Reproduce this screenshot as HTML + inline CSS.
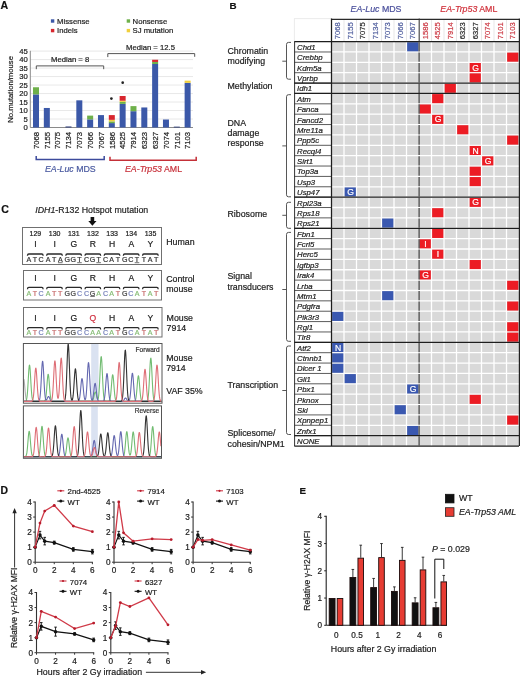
<!DOCTYPE html>
<html><head><meta charset="utf-8"><title>Figure</title>
<style>
html,body{margin:0;padding:0;background:#fff;}
body{width:520px;height:677px;overflow:hidden;}
svg{display:block;font-family:"Liberation Sans",Arial,sans-serif;}
text{stroke-width:0.2px;stroke-linejoin:round;}
</style></head>
<body>
<svg width="520" height="677" viewBox="0 0 520 677">
<rect width="520" height="677" fill="#fff"/>
<text x="0.6" y="9.4" font-size="10.6" font-weight="bold" fill="#111" stroke="#111">A</text>
<rect x="50.9" y="19.3" width="3.4" height="3.4" fill="#3b58a8"/>
<text x="57.1" y="23.6" font-size="7.7" fill="#1c1c1c" stroke="#1c1c1c">Missense</text>
<rect x="50.9" y="28.9" width="3.4" height="3.4" fill="#d8262e"/>
<text x="57.1" y="33.2" font-size="7.7" fill="#1c1c1c" stroke="#1c1c1c">Indels</text>
<rect x="126.7" y="19.3" width="3.4" height="3.4" fill="#6eb04a"/>
<text x="132.6" y="23.6" font-size="7.7" fill="#1c1c1c" stroke="#1c1c1c">Nonsense</text>
<rect x="126.7" y="28.9" width="3.4" height="3.4" fill="#f0cf3c"/>
<text x="132.6" y="33.2" font-size="7.7" fill="#1c1c1c" stroke="#1c1c1c">SJ mutation</text>
<line x1="30.3" y1="119.01" x2="193" y2="119.01" stroke="#e2e2e2" stroke-width="0.8"/>
<line x1="30.3" y1="110.52" x2="193" y2="110.52" stroke="#e2e2e2" stroke-width="0.8"/>
<line x1="30.3" y1="102.03" x2="193" y2="102.03" stroke="#e2e2e2" stroke-width="0.8"/>
<line x1="30.3" y1="93.54" x2="193" y2="93.54" stroke="#e2e2e2" stroke-width="0.8"/>
<line x1="30.3" y1="85.05" x2="193" y2="85.05" stroke="#e2e2e2" stroke-width="0.8"/>
<line x1="30.3" y1="76.56" x2="193" y2="76.56" stroke="#e2e2e2" stroke-width="0.8"/>
<line x1="30.3" y1="68.07" x2="193" y2="68.07" stroke="#e2e2e2" stroke-width="0.8"/>
<line x1="30.3" y1="59.58" x2="193" y2="59.58" stroke="#e2e2e2" stroke-width="0.8"/>
<line x1="30.3" y1="51.09" x2="193" y2="51.09" stroke="#e2e2e2" stroke-width="0.8"/>
<text x="27.8" y="130.25" font-size="7.7" text-anchor="end" fill="#1c1c1c" stroke="#1c1c1c">0</text>
<text x="27.8" y="121.76" font-size="7.7" text-anchor="end" fill="#1c1c1c" stroke="#1c1c1c">5</text>
<text x="27.8" y="113.27" font-size="7.7" text-anchor="end" fill="#1c1c1c" stroke="#1c1c1c">10</text>
<text x="27.8" y="104.78" font-size="7.7" text-anchor="end" fill="#1c1c1c" stroke="#1c1c1c">15</text>
<text x="27.8" y="96.29" font-size="7.7" text-anchor="end" fill="#1c1c1c" stroke="#1c1c1c">20</text>
<text x="27.8" y="87.8" font-size="7.7" text-anchor="end" fill="#1c1c1c" stroke="#1c1c1c">25</text>
<text x="27.8" y="79.31" font-size="7.7" text-anchor="end" fill="#1c1c1c" stroke="#1c1c1c">30</text>
<text x="27.8" y="70.82" font-size="7.7" text-anchor="end" fill="#1c1c1c" stroke="#1c1c1c">35</text>
<text x="27.8" y="62.33" font-size="7.7" text-anchor="end" fill="#1c1c1c" stroke="#1c1c1c">40</text>
<text x="27.8" y="53.84" font-size="7.7" text-anchor="end" fill="#1c1c1c" stroke="#1c1c1c">45</text>
<line x1="30.3" y1="50.79" x2="30.3" y2="127.5" stroke="#8a8a8a" stroke-width="1"/>
<line x1="30.3" y1="127.5" x2="193" y2="127.5" stroke="#8a8a8a" stroke-width="1"/>
<text x="13.3" y="89.4" font-size="7.7" text-anchor="middle" fill="#1c1c1c" stroke="#1c1c1c" transform="rotate(-90 13.3 89.4)">No.mutation/mouse</text>
<rect x="33" y="94.39" width="6" height="33.11" fill="#3b58a8"/>
<rect x="33" y="87.26" width="6" height="7.13" fill="#6eb04a"/>
<text x="38.75" y="132" font-size="7.7" text-anchor="end" fill="#1c1c1c" stroke="#1c1c1c" transform="rotate(-90 38.75 132)">7068</text>
<rect x="43.83" y="107.97" width="6" height="19.53" fill="#3b58a8"/>
<text x="49.58" y="132" font-size="7.7" text-anchor="end" fill="#1c1c1c" stroke="#1c1c1c" transform="rotate(-90 49.58 132)">7155</text>
<text x="60.41" y="132" font-size="7.7" text-anchor="end" fill="#1c1c1c" stroke="#1c1c1c" transform="rotate(-90 60.41 132)">7075</text>
<rect x="65.49" y="126.48" width="6" height="1.02" fill="#2a3a7a"/>
<text x="71.24" y="132" font-size="7.7" text-anchor="end" fill="#1c1c1c" stroke="#1c1c1c" transform="rotate(-90 71.24 132)">7134</text>
<rect x="76.32" y="100.33" width="6" height="27.17" fill="#3b58a8"/>
<text x="82.07" y="132" font-size="7.7" text-anchor="end" fill="#1c1c1c" stroke="#1c1c1c" transform="rotate(-90 82.07 132)">7073</text>
<rect x="87.15" y="119.35" width="6" height="8.15" fill="#3b58a8"/>
<rect x="87.15" y="115.61" width="6" height="3.74" fill="#6eb04a"/>
<text x="92.9" y="132" font-size="7.7" text-anchor="end" fill="#1c1c1c" stroke="#1c1c1c" transform="rotate(-90 92.9 132)">7066</text>
<rect x="97.98" y="115.1" width="6" height="12.4" fill="#3b58a8"/>
<text x="103.73" y="132" font-size="7.7" text-anchor="end" fill="#1c1c1c" stroke="#1c1c1c" transform="rotate(-90 103.73 132)">7067</text>
<rect x="108.81" y="123.09" width="6" height="4.41" fill="#3b58a8"/>
<rect x="108.81" y="121.39" width="6" height="1.7" fill="#6eb04a"/>
<rect x="108.81" y="119.86" width="6" height="1.53" fill="#f0cf3c"/>
<rect x="108.81" y="115.1" width="6" height="4.75" fill="#d8262e"/>
<text x="114.56" y="132" font-size="7.7" text-anchor="end" fill="#1c1c1c" stroke="#1c1c1c" transform="rotate(-90 114.56 132)">1586</text>
<rect x="119.64" y="103.9" width="6" height="23.6" fill="#3b58a8"/>
<rect x="119.64" y="101.86" width="6" height="2.04" fill="#6eb04a"/>
<rect x="119.64" y="100.76" width="6" height="1.1" fill="#f0cf3c"/>
<rect x="119.64" y="96" width="6" height="4.75" fill="#d8262e"/>
<text x="125.39" y="132" font-size="7.7" text-anchor="end" fill="#1c1c1c" stroke="#1c1c1c" transform="rotate(-90 125.39 132)">4525</text>
<rect x="130.47" y="111.2" width="6" height="16.3" fill="#3b58a8"/>
<rect x="130.47" y="106.11" width="6" height="5.09" fill="#6eb04a"/>
<text x="136.22" y="132" font-size="7.7" text-anchor="end" fill="#1c1c1c" stroke="#1c1c1c" transform="rotate(-90 136.22 132)">7914</text>
<rect x="141.3" y="107.46" width="6" height="20.04" fill="#3b58a8"/>
<text x="147.05" y="132" font-size="7.7" text-anchor="end" fill="#1c1c1c" stroke="#1c1c1c" transform="rotate(-90 147.05 132)">6323</text>
<rect x="152.13" y="63.99" width="6" height="63.51" fill="#3b58a8"/>
<rect x="152.13" y="61.96" width="6" height="2.04" fill="#6eb04a"/>
<rect x="152.13" y="59.75" width="6" height="2.21" fill="#d8262e"/>
<text x="157.88" y="132" font-size="7.7" text-anchor="end" fill="#1c1c1c" stroke="#1c1c1c" transform="rotate(-90 157.88 132)">6327</text>
<rect x="162.96" y="119.52" width="6" height="7.98" fill="#3b58a8"/>
<text x="168.71" y="132" font-size="7.7" text-anchor="end" fill="#1c1c1c" stroke="#1c1c1c" transform="rotate(-90 168.71 132)">7074</text>
<rect x="173.79" y="126.65" width="6" height="0.85" fill="#2a3a7a"/>
<text x="179.54" y="132" font-size="7.7" text-anchor="end" fill="#1c1c1c" stroke="#1c1c1c" transform="rotate(-90 179.54 132)">7101</text>
<rect x="184.62" y="82.84" width="6" height="44.66" fill="#3b58a8"/>
<rect x="184.62" y="80.64" width="6" height="2.21" fill="#f0cf3c"/>
<text x="190.37" y="132" font-size="7.7" text-anchor="end" fill="#1c1c1c" stroke="#1c1c1c" transform="rotate(-90 190.37 132)">7103</text>
<circle cx="111.4" cy="98.6" r="1.35" fill="#222"/>
<circle cx="122.7" cy="82.7" r="1.35" fill="#222"/>
<path d="M36.3,69.2V65.9H103.7V69.2" stroke="#555" stroke-width="1" fill="none"/>
<text x="51" y="62.3" font-size="7.7" fill="#1c1c1c" stroke="#1c1c1c">Median = 8</text>
<path d="M107.8,57.1V53.6H194.7V56.8" stroke="#555" stroke-width="1" fill="none"/>
<text x="126" y="50.4" font-size="7.7" fill="#1c1c1c" stroke="#1c1c1c">Median = 12.5</text>
<path d="M36.2,156.1V159.6H104.2V156.1" stroke="#3c4a9c" stroke-width="1.5" fill="none"/>
<text x="44.9" y="172.3" font-size="8.8" fill="#4a5aa0" stroke="#4a5aa0"><tspan font-style="italic">EA-Luc</tspan> MDS</text>
<path d="M110,156.7V160.2H196.2V156.7" stroke="#c43038" stroke-width="1.5" fill="none"/>
<text x="125" y="172.0" font-size="8.8" fill="#c8323c" stroke="#c8323c"><tspan font-style="italic">EA-Trp53</tspan> AML</text>
<text x="229.6" y="9.3" font-size="9.8" font-weight="bold" fill="#111" stroke="#111">B</text>
<text x="350.6" y="12.1" font-size="8.8" fill="#4b509c" stroke="#4b509c"><tspan font-style="italic">EA-Luc</tspan> MDS</text>
<text x="440.3" y="12.1" font-size="8.8" fill="#d0303a" stroke="#d0303a"><tspan font-style="italic">EA-Trp53</tspan> AML</text>
<rect x="294.3" y="18.7" width="37.2" height="22.9" fill="#fff" stroke="#e6e6e6" stroke-width="0.8"/>
<line x1="344" y1="19" x2="344" y2="41.6" stroke="#dcdcdc" stroke-width="0.7"/>
<line x1="356.5" y1="19" x2="356.5" y2="41.6" stroke="#dcdcdc" stroke-width="0.7"/>
<line x1="369" y1="19" x2="369" y2="41.6" stroke="#dcdcdc" stroke-width="0.7"/>
<line x1="381.5" y1="19" x2="381.5" y2="41.6" stroke="#dcdcdc" stroke-width="0.7"/>
<line x1="394" y1="19" x2="394" y2="41.6" stroke="#dcdcdc" stroke-width="0.7"/>
<line x1="406.5" y1="19" x2="406.5" y2="41.6" stroke="#dcdcdc" stroke-width="0.7"/>
<line x1="419" y1="19" x2="419" y2="41.6" stroke="#dcdcdc" stroke-width="0.7"/>
<line x1="431.5" y1="19" x2="431.5" y2="41.6" stroke="#dcdcdc" stroke-width="0.7"/>
<line x1="444" y1="19" x2="444" y2="41.6" stroke="#dcdcdc" stroke-width="0.7"/>
<line x1="456.5" y1="19" x2="456.5" y2="41.6" stroke="#dcdcdc" stroke-width="0.7"/>
<line x1="469" y1="19" x2="469" y2="41.6" stroke="#dcdcdc" stroke-width="0.7"/>
<line x1="481.5" y1="19" x2="481.5" y2="41.6" stroke="#dcdcdc" stroke-width="0.7"/>
<line x1="494" y1="19" x2="494" y2="41.6" stroke="#dcdcdc" stroke-width="0.7"/>
<line x1="506.5" y1="19" x2="506.5" y2="41.6" stroke="#dcdcdc" stroke-width="0.7"/>
<text x="340.5" y="39.2" font-size="7.6" fill="#52609f" stroke="#52609f" transform="rotate(-90 340.5 39.2)">7068</text>
<text x="353" y="39.2" font-size="7.6" fill="#52609f" stroke="#52609f" transform="rotate(-90 353 39.2)">7155</text>
<text x="365.5" y="39.2" font-size="7.6" fill="#2a2a2a" stroke="#2a2a2a" transform="rotate(-90 365.5 39.2)">7075</text>
<text x="378" y="39.2" font-size="7.6" fill="#52609f" stroke="#52609f" transform="rotate(-90 378 39.2)">7134</text>
<text x="390.5" y="39.2" font-size="7.6" fill="#52609f" stroke="#52609f" transform="rotate(-90 390.5 39.2)">7073</text>
<text x="403" y="39.2" font-size="7.6" fill="#52609f" stroke="#52609f" transform="rotate(-90 403 39.2)">7066</text>
<text x="415.5" y="39.2" font-size="7.6" fill="#52609f" stroke="#52609f" transform="rotate(-90 415.5 39.2)">7067</text>
<text x="428" y="39.2" font-size="7.6" fill="#cc3a44" stroke="#cc3a44" transform="rotate(-90 428 39.2)">1586</text>
<text x="440.5" y="39.2" font-size="7.6" fill="#cc3a44" stroke="#cc3a44" transform="rotate(-90 440.5 39.2)">4525</text>
<text x="453" y="39.2" font-size="7.6" fill="#cc3a44" stroke="#cc3a44" transform="rotate(-90 453 39.2)">7914</text>
<text x="465.5" y="39.2" font-size="7.6" fill="#2a2a2a" stroke="#2a2a2a" transform="rotate(-90 465.5 39.2)">6323</text>
<text x="478" y="39.2" font-size="7.6" fill="#2a2a2a" stroke="#2a2a2a" transform="rotate(-90 478 39.2)">6327</text>
<text x="490.5" y="39.2" font-size="7.6" fill="#cc3a44" stroke="#cc3a44" transform="rotate(-90 490.5 39.2)">7074</text>
<text x="503" y="39.2" font-size="7.6" fill="#cc3a44" stroke="#cc3a44" transform="rotate(-90 503 39.2)">7101</text>
<text x="515.5" y="39.2" font-size="7.6" fill="#cc3a44" stroke="#cc3a44" transform="rotate(-90 515.5 39.2)">7103</text>
<line x1="331.5" y1="19.3" x2="519" y2="19.3" stroke="#2a2a2a" stroke-width="1.2"/>
<rect x="331.5" y="41.6" width="187.5" height="404.43" fill="#d9d9d9"/>
<line x1="344" y1="41.6" x2="344" y2="446.03" stroke="#ffffff" stroke-width="1.3"/>
<line x1="356.5" y1="41.6" x2="356.5" y2="446.03" stroke="#ffffff" stroke-width="1.3"/>
<line x1="369" y1="41.6" x2="369" y2="446.03" stroke="#ffffff" stroke-width="1.3"/>
<line x1="381.5" y1="41.6" x2="381.5" y2="446.03" stroke="#ffffff" stroke-width="1.3"/>
<line x1="394" y1="41.6" x2="394" y2="446.03" stroke="#ffffff" stroke-width="1.3"/>
<line x1="406.5" y1="41.6" x2="406.5" y2="446.03" stroke="#ffffff" stroke-width="1.3"/>
<line x1="431.5" y1="41.6" x2="431.5" y2="446.03" stroke="#ffffff" stroke-width="1.3"/>
<line x1="444" y1="41.6" x2="444" y2="446.03" stroke="#ffffff" stroke-width="1.3"/>
<line x1="456.5" y1="41.6" x2="456.5" y2="446.03" stroke="#ffffff" stroke-width="1.3"/>
<line x1="469" y1="41.6" x2="469" y2="446.03" stroke="#ffffff" stroke-width="1.3"/>
<line x1="481.5" y1="41.6" x2="481.5" y2="446.03" stroke="#ffffff" stroke-width="1.3"/>
<line x1="494" y1="41.6" x2="494" y2="446.03" stroke="#ffffff" stroke-width="1.3"/>
<line x1="506.5" y1="41.6" x2="506.5" y2="446.03" stroke="#ffffff" stroke-width="1.3"/>
<line x1="331.5" y1="51.97" x2="519" y2="51.97" stroke="#ffffff" stroke-width="1.3"/>
<line x1="331.5" y1="62.34" x2="519" y2="62.34" stroke="#ffffff" stroke-width="1.3"/>
<line x1="331.5" y1="72.71" x2="519" y2="72.71" stroke="#ffffff" stroke-width="1.3"/>
<line x1="331.5" y1="83.08" x2="519" y2="83.08" stroke="#ffffff" stroke-width="1.3"/>
<line x1="331.5" y1="93.45" x2="519" y2="93.45" stroke="#ffffff" stroke-width="1.3"/>
<line x1="331.5" y1="103.82" x2="519" y2="103.82" stroke="#ffffff" stroke-width="1.3"/>
<line x1="331.5" y1="114.19" x2="519" y2="114.19" stroke="#ffffff" stroke-width="1.3"/>
<line x1="331.5" y1="124.56" x2="519" y2="124.56" stroke="#ffffff" stroke-width="1.3"/>
<line x1="331.5" y1="134.93" x2="519" y2="134.93" stroke="#ffffff" stroke-width="1.3"/>
<line x1="331.5" y1="145.3" x2="519" y2="145.3" stroke="#ffffff" stroke-width="1.3"/>
<line x1="331.5" y1="155.67" x2="519" y2="155.67" stroke="#ffffff" stroke-width="1.3"/>
<line x1="331.5" y1="166.04" x2="519" y2="166.04" stroke="#ffffff" stroke-width="1.3"/>
<line x1="331.5" y1="176.41" x2="519" y2="176.41" stroke="#ffffff" stroke-width="1.3"/>
<line x1="331.5" y1="186.78" x2="519" y2="186.78" stroke="#ffffff" stroke-width="1.3"/>
<line x1="331.5" y1="197.15" x2="519" y2="197.15" stroke="#ffffff" stroke-width="1.3"/>
<line x1="331.5" y1="207.52" x2="519" y2="207.52" stroke="#ffffff" stroke-width="1.3"/>
<line x1="331.5" y1="217.89" x2="519" y2="217.89" stroke="#ffffff" stroke-width="1.3"/>
<line x1="331.5" y1="228.26" x2="519" y2="228.26" stroke="#ffffff" stroke-width="1.3"/>
<line x1="331.5" y1="238.63" x2="519" y2="238.63" stroke="#ffffff" stroke-width="1.3"/>
<line x1="331.5" y1="249" x2="519" y2="249" stroke="#ffffff" stroke-width="1.3"/>
<line x1="331.5" y1="259.37" x2="519" y2="259.37" stroke="#ffffff" stroke-width="1.3"/>
<line x1="331.5" y1="269.74" x2="519" y2="269.74" stroke="#ffffff" stroke-width="1.3"/>
<line x1="331.5" y1="280.11" x2="519" y2="280.11" stroke="#ffffff" stroke-width="1.3"/>
<line x1="331.5" y1="290.48" x2="519" y2="290.48" stroke="#ffffff" stroke-width="1.3"/>
<line x1="331.5" y1="300.85" x2="519" y2="300.85" stroke="#ffffff" stroke-width="1.3"/>
<line x1="331.5" y1="311.22" x2="519" y2="311.22" stroke="#ffffff" stroke-width="1.3"/>
<line x1="331.5" y1="321.59" x2="519" y2="321.59" stroke="#ffffff" stroke-width="1.3"/>
<line x1="331.5" y1="331.96" x2="519" y2="331.96" stroke="#ffffff" stroke-width="1.3"/>
<line x1="331.5" y1="342.33" x2="519" y2="342.33" stroke="#ffffff" stroke-width="1.3"/>
<line x1="331.5" y1="352.7" x2="519" y2="352.7" stroke="#ffffff" stroke-width="1.3"/>
<line x1="331.5" y1="363.07" x2="519" y2="363.07" stroke="#ffffff" stroke-width="1.3"/>
<line x1="331.5" y1="373.44" x2="519" y2="373.44" stroke="#ffffff" stroke-width="1.3"/>
<line x1="331.5" y1="383.81" x2="519" y2="383.81" stroke="#ffffff" stroke-width="1.3"/>
<line x1="331.5" y1="394.18" x2="519" y2="394.18" stroke="#ffffff" stroke-width="1.3"/>
<line x1="331.5" y1="404.55" x2="519" y2="404.55" stroke="#ffffff" stroke-width="1.3"/>
<line x1="331.5" y1="414.92" x2="519" y2="414.92" stroke="#ffffff" stroke-width="1.3"/>
<line x1="331.5" y1="425.29" x2="519" y2="425.29" stroke="#ffffff" stroke-width="1.3"/>
<line x1="331.5" y1="435.66" x2="519" y2="435.66" stroke="#ffffff" stroke-width="1.3"/>
<rect x="407.15" y="42.25" width="11.2" height="9.07" fill="#3a58b0"/>
<rect x="507.15" y="52.62" width="11.2" height="9.07" fill="#ec1c24"/>
<rect x="469.65" y="62.99" width="11.2" height="9.07" fill="#ec1c24"/>
<text x="475.55" y="70.62" font-size="8.6" text-anchor="middle" fill="#fff" stroke="#fff">G</text>
<rect x="469.65" y="73.36" width="11.2" height="9.07" fill="#ec1c24"/>
<rect x="444.65" y="83.73" width="11.2" height="9.07" fill="#ec1c24"/>
<rect x="432.15" y="94.1" width="11.2" height="9.07" fill="#ec1c24"/>
<rect x="419.65" y="104.47" width="11.2" height="9.07" fill="#ec1c24"/>
<rect x="432.15" y="114.84" width="11.2" height="9.07" fill="#ec1c24"/>
<text x="438.05" y="122.47" font-size="8.6" text-anchor="middle" fill="#fff" stroke="#fff">G</text>
<rect x="457.15" y="125.21" width="11.2" height="9.07" fill="#ec1c24"/>
<rect x="507.15" y="135.58" width="11.2" height="9.07" fill="#ec1c24"/>
<rect x="469.65" y="145.95" width="11.2" height="9.07" fill="#ec1c24"/>
<text x="475.55" y="153.58" font-size="8.6" text-anchor="middle" fill="#fff" stroke="#fff">N</text>
<rect x="482.15" y="156.32" width="11.2" height="9.07" fill="#ec1c24"/>
<text x="488.05" y="163.95" font-size="8.6" text-anchor="middle" fill="#fff" stroke="#fff">G</text>
<rect x="469.65" y="166.69" width="11.2" height="9.07" fill="#ec1c24"/>
<rect x="469.65" y="177.06" width="11.2" height="9.07" fill="#ec1c24"/>
<rect x="344.65" y="187.43" width="11.2" height="9.07" fill="#3a58b0"/>
<text x="350.55" y="195.06" font-size="8.6" text-anchor="middle" fill="#fff" stroke="#fff">G</text>
<rect x="469.65" y="197.8" width="11.2" height="9.07" fill="#ec1c24"/>
<text x="475.55" y="205.43" font-size="8.6" text-anchor="middle" fill="#fff" stroke="#fff">G</text>
<rect x="432.15" y="208.17" width="11.2" height="9.07" fill="#ec1c24"/>
<rect x="382.15" y="218.54" width="11.2" height="9.07" fill="#3a58b0"/>
<rect x="432.15" y="228.91" width="11.2" height="9.07" fill="#ec1c24"/>
<rect x="419.65" y="239.28" width="11.2" height="9.07" fill="#ec1c24"/>
<text x="425.55" y="246.91" font-size="8.6" text-anchor="middle" fill="#fff" stroke="#fff">I</text>
<rect x="432.15" y="249.65" width="11.2" height="9.07" fill="#ec1c24"/>
<text x="438.05" y="257.28" font-size="8.6" text-anchor="middle" fill="#fff" stroke="#fff">I</text>
<rect x="469.65" y="260.02" width="11.2" height="9.07" fill="#ec1c24"/>
<rect x="419.65" y="270.39" width="11.2" height="9.07" fill="#ec1c24"/>
<text x="425.55" y="278.03" font-size="8.6" text-anchor="middle" fill="#fff" stroke="#fff">G</text>
<rect x="507.15" y="280.76" width="11.2" height="9.07" fill="#ec1c24"/>
<rect x="382.15" y="291.13" width="11.2" height="9.07" fill="#3a58b0"/>
<rect x="507.15" y="301.5" width="11.2" height="9.07" fill="#ec1c24"/>
<rect x="332.15" y="311.87" width="11.2" height="9.07" fill="#3a58b0"/>
<rect x="507.15" y="322.24" width="11.2" height="9.07" fill="#ec1c24"/>
<rect x="507.15" y="332.61" width="11.2" height="9.07" fill="#ec1c24"/>
<rect x="332.15" y="342.98" width="11.2" height="9.07" fill="#3a58b0"/>
<text x="338.05" y="350.62" font-size="8.6" text-anchor="middle" fill="#fff" stroke="#fff">N</text>
<rect x="332.15" y="353.35" width="11.2" height="9.07" fill="#3a58b0"/>
<rect x="332.15" y="363.72" width="11.2" height="9.07" fill="#3a58b0"/>
<rect x="344.65" y="374.09" width="11.2" height="9.07" fill="#3a58b0"/>
<rect x="407.15" y="384.46" width="11.2" height="9.07" fill="#3a58b0"/>
<text x="413.05" y="392.1" font-size="8.6" text-anchor="middle" fill="#fff" stroke="#fff">G</text>
<rect x="469.65" y="394.83" width="11.2" height="9.07" fill="#ec1c24"/>
<rect x="394.65" y="405.2" width="11.2" height="9.07" fill="#3a58b0"/>
<rect x="507.15" y="415.57" width="11.2" height="9.07" fill="#ec1c24"/>
<rect x="407.15" y="425.94" width="11.2" height="9.07" fill="#3a58b0"/>
<line x1="419.1" y1="42.15" x2="419.1" y2="51.42" stroke="#333" stroke-width="1.1"/>
<line x1="419.1" y1="52.52" x2="419.1" y2="61.79" stroke="#333" stroke-width="1.1"/>
<line x1="419.1" y1="62.89" x2="419.1" y2="72.16" stroke="#333" stroke-width="1.1"/>
<line x1="419.1" y1="73.26" x2="419.1" y2="82.53" stroke="#333" stroke-width="1.1"/>
<line x1="419.1" y1="83.63" x2="419.1" y2="92.9" stroke="#333" stroke-width="1.1"/>
<line x1="419.1" y1="94" x2="419.1" y2="103.27" stroke="#333" stroke-width="1.1"/>
<line x1="419.1" y1="104.37" x2="419.1" y2="113.64" stroke="#333" stroke-width="1.1"/>
<line x1="419.1" y1="114.74" x2="419.1" y2="124.01" stroke="#333" stroke-width="1.1"/>
<line x1="419.1" y1="125.11" x2="419.1" y2="134.38" stroke="#333" stroke-width="1.1"/>
<line x1="419.1" y1="135.48" x2="419.1" y2="144.75" stroke="#333" stroke-width="1.1"/>
<line x1="419.1" y1="145.85" x2="419.1" y2="155.12" stroke="#333" stroke-width="1.1"/>
<line x1="419.1" y1="156.22" x2="419.1" y2="165.49" stroke="#333" stroke-width="1.1"/>
<line x1="419.1" y1="166.59" x2="419.1" y2="175.86" stroke="#333" stroke-width="1.1"/>
<line x1="419.1" y1="176.96" x2="419.1" y2="186.23" stroke="#333" stroke-width="1.1"/>
<line x1="419.1" y1="187.33" x2="419.1" y2="196.6" stroke="#333" stroke-width="1.1"/>
<line x1="419.1" y1="197.7" x2="419.1" y2="206.97" stroke="#333" stroke-width="1.1"/>
<line x1="419.1" y1="208.07" x2="419.1" y2="217.34" stroke="#333" stroke-width="1.1"/>
<line x1="419.1" y1="218.44" x2="419.1" y2="227.71" stroke="#333" stroke-width="1.1"/>
<line x1="419.1" y1="228.81" x2="419.1" y2="238.08" stroke="#333" stroke-width="1.1"/>
<line x1="419.1" y1="239.18" x2="419.1" y2="248.45" stroke="#333" stroke-width="1.1"/>
<line x1="419.1" y1="249.55" x2="419.1" y2="258.82" stroke="#333" stroke-width="1.1"/>
<line x1="419.1" y1="259.92" x2="419.1" y2="269.19" stroke="#333" stroke-width="1.1"/>
<line x1="419.1" y1="270.29" x2="419.1" y2="279.56" stroke="#333" stroke-width="1.1"/>
<line x1="419.1" y1="280.66" x2="419.1" y2="289.93" stroke="#333" stroke-width="1.1"/>
<line x1="419.1" y1="291.03" x2="419.1" y2="300.3" stroke="#333" stroke-width="1.1"/>
<line x1="419.1" y1="301.4" x2="419.1" y2="310.67" stroke="#333" stroke-width="1.1"/>
<line x1="419.1" y1="311.77" x2="419.1" y2="321.04" stroke="#333" stroke-width="1.1"/>
<line x1="419.1" y1="322.14" x2="419.1" y2="331.41" stroke="#333" stroke-width="1.1"/>
<line x1="419.1" y1="332.51" x2="419.1" y2="341.78" stroke="#333" stroke-width="1.1"/>
<line x1="419.1" y1="342.88" x2="419.1" y2="352.15" stroke="#333" stroke-width="1.1"/>
<line x1="419.1" y1="353.25" x2="419.1" y2="362.52" stroke="#333" stroke-width="1.1"/>
<line x1="419.1" y1="363.62" x2="419.1" y2="372.89" stroke="#333" stroke-width="1.1"/>
<line x1="419.1" y1="373.99" x2="419.1" y2="383.26" stroke="#333" stroke-width="1.1"/>
<line x1="419.1" y1="384.36" x2="419.1" y2="393.63" stroke="#333" stroke-width="1.1"/>
<line x1="419.1" y1="394.73" x2="419.1" y2="404" stroke="#333" stroke-width="1.1"/>
<line x1="419.1" y1="405.1" x2="419.1" y2="414.37" stroke="#333" stroke-width="1.1"/>
<line x1="419.1" y1="415.47" x2="419.1" y2="424.74" stroke="#333" stroke-width="1.1"/>
<line x1="419.1" y1="425.84" x2="419.1" y2="435.11" stroke="#333" stroke-width="1.1"/>
<line x1="419.1" y1="436.21" x2="419.1" y2="445.48" stroke="#333" stroke-width="1.1"/>
<rect x="294.3" y="41.6" width="37.2" height="404.43" fill="#fff"/>
<line x1="294.3" y1="51.97" x2="331.5" y2="51.97" stroke="#4a4a4a" stroke-width="0.9"/>
<line x1="294.3" y1="62.34" x2="331.5" y2="62.34" stroke="#4a4a4a" stroke-width="0.9"/>
<line x1="294.3" y1="72.71" x2="331.5" y2="72.71" stroke="#4a4a4a" stroke-width="0.9"/>
<line x1="294.3" y1="83.08" x2="331.5" y2="83.08" stroke="#4a4a4a" stroke-width="0.9"/>
<line x1="294.3" y1="93.45" x2="331.5" y2="93.45" stroke="#4a4a4a" stroke-width="0.9"/>
<line x1="294.3" y1="103.82" x2="331.5" y2="103.82" stroke="#4a4a4a" stroke-width="0.9"/>
<line x1="294.3" y1="114.19" x2="331.5" y2="114.19" stroke="#4a4a4a" stroke-width="0.9"/>
<line x1="294.3" y1="124.56" x2="331.5" y2="124.56" stroke="#4a4a4a" stroke-width="0.9"/>
<line x1="294.3" y1="134.93" x2="331.5" y2="134.93" stroke="#4a4a4a" stroke-width="0.9"/>
<line x1="294.3" y1="145.3" x2="331.5" y2="145.3" stroke="#4a4a4a" stroke-width="0.9"/>
<line x1="294.3" y1="155.67" x2="331.5" y2="155.67" stroke="#4a4a4a" stroke-width="0.9"/>
<line x1="294.3" y1="166.04" x2="331.5" y2="166.04" stroke="#4a4a4a" stroke-width="0.9"/>
<line x1="294.3" y1="176.41" x2="331.5" y2="176.41" stroke="#4a4a4a" stroke-width="0.9"/>
<line x1="294.3" y1="186.78" x2="331.5" y2="186.78" stroke="#4a4a4a" stroke-width="0.9"/>
<line x1="294.3" y1="197.15" x2="331.5" y2="197.15" stroke="#4a4a4a" stroke-width="0.9"/>
<line x1="294.3" y1="207.52" x2="331.5" y2="207.52" stroke="#4a4a4a" stroke-width="0.9"/>
<line x1="294.3" y1="217.89" x2="331.5" y2="217.89" stroke="#4a4a4a" stroke-width="0.9"/>
<line x1="294.3" y1="228.26" x2="331.5" y2="228.26" stroke="#4a4a4a" stroke-width="0.9"/>
<line x1="294.3" y1="238.63" x2="331.5" y2="238.63" stroke="#4a4a4a" stroke-width="0.9"/>
<line x1="294.3" y1="249" x2="331.5" y2="249" stroke="#4a4a4a" stroke-width="0.9"/>
<line x1="294.3" y1="259.37" x2="331.5" y2="259.37" stroke="#4a4a4a" stroke-width="0.9"/>
<line x1="294.3" y1="269.74" x2="331.5" y2="269.74" stroke="#4a4a4a" stroke-width="0.9"/>
<line x1="294.3" y1="280.11" x2="331.5" y2="280.11" stroke="#4a4a4a" stroke-width="0.9"/>
<line x1="294.3" y1="290.48" x2="331.5" y2="290.48" stroke="#4a4a4a" stroke-width="0.9"/>
<line x1="294.3" y1="300.85" x2="331.5" y2="300.85" stroke="#4a4a4a" stroke-width="0.9"/>
<line x1="294.3" y1="311.22" x2="331.5" y2="311.22" stroke="#4a4a4a" stroke-width="0.9"/>
<line x1="294.3" y1="321.59" x2="331.5" y2="321.59" stroke="#4a4a4a" stroke-width="0.9"/>
<line x1="294.3" y1="331.96" x2="331.5" y2="331.96" stroke="#4a4a4a" stroke-width="0.9"/>
<line x1="294.3" y1="342.33" x2="331.5" y2="342.33" stroke="#4a4a4a" stroke-width="0.9"/>
<line x1="294.3" y1="352.7" x2="331.5" y2="352.7" stroke="#4a4a4a" stroke-width="0.9"/>
<line x1="294.3" y1="363.07" x2="331.5" y2="363.07" stroke="#4a4a4a" stroke-width="0.9"/>
<line x1="294.3" y1="373.44" x2="331.5" y2="373.44" stroke="#4a4a4a" stroke-width="0.9"/>
<line x1="294.3" y1="383.81" x2="331.5" y2="383.81" stroke="#4a4a4a" stroke-width="0.9"/>
<line x1="294.3" y1="394.18" x2="331.5" y2="394.18" stroke="#4a4a4a" stroke-width="0.9"/>
<line x1="294.3" y1="404.55" x2="331.5" y2="404.55" stroke="#4a4a4a" stroke-width="0.9"/>
<line x1="294.3" y1="414.92" x2="331.5" y2="414.92" stroke="#4a4a4a" stroke-width="0.9"/>
<line x1="294.3" y1="425.29" x2="331.5" y2="425.29" stroke="#4a4a4a" stroke-width="0.9"/>
<line x1="294.3" y1="435.66" x2="331.5" y2="435.66" stroke="#4a4a4a" stroke-width="0.9"/>
<text x="297" y="49.99" font-size="7.8" font-style="italic" fill="#1c1c1c" stroke="#1c1c1c">Chd1</text>
<text x="297" y="60.36" font-size="7.8" font-style="italic" fill="#1c1c1c" stroke="#1c1c1c">Crebbp</text>
<text x="297" y="70.73" font-size="7.8" font-style="italic" fill="#1c1c1c" stroke="#1c1c1c">Kdm5a</text>
<text x="297" y="81.1" font-size="7.8" font-style="italic" fill="#1c1c1c" stroke="#1c1c1c">Vprbp</text>
<text x="297" y="91.47" font-size="7.8" font-style="italic" fill="#1c1c1c" stroke="#1c1c1c">Idh1</text>
<text x="297" y="101.83" font-size="7.8" font-style="italic" fill="#1c1c1c" stroke="#1c1c1c">Atm</text>
<text x="297" y="112.2" font-size="7.8" font-style="italic" fill="#1c1c1c" stroke="#1c1c1c">Fanca</text>
<text x="297" y="122.58" font-size="7.8" font-style="italic" fill="#1c1c1c" stroke="#1c1c1c">Fancd2</text>
<text x="297" y="132.94" font-size="7.8" font-style="italic" fill="#1c1c1c" stroke="#1c1c1c">Mre11a</text>
<text x="297" y="143.31" font-size="7.8" font-style="italic" fill="#1c1c1c" stroke="#1c1c1c">Ppp5c</text>
<text x="297" y="153.68" font-size="7.8" font-style="italic" fill="#1c1c1c" stroke="#1c1c1c">Recql4</text>
<text x="297" y="164.05" font-size="7.8" font-style="italic" fill="#1c1c1c" stroke="#1c1c1c">Sirt1</text>
<text x="297" y="174.42" font-size="7.8" font-style="italic" fill="#1c1c1c" stroke="#1c1c1c">Top3a</text>
<text x="297" y="184.79" font-size="7.8" font-style="italic" fill="#1c1c1c" stroke="#1c1c1c">Usp3</text>
<text x="297" y="195.16" font-size="7.8" font-style="italic" fill="#1c1c1c" stroke="#1c1c1c">Usp47</text>
<text x="297" y="205.53" font-size="7.8" font-style="italic" fill="#1c1c1c" stroke="#1c1c1c">Rpl23a</text>
<text x="297" y="215.9" font-size="7.8" font-style="italic" fill="#1c1c1c" stroke="#1c1c1c">Rps18</text>
<text x="297" y="226.27" font-size="7.8" font-style="italic" fill="#1c1c1c" stroke="#1c1c1c">Rps21</text>
<text x="297" y="236.64" font-size="7.8" font-style="italic" fill="#1c1c1c" stroke="#1c1c1c">Fbn1</text>
<text x="297" y="247.01" font-size="7.8" font-style="italic" fill="#1c1c1c" stroke="#1c1c1c">Fcrl5</text>
<text x="297" y="257.38" font-size="7.8" font-style="italic" fill="#1c1c1c" stroke="#1c1c1c">Herc5</text>
<text x="297" y="267.75" font-size="7.8" font-style="italic" fill="#1c1c1c" stroke="#1c1c1c">Igfbp3</text>
<text x="297" y="278.12" font-size="7.8" font-style="italic" fill="#1c1c1c" stroke="#1c1c1c">Irak4</text>
<text x="297" y="288.5" font-size="7.8" font-style="italic" fill="#1c1c1c" stroke="#1c1c1c">Lrba</text>
<text x="297" y="298.87" font-size="7.8" font-style="italic" fill="#1c1c1c" stroke="#1c1c1c">Mtm1</text>
<text x="297" y="309.24" font-size="7.8" font-style="italic" fill="#1c1c1c" stroke="#1c1c1c">Pdgfra</text>
<text x="297" y="319.61" font-size="7.8" font-style="italic" fill="#1c1c1c" stroke="#1c1c1c">Pik3r3</text>
<text x="297" y="329.97" font-size="7.8" font-style="italic" fill="#1c1c1c" stroke="#1c1c1c">Rgl1</text>
<text x="297" y="340.34" font-size="7.8" font-style="italic" fill="#1c1c1c" stroke="#1c1c1c">Tlr8</text>
<text x="297" y="350.71" font-size="7.8" font-style="italic" fill="#1c1c1c" stroke="#1c1c1c">Atf2</text>
<text x="297" y="361.08" font-size="7.8" font-style="italic" fill="#1c1c1c" stroke="#1c1c1c">Ctnnb1</text>
<text x="297" y="371.45" font-size="7.8" font-style="italic" fill="#1c1c1c" stroke="#1c1c1c">Dicer 1</text>
<text x="297" y="381.82" font-size="7.8" font-style="italic" fill="#1c1c1c" stroke="#1c1c1c">Gli1</text>
<text x="297" y="392.19" font-size="7.8" font-style="italic" fill="#1c1c1c" stroke="#1c1c1c">Pbx1</text>
<text x="297" y="402.56" font-size="7.8" font-style="italic" fill="#1c1c1c" stroke="#1c1c1c">Pknox</text>
<text x="297" y="412.94" font-size="7.8" font-style="italic" fill="#1c1c1c" stroke="#1c1c1c">Ski</text>
<text x="297" y="423.31" font-size="7.8" font-style="italic" fill="#1c1c1c" stroke="#1c1c1c">Xpnpep1</text>
<text x="297" y="433.68" font-size="7.8" font-style="italic" fill="#1c1c1c" stroke="#1c1c1c">Znfx1</text>
<text x="297" y="444.04" font-size="7.8" font-style="italic" fill="#1c1c1c" stroke="#1c1c1c">NONE</text>
<line x1="294.6" y1="41.6" x2="294.6" y2="446.03" stroke="#333" stroke-width="1"/>
<line x1="294.3" y1="41.6" x2="519" y2="41.6" stroke="#1e1e1e" stroke-width="1.25"/>
<line x1="294.3" y1="83.08" x2="519" y2="83.08" stroke="#1e1e1e" stroke-width="1.25"/>
<line x1="294.3" y1="93.45" x2="519" y2="93.45" stroke="#1e1e1e" stroke-width="1.25"/>
<line x1="294.3" y1="197.15" x2="519" y2="197.15" stroke="#1e1e1e" stroke-width="1.25"/>
<line x1="294.3" y1="228.26" x2="519" y2="228.26" stroke="#1e1e1e" stroke-width="1.25"/>
<line x1="294.3" y1="342.33" x2="519" y2="342.33" stroke="#1e1e1e" stroke-width="1.25"/>
<line x1="294.3" y1="435.66" x2="519" y2="435.66" stroke="#1e1e1e" stroke-width="1.25"/>
<line x1="294.3" y1="446.03" x2="519" y2="446.03" stroke="#1e1e1e" stroke-width="1.25"/>
<line x1="331.5" y1="18.5" x2="331.5" y2="446.03" stroke="#1e1e1e" stroke-width="1.25"/>
<line x1="419.2" y1="18.5" x2="419.2" y2="41.6" stroke="#333" stroke-width="1"/>
<line x1="519.4" y1="18.5" x2="519.4" y2="446.03" stroke="#222" stroke-width="1.2"/>
<text x="227.5" y="53.7" font-size="8.8" fill="#1c1c1c" stroke="#1c1c1c">Chromatin</text>
<text x="227.5" y="64.2" font-size="8.8" fill="#1c1c1c" stroke="#1c1c1c">modifying</text>
<text x="227.5" y="88.7" font-size="8.8" fill="#1c1c1c" stroke="#1c1c1c">Methylation</text>
<text x="227.5" y="126.2" font-size="8.8" fill="#1c1c1c" stroke="#1c1c1c">DNA</text>
<text x="227.5" y="136.3" font-size="8.8" fill="#1c1c1c" stroke="#1c1c1c">damage</text>
<text x="227.5" y="146.3" font-size="8.8" fill="#1c1c1c" stroke="#1c1c1c">response</text>
<text x="227.5" y="217" font-size="8.8" fill="#1c1c1c" stroke="#1c1c1c">Ribosome</text>
<text x="227.5" y="279.3" font-size="8.8" fill="#1c1c1c" stroke="#1c1c1c">Signal</text>
<text x="227.5" y="289.5" font-size="8.8" fill="#1c1c1c" stroke="#1c1c1c">transducers</text>
<text x="227.5" y="388" font-size="8.8" fill="#1c1c1c" stroke="#1c1c1c">Transcription</text>
<text x="227.5" y="436.3" font-size="8.8" fill="#1c1c1c" stroke="#1c1c1c">Splicesome/</text>
<text x="227.5" y="447" font-size="8.8" fill="#1c1c1c" stroke="#1c1c1c">cohesin/NPM1</text>
<path d="M291,42.4H288.5Q286.5,42.4 286.5,44.4V77.2Q286.5,79.2 288.5,79.2H291M286.5,61.2H282.3" stroke="#444" stroke-width="0.9" fill="none"/>
<path d="M291,94.7H288.5Q286.5,94.7 286.5,96.7V194.8Q286.5,196.8 288.5,196.8H291M286.5,145.9H282.3" stroke="#444" stroke-width="0.9" fill="none"/>
<path d="M291,202.3H288.5Q286.5,202.3 286.5,204.3V226.3Q286.5,228.3 288.5,228.3H291M286.5,215.3H282.3" stroke="#444" stroke-width="0.9" fill="none"/>
<path d="M291,232.4H288.5Q286.5,232.4 286.5,234.4V339.3Q286.5,341.3 288.5,341.3H291M286.5,289.5H282.3" stroke="#444" stroke-width="0.9" fill="none"/>
<path d="M291,346H288.5Q286.5,346 286.5,348V432.5Q286.5,434.5 288.5,434.5H291M286.5,390.5H282.3" stroke="#444" stroke-width="0.9" fill="none"/>
<text x="1.2" y="213" font-size="10.6" font-weight="bold" fill="#111" stroke="#111">C</text>
<text x="35.3" y="212.6" font-size="8.8" fill="#262626" stroke="#262626"><tspan font-style="italic">IDH1</tspan>-R132 Hotspot mutation</text>
<path d="M90.6,216.9H94.2V221H96.5L92.4,225.7L88.3,221H90.6Z" stroke="none" stroke-width="0" fill="#111"/>
<rect x="22.5" y="227.5" width="139" height="37" fill="#fff" stroke="#707070" stroke-width="1"/>
<rect x="23.5" y="270.5" width="138" height="29.5" fill="#fff" stroke="#707070" stroke-width="1"/>
<rect x="23.5" y="307.5" width="138.5" height="29.5" fill="#fff" stroke="#707070" stroke-width="1"/>
<text x="35.4" y="236" font-size="7" text-anchor="middle" fill="#1c1c1c" stroke="#1c1c1c">129</text>
<text x="54.58" y="236" font-size="7" text-anchor="middle" fill="#1c1c1c" stroke="#1c1c1c">130</text>
<text x="73.76" y="236" font-size="7" text-anchor="middle" fill="#1c1c1c" stroke="#1c1c1c">131</text>
<text x="92.94" y="236" font-size="7" text-anchor="middle" fill="#1c1c1c" stroke="#1c1c1c">132</text>
<text x="112.12" y="236" font-size="7" text-anchor="middle" fill="#1c1c1c" stroke="#1c1c1c">133</text>
<text x="131.3" y="236" font-size="7" text-anchor="middle" fill="#1c1c1c" stroke="#1c1c1c">134</text>
<text x="150.48" y="236" font-size="7" text-anchor="middle" fill="#1c1c1c" stroke="#1c1c1c">135</text>
<text x="35.4" y="246.6" font-size="8.6" text-anchor="middle" fill="#1c1c1c" stroke="#1c1c1c">I</text>
<path d="M27.5,255.8Q27.5,254 28.8,254H41.8Q43.1,254 43.1,255.8" stroke="#2a2a2a" stroke-width="1.3" fill="none"/>
<text x="28.9" y="261.8" font-size="7.1" text-anchor="middle" fill="#333" stroke="#333">A</text>
<text x="35" y="261.8" font-size="7.1" text-anchor="middle" fill="#333" stroke="#333">T</text>
<text x="41.1" y="261.8" font-size="7.1" text-anchor="middle" fill="#333" stroke="#333">C</text>
<text x="54.58" y="246.6" font-size="8.6" text-anchor="middle" fill="#1c1c1c" stroke="#1c1c1c">I</text>
<path d="M46.68,255.8Q46.68,254 47.98,254H60.98Q62.28,254 62.28,255.8" stroke="#2a2a2a" stroke-width="1.3" fill="none"/>
<text x="48.08" y="261.8" font-size="7.1" text-anchor="middle" fill="#333" stroke="#333">A</text>
<text x="54.18" y="261.8" font-size="7.1" text-anchor="middle" fill="#333" stroke="#333">T</text>
<text x="60.28" y="261.8" font-size="7.1" text-anchor="middle" fill="#333" stroke="#333">A</text>
<line x1="57.98" y1="262.7" x2="62.58" y2="262.7" stroke="#333" stroke-width="0.7"/>
<text x="73.76" y="246.6" font-size="8.6" text-anchor="middle" fill="#1c1c1c" stroke="#1c1c1c">G</text>
<path d="M65.86,255.8Q65.86,254 67.16,254H80.16Q81.46,254 81.46,255.8" stroke="#2a2a2a" stroke-width="1.3" fill="none"/>
<text x="67.26" y="261.8" font-size="7.1" text-anchor="middle" fill="#333" stroke="#333">G</text>
<text x="73.36" y="261.8" font-size="7.1" text-anchor="middle" fill="#333" stroke="#333">G</text>
<text x="79.46" y="261.8" font-size="7.1" text-anchor="middle" fill="#333" stroke="#333">T</text>
<line x1="77.16" y1="262.7" x2="81.76" y2="262.7" stroke="#333" stroke-width="0.7"/>
<text x="92.94" y="246.6" font-size="8.6" text-anchor="middle" fill="#1c1c1c" stroke="#1c1c1c">R</text>
<path d="M85.04,255.8Q85.04,254 86.34,254H99.34Q100.64,254 100.64,255.8" stroke="#2a2a2a" stroke-width="1.3" fill="none"/>
<text x="86.44" y="261.8" font-size="7.1" text-anchor="middle" fill="#333" stroke="#333">C</text>
<text x="92.54" y="261.8" font-size="7.1" text-anchor="middle" fill="#333" stroke="#333">G</text>
<text x="98.64" y="261.8" font-size="7.1" text-anchor="middle" fill="#333" stroke="#333">T</text>
<line x1="96.34" y1="262.7" x2="100.94" y2="262.7" stroke="#333" stroke-width="0.7"/>
<text x="112.12" y="246.6" font-size="8.6" text-anchor="middle" fill="#1c1c1c" stroke="#1c1c1c">H</text>
<path d="M104.22,255.8Q104.22,254 105.52,254H118.52Q119.82,254 119.82,255.8" stroke="#2a2a2a" stroke-width="1.3" fill="none"/>
<text x="105.62" y="261.8" font-size="7.1" text-anchor="middle" fill="#333" stroke="#333">C</text>
<text x="111.72" y="261.8" font-size="7.1" text-anchor="middle" fill="#333" stroke="#333">A</text>
<text x="117.82" y="261.8" font-size="7.1" text-anchor="middle" fill="#333" stroke="#333">T</text>
<text x="131.3" y="246.6" font-size="8.6" text-anchor="middle" fill="#1c1c1c" stroke="#1c1c1c">A</text>
<path d="M123.4,255.8Q123.4,254 124.7,254H137.7Q139,254 139,255.8" stroke="#2a2a2a" stroke-width="1.3" fill="none"/>
<text x="124.8" y="261.8" font-size="7.1" text-anchor="middle" fill="#333" stroke="#333">G</text>
<text x="130.9" y="261.8" font-size="7.1" text-anchor="middle" fill="#333" stroke="#333">C</text>
<text x="137" y="261.8" font-size="7.1" text-anchor="middle" fill="#333" stroke="#333">T</text>
<line x1="134.7" y1="262.7" x2="139.3" y2="262.7" stroke="#333" stroke-width="0.7"/>
<text x="150.48" y="246.6" font-size="8.6" text-anchor="middle" fill="#1c1c1c" stroke="#1c1c1c">Y</text>
<path d="M142.58,255.8Q142.58,254 143.88,254H156.88Q158.18,254 158.18,255.8" stroke="#2a2a2a" stroke-width="1.3" fill="none"/>
<text x="143.98" y="261.8" font-size="7.1" text-anchor="middle" fill="#333" stroke="#333">T</text>
<text x="150.08" y="261.8" font-size="7.1" text-anchor="middle" fill="#333" stroke="#333">A</text>
<text x="156.18" y="261.8" font-size="7.1" text-anchor="middle" fill="#333" stroke="#333">T</text>
<text x="35.4" y="280.7" font-size="8.6" text-anchor="middle" fill="#1c1c1c" stroke="#1c1c1c">I</text>
<path d="M27.5,289.2Q27.5,287.4 28.8,287.4H41.8Q43.1,287.4 43.1,289.2" stroke="#2a2a2a" stroke-width="1.3" fill="none"/>
<text x="28.9" y="295.6" font-size="7.1" text-anchor="middle" fill="#86bc74" stroke="#86bc74">A</text>
<text x="35" y="295.6" font-size="7.1" text-anchor="middle" fill="#c86c6c" stroke="#c86c6c">T</text>
<text x="41.1" y="295.6" font-size="7.1" text-anchor="middle" fill="#7884bc" stroke="#7884bc">C</text>
<text x="54.58" y="280.7" font-size="8.6" text-anchor="middle" fill="#1c1c1c" stroke="#1c1c1c">I</text>
<path d="M46.68,289.2Q46.68,287.4 47.98,287.4H60.98Q62.28,287.4 62.28,289.2" stroke="#2a2a2a" stroke-width="1.3" fill="none"/>
<text x="48.08" y="295.6" font-size="7.1" text-anchor="middle" fill="#86bc74" stroke="#86bc74">A</text>
<text x="54.18" y="295.6" font-size="7.1" text-anchor="middle" fill="#c86c6c" stroke="#c86c6c">T</text>
<text x="60.28" y="295.6" font-size="7.1" text-anchor="middle" fill="#c86c6c" stroke="#c86c6c">T</text>
<text x="73.76" y="280.7" font-size="8.6" text-anchor="middle" fill="#1c1c1c" stroke="#1c1c1c">G</text>
<path d="M65.86,289.2Q65.86,287.4 67.16,287.4H80.16Q81.46,287.4 81.46,289.2" stroke="#2a2a2a" stroke-width="1.3" fill="none"/>
<text x="67.26" y="295.6" font-size="7.1" text-anchor="middle" fill="#404040" stroke="#404040">G</text>
<text x="73.36" y="295.6" font-size="7.1" text-anchor="middle" fill="#404040" stroke="#404040">G</text>
<text x="79.46" y="295.6" font-size="7.1" text-anchor="middle" fill="#7884bc" stroke="#7884bc">C</text>
<text x="92.94" y="280.7" font-size="8.6" text-anchor="middle" fill="#1c1c1c" stroke="#1c1c1c">R</text>
<path d="M85.04,289.2Q85.04,287.4 86.34,287.4H99.34Q100.64,287.4 100.64,289.2" stroke="#2a2a2a" stroke-width="1.3" fill="none"/>
<text x="86.44" y="295.6" font-size="7.1" text-anchor="middle" fill="#7884bc" stroke="#7884bc">C</text>
<text x="92.54" y="295.6" font-size="7.1" text-anchor="middle" fill="#404040" stroke="#404040">G</text>
<line x1="90.24" y1="296.5" x2="94.84" y2="296.5" stroke="#404040" stroke-width="0.7"/>
<text x="98.64" y="295.6" font-size="7.1" text-anchor="middle" fill="#86bc74" stroke="#86bc74">A</text>
<text x="112.12" y="280.7" font-size="8.6" text-anchor="middle" fill="#1c1c1c" stroke="#1c1c1c">H</text>
<path d="M104.22,289.2Q104.22,287.4 105.52,287.4H118.52Q119.82,287.4 119.82,289.2" stroke="#2a2a2a" stroke-width="1.3" fill="none"/>
<text x="105.62" y="295.6" font-size="7.1" text-anchor="middle" fill="#7884bc" stroke="#7884bc">C</text>
<text x="111.72" y="295.6" font-size="7.1" text-anchor="middle" fill="#86bc74" stroke="#86bc74">A</text>
<text x="117.82" y="295.6" font-size="7.1" text-anchor="middle" fill="#c86c6c" stroke="#c86c6c">T</text>
<text x="131.3" y="280.7" font-size="8.6" text-anchor="middle" fill="#1c1c1c" stroke="#1c1c1c">A</text>
<path d="M123.4,289.2Q123.4,287.4 124.7,287.4H137.7Q139,287.4 139,289.2" stroke="#2a2a2a" stroke-width="1.3" fill="none"/>
<text x="124.8" y="295.6" font-size="7.1" text-anchor="middle" fill="#404040" stroke="#404040">G</text>
<text x="130.9" y="295.6" font-size="7.1" text-anchor="middle" fill="#7884bc" stroke="#7884bc">C</text>
<text x="137" y="295.6" font-size="7.1" text-anchor="middle" fill="#86bc74" stroke="#86bc74">A</text>
<text x="150.48" y="280.7" font-size="8.6" text-anchor="middle" fill="#1c1c1c" stroke="#1c1c1c">Y</text>
<path d="M142.58,289.2Q142.58,287.4 143.88,287.4H156.88Q158.18,287.4 158.18,289.2" stroke="#2a2a2a" stroke-width="1.3" fill="none"/>
<text x="143.98" y="295.6" font-size="7.1" text-anchor="middle" fill="#c86c6c" stroke="#c86c6c">T</text>
<text x="150.08" y="295.6" font-size="7.1" text-anchor="middle" fill="#86bc74" stroke="#86bc74">A</text>
<text x="156.18" y="295.6" font-size="7.1" text-anchor="middle" fill="#c86c6c" stroke="#c86c6c">T</text>
<text x="35.4" y="320.5" font-size="8.6" text-anchor="middle" fill="#1c1c1c" stroke="#1c1c1c">I</text>
<path d="M27.5,329.5Q27.5,327.7 28.8,327.7H41.8Q43.1,327.7 43.1,329.5" stroke="#2a2a2a" stroke-width="1.3" fill="none"/>
<text x="28.9" y="334.7" font-size="7.1" text-anchor="middle" fill="#86bc74" stroke="#86bc74">A</text>
<text x="35" y="334.7" font-size="7.1" text-anchor="middle" fill="#c86c6c" stroke="#c86c6c">T</text>
<text x="41.1" y="334.7" font-size="7.1" text-anchor="middle" fill="#7884bc" stroke="#7884bc">C</text>
<text x="54.58" y="320.5" font-size="8.6" text-anchor="middle" fill="#1c1c1c" stroke="#1c1c1c">I</text>
<path d="M46.68,329.5Q46.68,327.7 47.98,327.7H60.98Q62.28,327.7 62.28,329.5" stroke="#2a2a2a" stroke-width="1.3" fill="none"/>
<text x="48.08" y="334.7" font-size="7.1" text-anchor="middle" fill="#86bc74" stroke="#86bc74">A</text>
<text x="54.18" y="334.7" font-size="7.1" text-anchor="middle" fill="#c86c6c" stroke="#c86c6c">T</text>
<text x="60.28" y="334.7" font-size="7.1" text-anchor="middle" fill="#c86c6c" stroke="#c86c6c">T</text>
<text x="73.76" y="320.5" font-size="8.6" text-anchor="middle" fill="#1c1c1c" stroke="#1c1c1c">G</text>
<path d="M65.86,329.5Q65.86,327.7 67.16,327.7H80.16Q81.46,327.7 81.46,329.5" stroke="#2a2a2a" stroke-width="1.3" fill="none"/>
<text x="67.26" y="334.7" font-size="7.1" text-anchor="middle" fill="#404040" stroke="#404040">G</text>
<text x="73.36" y="334.7" font-size="7.1" text-anchor="middle" fill="#404040" stroke="#404040">G</text>
<text x="79.46" y="334.7" font-size="7.1" text-anchor="middle" fill="#7884bc" stroke="#7884bc">C</text>
<text x="92.94" y="320.5" font-size="8.6" text-anchor="middle" fill="#d03040" stroke="#d03040">Q</text>
<path d="M85.04,329.5Q85.04,327.7 86.34,327.7H99.34Q100.64,327.7 100.64,329.5" stroke="#2a2a2a" stroke-width="1.3" fill="none"/>
<text x="86.44" y="334.7" font-size="7.1" text-anchor="middle" fill="#7884bc" stroke="#7884bc">C</text>
<text x="92.54" y="334.7" font-size="7.1" text-anchor="middle" fill="#86bc74" stroke="#86bc74">A</text>
<text x="98.64" y="334.7" font-size="7.1" text-anchor="middle" fill="#86bc74" stroke="#86bc74">A</text>
<text x="112.12" y="320.5" font-size="8.6" text-anchor="middle" fill="#1c1c1c" stroke="#1c1c1c">H</text>
<path d="M104.22,329.5Q104.22,327.7 105.52,327.7H118.52Q119.82,327.7 119.82,329.5" stroke="#2a2a2a" stroke-width="1.3" fill="none"/>
<text x="105.62" y="334.7" font-size="7.1" text-anchor="middle" fill="#7884bc" stroke="#7884bc">C</text>
<text x="111.72" y="334.7" font-size="7.1" text-anchor="middle" fill="#86bc74" stroke="#86bc74">A</text>
<text x="117.82" y="334.7" font-size="7.1" text-anchor="middle" fill="#c86c6c" stroke="#c86c6c">T</text>
<text x="131.3" y="320.5" font-size="8.6" text-anchor="middle" fill="#1c1c1c" stroke="#1c1c1c">A</text>
<path d="M123.4,329.5Q123.4,327.7 124.7,327.7H137.7Q139,327.7 139,329.5" stroke="#2a2a2a" stroke-width="1.3" fill="none"/>
<text x="124.8" y="334.7" font-size="7.1" text-anchor="middle" fill="#404040" stroke="#404040">G</text>
<text x="130.9" y="334.7" font-size="7.1" text-anchor="middle" fill="#7884bc" stroke="#7884bc">C</text>
<text x="137" y="334.7" font-size="7.1" text-anchor="middle" fill="#86bc74" stroke="#86bc74">A</text>
<text x="150.48" y="320.5" font-size="8.6" text-anchor="middle" fill="#1c1c1c" stroke="#1c1c1c">Y</text>
<path d="M142.58,329.5Q142.58,327.7 143.88,327.7H156.88Q158.18,327.7 158.18,329.5" stroke="#2a2a2a" stroke-width="1.3" fill="none"/>
<text x="143.98" y="334.7" font-size="7.1" text-anchor="middle" fill="#c86c6c" stroke="#c86c6c">T</text>
<text x="150.08" y="334.7" font-size="7.1" text-anchor="middle" fill="#86bc74" stroke="#86bc74">A</text>
<text x="156.18" y="334.7" font-size="7.1" text-anchor="middle" fill="#c86c6c" stroke="#c86c6c">T</text>
<text x="166.2" y="244.8" font-size="8.8" fill="#1c1c1c" stroke="#1c1c1c">Human</text>
<text x="166.2" y="282.3" font-size="8.8" fill="#1c1c1c" stroke="#1c1c1c">Control</text>
<text x="166.2" y="292.3" font-size="8.8" fill="#1c1c1c" stroke="#1c1c1c">mouse</text>
<text x="166.6" y="321" font-size="8.8" fill="#1c1c1c" stroke="#1c1c1c">Mouse</text>
<text x="166.6" y="331.2" font-size="8.8" fill="#1c1c1c" stroke="#1c1c1c">7914</text>
<text x="166.2" y="360.7" font-size="8.8" fill="#1c1c1c" stroke="#1c1c1c">Mouse</text>
<text x="166.2" y="370.9" font-size="8.8" fill="#1c1c1c" stroke="#1c1c1c">7914</text>
<text x="166.2" y="394.4" font-size="8.8" fill="#1c1c1c" stroke="#1c1c1c">VAF 35%</text>
<rect x="23.4" y="343.5" width="138.6" height="59.7" fill="#fff"/>
<rect x="91.2" y="344" width="7.3" height="58.7" fill="#dae2f1"/>
<path d="M23.9,379.18 L24.15,380.71 L24.4,382.93 L24.65,385.59 L24.9,388.42 L25.15,391.18 L25.4,393.69 L25.65,395.82 L25.9,397.53 L26.15,398.82 L26.4,399.76 L26.65,400.39 L26.9,400.81 L27.15,401.07 L27.4,401.22 L27.65,401.31 L27.9,401.35 L28.15,401.38 L28.4,401.39 L28.65,401.4 L28.9,401.4 L29.15,401.4 L29.4,401.4 L29.65,401.4 L29.9,401.4 L30.15,401.4 L30.4,401.4 L30.65,401.4 L30.9,401.4 L31.15,401.4 L31.4,401.4 L31.65,401.4 L31.9,401.4 L32.15,401.4 L32.4,401.4 L32.65,401.4 L32.9,401.4 L33.15,401.4 L33.4,401.4 L33.65,401.4 L33.9,401.4 L34.15,401.4 L34.4,401.4 L34.65,401.4 L34.9,401.4 L35.15,401.4 L35.4,401.4 L35.65,401.4 L35.9,401.4 L36.15,401.4 L36.4,401.4 L36.65,401.4 L36.9,401.4 L37.15,401.4 L37.4,401.4 L37.65,401.4 L37.9,401.4 L38.15,401.4 L38.4,401.4 L38.65,401.4 L38.9,401.4 L39.15,401.4 L39.4,401.4 L39.65,401.4 L39.9,401.4 L40.15,401.4 L40.4,401.4 L40.65,401.4 L40.9,401.4 L41.15,401.4 L41.4,401.4 L41.65,401.4 L41.9,401.4 L42.15,401.4 L42.4,401.4 L42.65,401.4 L42.9,401.4 L43.15,401.4 L43.4,401.4 L43.65,401.4 L43.9,401.4 L44.15,401.4 L44.4,401.4 L44.65,401.4 L44.9,401.4 L45.15,401.4 L45.4,401.4 L45.65,401.4 L45.9,401.4 L46.15,401.4 L46.4,401.4 L46.65,401.4 L46.9,401.4 L47.15,401.4 L47.4,401.4 L47.65,401.4 L47.9,401.4 L48.15,401.4 L48.4,401.4 L48.65,401.4 L48.9,401.4 L49.15,401.4 L49.4,401.4 L49.65,401.4 L49.9,401.4 L50.15,401.4 L50.4,401.4 L50.65,401.4 L50.9,401.4 L51.15,401.4 L51.4,401.4 L51.65,401.4 L51.9,401.4 L52.15,401.4 L52.4,401.4 L52.65,401.4 L52.9,401.4 L53.15,401.4 L53.4,401.4 L53.65,401.4 L53.9,401.4 L54.15,401.4 L54.4,401.4 L54.65,401.4 L54.9,401.4 L55.15,401.4 L55.4,401.4 L55.65,401.4 L55.9,401.4 L56.15,401.4 L56.4,401.4 L56.65,401.4 L56.9,401.4 L57.15,401.4 L57.4,401.4 L57.65,401.4 L57.9,401.4 L58.15,401.4 L58.4,401.4 L58.65,401.4 L58.9,401.4 L59.15,401.4 L59.4,401.4 L59.65,401.4 L59.9,401.4 L60.15,401.4 L60.4,401.4 L60.65,401.4 L60.9,401.4 L61.15,401.4 L61.4,401.4 L61.65,401.4 L61.9,401.4 L62.15,401.4 L62.4,401.4 L62.65,401.4 L62.9,401.4 L63.15,401.4 L63.4,401.4 L63.65,401.4 L63.9,401.4 L64.15,401.4 L64.4,401.4 L64.65,401.4 L64.9,401.4 L65.15,401.4 L65.4,401.4 L65.65,401.4 L65.9,401.4 L66.15,401.4 L66.4,401.4 L66.65,401.4 L66.9,401.4 L67.15,401.4 L67.4,401.4 L67.65,401.4 L67.9,401.4 L68.15,401.4 L68.4,401.4 L68.65,401.4 L68.9,401.4 L69.15,401.4 L69.4,401.4 L69.65,401.4 L69.9,401.4 L70.15,401.4 L70.4,401.4 L70.65,401.4 L70.9,401.4 L71.15,401.4 L71.4,401.4 L71.65,401.4 L71.9,401.4 L72.15,401.4 L72.4,401.4 L72.65,401.4 L72.9,401.4 L73.15,401.4 L73.4,401.4 L73.65,401.4 L73.9,401.4 L74.15,401.4 L74.4,401.4 L74.65,401.4 L74.9,401.4 L75.15,401.4 L75.4,401.4 L75.65,401.4 L75.9,401.4 L76.15,401.4 L76.4,401.4 L76.65,401.4 L76.9,401.4 L77.15,401.4 L77.4,401.4 L77.65,401.4 L77.9,401.4 L78.15,401.4 L78.4,401.4 L78.65,401.4 L78.9,401.4 L79.15,401.4 L79.4,401.4 L79.65,401.4 L79.9,401.4 L80.15,401.4 L80.4,401.4 L80.65,401.4 L80.9,401.4 L81.15,401.4 L81.4,401.4 L81.65,401.4 L81.9,401.4 L82.15,401.4 L82.4,401.4 L82.65,401.4 L82.9,401.4 L83.15,401.4 L83.4,401.4 L83.65,401.4 L83.9,401.4 L84.15,401.4 L84.4,401.4 L84.65,401.4 L84.9,401.4 L85.15,401.4 L85.4,401.4 L85.65,401.4 L85.9,401.4 L86.15,401.4 L86.4,401.4 L86.65,401.4 L86.9,401.4 L87.15,401.4 L87.4,401.4 L87.65,401.4 L87.9,401.4 L88.15,401.4 L88.4,401.4 L88.65,401.4 L88.9,401.4 L89.15,401.4 L89.4,401.4 L89.65,401.4 L89.9,401.4 L90.15,401.4 L90.4,401.4 L90.65,401.4 L90.9,401.4 L91.15,401.4 L91.4,401.4 L91.65,401.4 L91.9,401.4 L92.15,401.4 L92.4,401.4 L92.65,401.4 L92.9,401.4 L93.15,401.4 L93.4,401.4 L93.65,401.4 L93.9,401.4 L94.15,401.4 L94.4,401.4 L94.65,401.4 L94.9,401.4 L95.15,401.4 L95.4,401.4 L95.65,401.4 L95.9,401.4 L96.15,401.4 L96.4,401.4 L96.65,401.4 L96.9,401.4 L97.15,401.4 L97.4,401.4 L97.65,401.4 L97.9,401.4 L98.15,401.4 L98.4,401.4 L98.65,401.4 L98.9,401.4 L99.15,401.4 L99.4,401.4 L99.65,401.4 L99.9,401.4 L100.15,401.4 L100.4,401.4 L100.65,401.4 L100.9,401.4 L101.15,401.4 L101.4,401.4 L101.65,401.4 L101.9,401.4 L102.15,401.4 L102.4,401.4 L102.65,401.4 L102.9,401.4 L103.15,401.4 L103.4,401.4 L103.65,401.4 L103.9,401.4 L104.15,401.4 L104.4,401.4 L104.65,401.4 L104.9,401.4 L105.15,401.4 L105.4,401.4 L105.65,401.4 L105.9,401.4 L106.15,401.4 L106.4,401.4 L106.65,401.4 L106.9,401.4 L107.15,401.4 L107.4,401.4 L107.65,401.4 L107.9,401.4 L108.15,401.4 L108.4,401.4 L108.65,401.4 L108.9,401.4 L109.15,401.4 L109.4,401.4 L109.65,401.4 L109.9,401.4 L110.15,401.4 L110.4,401.4 L110.65,401.4 L110.9,401.4 L111.15,401.4 L111.4,401.4 L111.65,401.4 L111.9,401.4 L112.15,401.4 L112.4,401.4 L112.65,401.4 L112.9,401.4 L113.15,401.4 L113.4,401.4 L113.65,401.4 L113.9,401.4 L114.15,401.4 L114.4,401.4 L114.65,401.4 L114.9,401.4 L115.15,401.4 L115.4,401.4 L115.65,401.4 L115.9,401.4 L116.15,401.4 L116.4,401.4 L116.65,401.4 L116.9,401.4 L117.15,401.4 L117.4,401.4 L117.65,401.4 L117.9,401.4 L118.15,401.4 L118.4,401.4 L118.65,401.4 L118.9,401.4 L119.15,401.4 L119.4,401.4 L119.65,401.4 L119.9,401.4 L120.15,401.4 L120.4,401.4 L120.65,401.4 L120.9,401.4 L121.15,401.4 L121.4,401.4 L121.65,401.4 L121.9,401.4 L122.15,401.4 L122.4,401.4 L122.65,401.4 L122.9,401.4 L123.15,401.4 L123.4,401.4 L123.65,401.4 L123.9,401.4 L124.15,401.4 L124.4,401.4 L124.65,401.4 L124.9,401.4 L125.15,401.4 L125.4,401.4 L125.65,401.4 L125.9,401.4 L126.15,401.4 L126.4,401.4 L126.65,401.4 L126.9,401.4 L127.15,401.4 L127.4,401.4 L127.65,401.4 L127.9,401.4 L128.15,401.4 L128.4,401.4 L128.65,401.4 L128.9,401.4 L129.15,401.4 L129.4,401.4 L129.65,401.4 L129.9,401.4 L130.15,401.4 L130.4,401.4 L130.65,401.4 L130.9,401.4 L131.15,401.4 L131.4,401.4 L131.65,401.4 L131.9,401.4 L132.15,401.4 L132.4,401.4 L132.65,401.4 L132.9,401.4 L133.15,401.4 L133.4,401.4 L133.65,401.4 L133.9,401.4 L134.15,401.4 L134.4,401.4 L134.65,401.4 L134.9,401.4 L135.15,401.4 L135.4,401.4 L135.65,401.4 L135.9,401.4 L136.15,401.4 L136.4,401.4 L136.65,401.4 L136.9,401.4 L137.15,401.4 L137.4,401.4 L137.65,401.4 L137.9,401.4 L138.15,401.4 L138.4,401.4 L138.65,401.4 L138.9,401.4 L139.15,401.4 L139.4,401.4 L139.65,401.4 L139.9,401.4 L140.15,401.4 L140.4,401.4 L140.65,401.4 L140.9,401.4 L141.15,401.4 L141.4,401.4 L141.65,401.4 L141.9,401.4 L142.15,401.4 L142.4,401.4 L142.65,401.4 L142.9,401.4 L143.15,401.4 L143.4,401.4 L143.65,401.4 L143.9,401.4 L144.15,401.4 L144.4,401.4 L144.65,401.4 L144.9,401.4 L145.15,401.4 L145.4,401.4 L145.65,401.4 L145.9,401.4 L146.15,401.4 L146.4,401.4 L146.65,401.4 L146.9,401.4 L147.15,401.4 L147.4,401.4 L147.65,401.4 L147.9,401.4 L148.15,401.4 L148.4,401.4 L148.65,401.4 L148.9,401.4 L149.15,401.4 L149.4,401.4 L149.65,401.4 L149.9,401.4 L150.15,401.4 L150.4,401.4 L150.65,401.4 L150.9,401.4 L151.15,401.4 L151.4,401.4 L151.65,401.4 L151.9,401.4 L152.15,401.4 L152.4,401.4 L152.65,401.4 L152.9,401.4 L153.15,401.4 L153.4,401.4 L153.65,401.4 L153.9,401.4 L154.15,401.4 L154.4,401.4 L154.65,401.4 L154.9,401.4 L155.15,401.4 L155.4,401.4 L155.65,401.4 L155.9,401.4 L156.15,401.4 L156.4,401.4 L156.65,401.4 L156.9,401.4 L157.15,401.4 L157.4,401.4 L157.65,401.4 L157.9,401.4 L158.15,401.4 L158.4,401.4 L158.65,401.4 L158.9,401.4 L159.15,401.4 L159.4,401.4 L159.65,401.4 L159.9,401.4 L160.15,401.4 L160.4,401.4 L160.65,401.4 L160.9,401.4 L161.15,401.4 L161.4,401.4" stroke="#b0b0b0" stroke-width="1.1" fill="none" stroke-linejoin="round"/>
<path d="M23.9,401.4 L24.15,401.4 L24.4,401.39 L24.65,401.39 L24.9,401.37 L25.15,401.34 L25.4,401.27 L25.65,401.15 L25.9,400.93 L26.15,400.56 L26.4,399.96 L26.65,399.02 L26.9,397.64 L27.15,395.71 L27.4,393.13 L27.65,389.87 L27.9,386 L28.15,381.67 L28.4,377.16 L28.65,372.84 L28.9,369.15 L29.15,366.47 L29.4,365.12 L29.65,365.27 L29.9,366.9 L30.15,369.82 L30.4,373.67 L30.65,378.06 L30.9,382.56 L31.15,386.81 L31.4,390.58 L31.65,393.7 L31.9,396.14 L32.15,397.96 L32.4,399.24 L32.65,400.1 L32.9,400.65 L33.15,400.99 L33.4,401.18 L33.65,401.29 L33.9,401.35 L34.15,401.37 L34.4,401.39 L34.65,401.4 L34.9,401.4 L35.15,401.4 L35.4,401.4 L35.65,401.4 L35.9,401.4 L36.15,401.4 L36.4,401.4 L36.65,401.4 L36.9,401.4 L37.15,401.4 L37.4,401.4 L37.65,401.4 L37.9,401.4 L38.15,401.4 L38.4,401.4 L38.65,401.4 L38.9,401.4 L39.15,401.4 L39.4,401.4 L39.65,401.4 L39.9,401.4 L40.15,401.4 L40.4,401.4 L40.65,401.4 L40.9,401.4 L41.15,401.4 L41.4,401.4 L41.65,401.4 L41.9,401.4 L42.15,401.4 L42.4,401.4 L42.65,401.4 L42.9,401.4 L43.15,401.39 L43.4,401.39 L43.65,401.37 L43.9,401.35 L44.15,401.29 L44.4,401.19 L44.65,401.01 L44.9,400.7 L45.15,400.2 L45.4,399.45 L45.65,398.34 L45.9,396.8 L46.15,394.77 L46.4,392.24 L46.65,389.26 L46.9,385.98 L47.15,382.62 L47.4,379.46 L47.65,376.83 L47.9,375.01 L48.15,374.22 L48.4,374.56 L48.65,375.99 L48.9,378.33 L49.15,381.31 L49.4,384.63 L49.65,387.98 L49.9,391.1 L50.15,393.82 L50.4,396.05 L50.65,397.78 L50.9,399.05 L51.15,399.94 L51.4,400.53 L51.65,400.9 L51.9,401.13 L52.15,401.26 L52.4,401.33 L52.65,401.36 L52.9,401.38 L53.15,401.39 L53.4,401.4 L53.65,401.4 L53.9,401.4 L54.15,401.4 L54.4,401.4 L54.65,401.4 L54.9,401.4 L55.15,401.4 L55.4,401.4 L55.65,401.4 L55.9,401.4 L56.15,401.4 L56.4,401.4 L56.65,401.4 L56.9,401.4 L57.15,401.4 L57.4,401.4 L57.65,401.4 L57.9,401.4 L58.15,401.4 L58.4,401.4 L58.65,401.4 L58.9,401.4 L59.15,401.4 L59.4,401.4 L59.65,401.4 L59.9,401.4 L60.15,401.4 L60.4,401.4 L60.65,401.4 L60.9,401.4 L61.15,401.4 L61.4,401.4 L61.65,401.4 L61.9,401.4 L62.15,401.4 L62.4,401.4 L62.65,401.4 L62.9,401.4 L63.15,401.4 L63.4,401.4 L63.65,401.4 L63.9,401.4 L64.15,401.4 L64.4,401.4 L64.65,401.4 L64.9,401.4 L65.15,401.4 L65.4,401.4 L65.65,401.4 L65.9,401.4 L66.15,401.4 L66.4,401.4 L66.65,401.4 L66.9,401.4 L67.15,401.4 L67.4,401.4 L67.65,401.4 L67.9,401.4 L68.15,401.4 L68.4,401.4 L68.65,401.4 L68.9,401.4 L69.15,401.4 L69.4,401.4 L69.65,401.4 L69.9,401.4 L70.15,401.4 L70.4,401.4 L70.65,401.4 L70.9,401.4 L71.15,401.4 L71.4,401.4 L71.65,401.4 L71.9,401.4 L72.15,401.4 L72.4,401.4 L72.65,401.4 L72.9,401.4 L73.15,401.4 L73.4,401.4 L73.65,401.4 L73.9,401.4 L74.15,401.4 L74.4,401.4 L74.65,401.4 L74.9,401.4 L75.15,401.4 L75.4,401.4 L75.65,401.4 L75.9,401.4 L76.15,401.4 L76.4,401.4 L76.65,401.4 L76.9,401.4 L77.15,401.4 L77.4,401.4 L77.65,401.4 L77.9,401.4 L78.15,401.4 L78.4,401.4 L78.65,401.4 L78.9,401.4 L79.15,401.4 L79.4,401.4 L79.65,401.4 L79.9,401.4 L80.15,401.4 L80.4,401.4 L80.65,401.4 L80.9,401.4 L81.15,401.4 L81.4,401.4 L81.65,401.4 L81.9,401.4 L82.15,401.4 L82.4,401.4 L82.65,401.4 L82.9,401.4 L83.15,401.4 L83.4,401.4 L83.65,401.4 L83.9,401.4 L84.15,401.4 L84.4,401.4 L84.65,401.4 L84.9,401.4 L85.15,401.4 L85.4,401.4 L85.65,401.4 L85.9,401.4 L86.15,401.4 L86.4,401.4 L86.65,401.4 L86.9,401.4 L87.15,401.4 L87.4,401.4 L87.65,401.4 L87.9,401.4 L88.15,401.4 L88.4,401.4 L88.65,401.4 L88.9,401.4 L89.15,401.4 L89.4,401.4 L89.65,401.4 L89.9,401.4 L90.15,401.4 L90.4,401.4 L90.65,401.39 L90.9,401.39 L91.15,401.37 L91.4,401.34 L91.65,401.29 L91.9,401.21 L92.15,401.06 L92.4,400.84 L92.65,400.51 L92.9,400.04 L93.15,399.41 L93.4,398.6 L93.65,397.63 L93.9,396.53 L94.15,395.37 L94.4,394.24 L94.65,393.24 L94.9,392.49 L95.15,392.07 L95.4,392.03 L95.65,392.38 L95.9,393.07 L96.15,394.02 L96.4,395.12 L96.65,396.26 L96.9,397.33 L97.15,398.24 L97.4,398.91 L97.65,399.28 L97.9,399.27 L98.15,398.81 L98.4,397.8 L98.65,396.13 L98.9,393.69 L99.15,390.39 L99.4,386.25 L99.65,381.35 L99.9,375.94 L100.15,370.39 L100.4,365.18 L100.65,360.84 L100.9,357.84 L101.15,356.54 L101.4,357.1 L101.65,359.45 L101.9,363.31 L102.15,368.24 L102.4,373.72 L102.65,379.24 L102.9,384.39 L103.15,388.88 L103.4,392.57 L103.65,395.42 L103.9,397.52 L104.15,398.99 L104.4,399.96 L104.65,400.58 L104.9,400.95 L105.15,401.16 L105.4,401.28 L105.65,401.34 L105.9,401.37 L106.15,401.39 L106.4,401.39 L106.65,401.4 L106.9,401.4 L107.15,401.4 L107.4,401.4 L107.65,401.39 L107.9,401.39 L108.15,401.37 L108.4,401.35 L108.65,401.29 L108.9,401.19 L109.15,401.01 L109.4,400.71 L109.65,400.23 L109.9,399.48 L110.15,398.4 L110.4,396.88 L110.65,394.89 L110.9,392.41 L111.15,389.49 L111.4,386.27 L111.65,382.96 L111.9,379.87 L112.15,377.28 L112.4,375.5 L112.65,374.72 L112.9,375.06 L113.15,376.46 L113.4,378.75 L113.65,381.68 L113.9,384.94 L114.15,388.22 L114.4,391.29 L114.65,393.96 L114.9,396.15 L115.15,397.85 L115.4,399.09 L115.65,399.96 L115.9,400.54 L116.15,400.91 L116.4,401.13 L116.65,401.26 L116.9,401.33 L117.15,401.37 L117.4,401.38 L117.65,401.39 L117.9,401.4 L118.15,401.4 L118.4,401.4 L118.65,401.4 L118.9,401.4 L119.15,401.4 L119.4,401.4 L119.65,401.4 L119.9,401.4 L120.15,401.4 L120.4,401.4 L120.65,401.4 L120.9,401.4 L121.15,401.4 L121.4,401.4 L121.65,401.4 L121.9,401.4 L122.15,401.4 L122.4,401.4 L122.65,401.4 L122.9,401.4 L123.15,401.4 L123.4,401.4 L123.65,401.4 L123.9,401.4 L124.15,401.4 L124.4,401.4 L124.65,401.4 L124.9,401.4 L125.15,401.4 L125.4,401.4 L125.65,401.4 L125.9,401.4 L126.15,401.4 L126.4,401.4 L126.65,401.4 L126.9,401.4 L127.15,401.4 L127.4,401.4 L127.65,401.4 L127.9,401.4 L128.15,401.4 L128.4,401.4 L128.65,401.4 L128.9,401.4 L129.15,401.4 L129.4,401.4 L129.65,401.4 L129.9,401.4 L130.15,401.4 L130.4,401.4 L130.65,401.4 L130.9,401.4 L131.15,401.4 L131.4,401.4 L131.65,401.4 L131.9,401.4 L132.15,401.4 L132.4,401.4 L132.65,401.4 L132.9,401.4 L133.15,401.4 L133.4,401.39 L133.65,401.39 L133.9,401.37 L134.15,401.34 L134.4,401.28 L134.65,401.17 L134.9,400.98 L135.15,400.66 L135.4,400.15 L135.65,399.38 L135.9,398.26 L136.15,396.73 L136.4,394.72 L136.65,392.25 L136.9,389.38 L137.15,386.25 L137.4,383.1 L137.65,380.21 L137.9,377.86 L138.15,376.33 L138.4,375.8 L138.65,376.33 L138.9,377.86 L139.15,380.21 L139.4,383.1 L139.65,386.25 L139.9,389.38 L140.15,392.25 L140.4,394.72 L140.65,396.73 L140.9,398.26 L141.15,399.38 L141.4,400.15 L141.65,400.66 L141.9,400.98 L142.15,401.17 L142.4,401.28 L142.65,401.34 L142.9,401.37 L143.15,401.39 L143.4,401.39 L143.65,401.4 L143.9,401.4 L144.15,401.4 L144.4,401.4 L144.65,401.4 L144.9,401.4 L145.15,401.4 L145.4,401.4 L145.65,401.39 L145.9,401.39 L146.15,401.37 L146.4,401.33 L146.65,401.27 L146.9,401.14 L147.15,400.91 L147.4,400.51 L147.65,399.85 L147.9,398.83 L148.15,397.3 L148.4,395.13 L148.65,392.21 L148.9,388.49 L149.15,384.01 L149.4,378.93 L149.65,373.57 L149.9,368.34 L150.15,363.74 L150.4,360.27 L150.65,358.33 L150.9,358.15 L151.15,359.75 L151.4,362.94 L151.65,367.35 L151.9,372.5 L152.15,377.87 L152.4,383.03 L152.65,387.65 L152.9,391.53 L153.15,394.61 L153.4,396.92 L153.65,398.57 L153.9,399.68 L154.15,400.4 L154.4,400.84 L154.65,401.1 L154.9,401.25 L155.15,401.32 L155.4,401.36 L155.65,401.38 L155.9,401.39 L156.15,401.4 L156.4,401.4 L156.65,401.4 L156.9,401.4 L157.15,401.4 L157.4,401.4 L157.65,401.4 L157.9,401.4 L158.15,401.4 L158.4,401.4 L158.65,401.4 L158.9,401.4 L159.15,401.4 L159.4,401.4 L159.65,401.4 L159.9,401.4 L160.15,401.4 L160.4,401.4 L160.65,401.4 L160.9,401.4 L161.15,401.4 L161.4,401.4" stroke="#72bc72" stroke-width="1.1" fill="none" stroke-linejoin="round"/>
<path d="M23.9,401.4 L24.15,401.4 L24.4,401.4 L24.65,401.4 L24.9,401.4 L25.15,401.4 L25.4,401.4 L25.65,401.4 L25.9,401.4 L26.15,401.4 L26.4,401.4 L26.65,401.4 L26.9,401.4 L27.15,401.4 L27.4,401.4 L27.65,401.4 L27.9,401.4 L28.15,401.4 L28.4,401.4 L28.65,401.4 L28.9,401.4 L29.15,401.4 L29.4,401.4 L29.65,401.4 L29.9,401.4 L30.15,401.4 L30.4,401.4 L30.65,401.4 L30.9,401.4 L31.15,401.4 L31.4,401.4 L31.65,401.4 L31.9,401.4 L32.15,401.4 L32.4,401.4 L32.65,401.4 L32.9,401.4 L33.15,401.4 L33.4,401.4 L33.65,401.4 L33.9,401.4 L34.15,401.4 L34.4,401.4 L34.65,401.4 L34.9,401.4 L35.15,401.4 L35.4,401.4 L35.65,401.4 L35.9,401.4 L36.15,401.4 L36.4,401.4 L36.65,401.4 L36.9,401.4 L37.15,401.4 L37.4,401.4 L37.65,401.39 L37.9,401.38 L38.15,401.35 L38.4,401.29 L38.65,401.19 L38.9,401 L39.15,400.66 L39.4,400.11 L39.65,399.24 L39.9,397.93 L40.15,396.05 L40.4,393.49 L40.65,390.19 L40.9,386.17 L41.15,381.56 L41.4,376.62 L41.65,371.71 L41.9,367.3 L42.15,363.84 L42.4,361.74 L42.65,361.23 L42.9,362.4 L43.15,365.08 L43.4,368.98 L43.65,373.64 L43.9,378.61 L44.15,383.46 L44.4,387.85 L44.65,391.57 L44.9,394.54 L45.15,396.76 L45.4,398.32 L45.65,399.31 L45.9,399.86 L46.15,400.05 L46.4,399.97 L46.65,399.69 L46.9,399.25 L47.15,398.71 L47.4,398.12 L47.65,397.55 L47.9,397.05 L48.15,396.7 L48.4,396.52 L48.65,396.54 L48.9,396.76 L49.15,397.15 L49.4,397.67 L49.65,398.26 L49.9,398.86 L50.15,399.44 L50.4,399.94 L50.65,400.36 L50.9,400.69 L51.15,400.94 L51.4,401.11 L51.65,401.23 L51.9,401.3 L52.15,401.34 L52.4,401.37 L52.65,401.38 L52.9,401.39 L53.15,401.4 L53.4,401.4 L53.65,401.4 L53.9,401.4 L54.15,401.4 L54.4,401.4 L54.65,401.4 L54.9,401.4 L55.15,401.4 L55.4,401.4 L55.65,401.4 L55.9,401.4 L56.15,401.4 L56.4,401.4 L56.65,401.4 L56.9,401.4 L57.15,401.4 L57.4,401.4 L57.65,401.4 L57.9,401.4 L58.15,401.4 L58.4,401.4 L58.65,401.4 L58.9,401.4 L59.15,401.4 L59.4,401.4 L59.65,401.4 L59.9,401.4 L60.15,401.4 L60.4,401.4 L60.65,401.4 L60.9,401.4 L61.15,401.4 L61.4,401.4 L61.65,401.4 L61.9,401.4 L62.15,401.4 L62.4,401.4 L62.65,401.4 L62.9,401.4 L63.15,401.4 L63.4,401.4 L63.65,401.4 L63.9,401.4 L64.15,401.4 L64.4,401.4 L64.65,401.4 L64.9,401.4 L65.15,401.4 L65.4,401.4 L65.65,401.4 L65.9,401.4 L66.15,401.4 L66.4,401.4 L66.65,401.4 L66.9,401.4 L67.15,401.4 L67.4,401.4 L67.65,401.4 L67.9,401.4 L68.15,401.4 L68.4,401.4 L68.65,401.4 L68.9,401.4 L69.15,401.4 L69.4,401.4 L69.65,401.4 L69.9,401.4 L70.15,401.4 L70.4,401.4 L70.65,401.4 L70.9,401.4 L71.15,401.4 L71.4,401.4 L71.65,401.4 L71.9,401.4 L72.15,401.4 L72.4,401.4 L72.65,401.4 L72.9,401.4 L73.15,401.4 L73.4,401.4 L73.65,401.4 L73.9,401.4 L74.15,401.4 L74.4,401.4 L74.65,401.4 L74.9,401.4 L75.15,401.4 L75.4,401.4 L75.65,401.4 L75.9,401.4 L76.15,401.4 L76.4,401.4 L76.65,401.4 L76.9,401.4 L77.15,401.39 L77.4,401.38 L77.65,401.36 L77.9,401.32 L78.15,401.24 L78.4,401.11 L78.65,400.87 L78.9,400.49 L79.15,399.9 L79.4,399.04 L79.65,397.82 L79.9,396.19 L80.15,394.15 L80.4,391.71 L80.65,388.99 L80.9,386.15 L81.15,383.43 L81.4,381.11 L81.65,379.42 L81.9,378.58 L82.15,378.67 L82.4,379.7 L82.65,381.53 L82.9,383.95 L83.15,386.71 L83.4,389.54 L83.65,392.21 L83.9,394.56 L84.15,396.49 L84.4,397.96 L84.65,398.97 L84.9,399.54 L85.15,399.69 L85.4,399.39 L85.65,398.6 L85.9,397.25 L86.15,395.24 L86.4,392.52 L86.65,389.06 L86.9,384.93 L87.15,380.31 L87.4,375.49 L87.65,370.88 L87.9,366.93 L88.15,364.07 L88.4,362.63 L88.65,362.79 L88.9,364.54 L89.15,367.65 L89.4,371.77 L89.65,376.45 L89.9,381.26 L90.15,385.81 L90.4,389.82 L90.65,393.14 L90.9,395.73 L91.15,397.63 L91.4,398.91 L91.65,399.68 L91.9,400.02 L92.15,399.98 L92.4,399.6 L92.65,398.87 L92.9,397.78 L93.15,396.33 L93.4,394.53 L93.65,392.46 L93.9,390.24 L94.15,388.03 L94.4,386.05 L94.65,384.49 L94.9,383.54 L95.15,383.32 L95.4,383.84 L95.65,385.05 L95.9,386.8 L96.15,388.9 L96.4,391.14 L96.65,393.32 L96.9,395.3 L97.15,396.99 L97.4,398.34 L97.65,399.36 L97.9,400.1 L98.15,400.6 L98.4,400.93 L98.65,401.14 L98.9,401.26 L99.15,401.33 L99.4,401.36 L99.65,401.38 L99.9,401.39 L100.15,401.4 L100.4,401.4 L100.65,401.4 L100.9,401.4 L101.15,401.4 L101.4,401.4 L101.65,401.4 L101.9,401.4 L102.15,401.39 L102.4,401.38 L102.65,401.35 L102.9,401.3 L103.15,401.21 L103.4,401.04 L103.65,400.76 L103.9,400.29 L104.15,399.58 L104.4,398.52 L104.65,397.04 L104.9,395.06 L105.15,392.56 L105.4,389.59 L105.65,386.27 L105.9,382.82 L106.15,379.51 L106.4,376.68 L106.65,374.62 L106.9,373.59 L107.15,373.71 L107.4,374.96 L107.65,377.19 L107.9,380.15 L108.15,383.51 L108.4,386.96 L108.65,390.22 L108.9,393.1 L109.15,395.5 L109.4,397.37 L109.65,398.76 L109.9,399.75 L110.15,400.4 L110.4,400.83 L110.65,401.08 L110.9,401.23 L111.15,401.31 L111.4,401.36 L111.65,401.38 L111.9,401.39 L112.15,401.4 L112.4,401.4 L112.65,401.4 L112.9,401.4 L113.15,401.4 L113.4,401.4 L113.65,401.4 L113.9,401.4 L114.15,401.4 L114.4,401.4 L114.65,401.4 L114.9,401.4 L115.15,401.4 L115.4,401.4 L115.65,401.4 L115.9,401.4 L116.15,401.4 L116.4,401.4 L116.65,401.4 L116.9,401.4 L117.15,401.4 L117.4,401.4 L117.65,401.4 L117.9,401.4 L118.15,401.4 L118.4,401.4 L118.65,401.4 L118.9,401.4 L119.15,401.4 L119.4,401.4 L119.65,401.4 L119.9,401.4 L120.15,401.4 L120.4,401.4 L120.65,401.4 L120.9,401.4 L121.15,401.39 L121.4,401.39 L121.65,401.38 L121.9,401.36 L122.15,401.32 L122.4,401.27 L122.65,401.18 L122.9,401.05 L123.15,400.87 L123.4,400.63 L123.65,400.32 L123.9,399.96 L124.15,399.56 L124.4,399.14 L124.65,398.73 L124.9,398.39 L125.15,398.14 L125.4,398.01 L125.65,398.03 L125.9,398.18 L126.15,398.45 L126.4,398.81 L126.65,399.22 L126.9,399.64 L127.15,400.03 L127.4,400.38 L127.65,400.67 L127.9,400.88 L128.15,401.01 L128.4,401.07 L128.65,401.03 L128.9,400.87 L129.15,400.55 L129.4,400.01 L129.65,399.17 L129.9,397.94 L130.15,396.25 L130.4,394.04 L130.65,391.32 L130.9,388.16 L131.15,384.72 L131.4,381.25 L131.65,378.06 L131.9,375.47 L132.15,373.79 L132.4,373.2 L132.65,373.79 L132.9,375.47 L133.15,378.06 L133.4,381.25 L133.65,384.72 L133.9,388.16 L134.15,391.32 L134.4,394.04 L134.65,396.25 L134.9,397.95 L135.15,399.18 L135.4,400.03 L135.65,400.59 L135.9,400.94 L136.15,401.15 L136.4,401.27 L136.65,401.33 L136.9,401.37 L137.15,401.39 L137.4,401.39 L137.65,401.4 L137.9,401.4 L138.15,401.4 L138.4,401.4 L138.65,401.4 L138.9,401.4 L139.15,401.4 L139.4,401.4 L139.65,401.4 L139.9,401.4 L140.15,401.4 L140.4,401.4 L140.65,401.4 L140.9,401.4 L141.15,401.4 L141.4,401.4 L141.65,401.4 L141.9,401.4 L142.15,401.4 L142.4,401.4 L142.65,401.4 L142.9,401.4 L143.15,401.4 L143.4,401.4 L143.65,401.4 L143.9,401.4 L144.15,401.4 L144.4,401.4 L144.65,401.4 L144.9,401.4 L145.15,401.4 L145.4,401.4 L145.65,401.4 L145.9,401.4 L146.15,401.4 L146.4,401.4 L146.65,401.4 L146.9,401.4 L147.15,401.4 L147.4,401.4 L147.65,401.4 L147.9,401.4 L148.15,401.4 L148.4,401.4 L148.65,401.4 L148.9,401.4 L149.15,401.4 L149.4,401.4 L149.65,401.4 L149.9,401.4 L150.15,401.4 L150.4,401.4 L150.65,401.4 L150.9,401.4 L151.15,401.4 L151.4,401.4 L151.65,401.4 L151.9,401.4 L152.15,401.4 L152.4,401.4 L152.65,401.4 L152.9,401.4 L153.15,401.4 L153.4,401.4 L153.65,401.4 L153.9,401.4 L154.15,401.4 L154.4,401.4 L154.65,401.4 L154.9,401.4 L155.15,401.4 L155.4,401.4 L155.65,401.4 L155.9,401.4 L156.15,401.4 L156.4,401.4 L156.65,401.4 L156.9,401.4 L157.15,401.4 L157.4,401.4 L157.65,401.4 L157.9,401.4 L158.15,401.4 L158.4,401.4 L158.65,401.4 L158.9,401.4 L159.15,401.4 L159.4,401.4 L159.65,401.4 L159.9,401.4 L160.15,401.4 L160.4,401.4 L160.65,401.4 L160.9,401.4 L161.15,401.4 L161.4,401.4" stroke="#6468b0" stroke-width="1.1" fill="none" stroke-linejoin="round"/>
<path d="M23.9,401.4 L24.15,401.4 L24.4,401.4 L24.65,401.4 L24.9,401.4 L25.15,401.4 L25.4,401.4 L25.65,401.4 L25.9,401.4 L26.15,401.4 L26.4,401.4 L26.65,401.4 L26.9,401.4 L27.15,401.4 L27.4,401.4 L27.65,401.4 L27.9,401.4 L28.15,401.4 L28.4,401.4 L28.65,401.4 L28.9,401.4 L29.15,401.4 L29.4,401.4 L29.65,401.4 L29.9,401.4 L30.15,401.4 L30.4,401.4 L30.65,401.4 L30.9,401.4 L31.15,401.4 L31.4,401.4 L31.65,401.4 L31.9,401.4 L32.15,401.4 L32.4,401.4 L32.65,401.4 L32.9,401.4 L33.15,401.4 L33.4,401.4 L33.65,401.4 L33.9,401.4 L34.15,401.4 L34.4,401.4 L34.65,401.4 L34.9,401.4 L35.15,401.4 L35.4,401.4 L35.65,401.4 L35.9,401.4 L36.15,401.4 L36.4,401.4 L36.65,401.4 L36.9,401.4 L37.15,401.4 L37.4,401.4 L37.65,401.4 L37.9,401.4 L38.15,401.4 L38.4,401.4 L38.65,401.4 L38.9,401.4 L39.15,401.4 L39.4,401.4 L39.65,401.4 L39.9,401.4 L40.15,401.4 L40.4,401.4 L40.65,401.4 L40.9,401.4 L41.15,401.4 L41.4,401.4 L41.65,401.4 L41.9,401.4 L42.15,401.4 L42.4,401.4 L42.65,401.4 L42.9,401.4 L43.15,401.4 L43.4,401.4 L43.65,401.4 L43.9,401.4 L44.15,401.4 L44.4,401.4 L44.65,401.4 L44.9,401.4 L45.15,401.4 L45.4,401.4 L45.65,401.4 L45.9,401.4 L46.15,401.4 L46.4,401.4 L46.65,401.4 L46.9,401.4 L47.15,401.4 L47.4,401.4 L47.65,401.4 L47.9,401.4 L48.15,401.4 L48.4,401.4 L48.65,401.4 L48.9,401.4 L49.15,401.4 L49.4,401.4 L49.65,401.4 L49.9,401.4 L50.15,401.4 L50.4,401.4 L50.65,401.4 L50.9,401.4 L51.15,401.4 L51.4,401.4 L51.65,401.4 L51.9,401.4 L52.15,401.4 L52.4,401.4 L52.65,401.4 L52.9,401.4 L53.15,401.4 L53.4,401.4 L53.65,401.4 L53.9,401.4 L54.15,401.4 L54.4,401.4 L54.65,401.4 L54.9,401.4 L55.15,401.4 L55.4,401.4 L55.65,401.4 L55.9,401.4 L56.15,401.4 L56.4,401.4 L56.65,401.4 L56.9,401.4 L57.15,401.4 L57.4,401.4 L57.65,401.4 L57.9,401.4 L58.15,401.4 L58.4,401.4 L58.65,401.4 L58.9,401.4 L59.15,401.4 L59.4,401.4 L59.65,401.4 L59.9,401.4 L60.15,401.4 L60.4,401.4 L60.65,401.4 L60.9,401.4 L61.15,401.4 L61.4,401.4 L61.65,401.4 L61.9,401.4 L62.15,401.4 L62.4,401.4 L62.65,401.4 L62.9,401.4 L63.15,401.39 L63.4,401.37 L63.65,401.35 L63.9,401.28 L64.15,401.17 L64.4,400.95 L64.65,400.57 L64.9,399.92 L65.15,398.87 L65.4,397.27 L65.65,394.93 L65.9,391.67 L66.15,387.39 L66.4,382.04 L66.65,375.75 L66.9,368.81 L67.15,361.7 L67.4,355.02 L67.65,349.46 L67.9,345.61 L68.15,343.95 L68.4,344.67 L68.65,347.68 L68.9,352.63 L69.15,358.94 L69.4,365.95 L69.65,373.03 L69.9,379.62 L70.15,385.37 L70.4,390.08 L70.65,393.73 L70.9,396.4 L71.15,398.23 L71.4,399.41 L71.65,400.06 L71.9,400.29 L72.15,400.16 L72.4,399.66 L72.65,398.76 L72.9,397.37 L73.15,395.43 L73.4,392.89 L73.65,389.74 L73.9,386.09 L74.15,382.11 L74.4,378.1 L74.65,374.41 L74.9,371.43 L75.15,369.48 L75.4,368.8 L75.65,369.48 L75.9,371.43 L76.15,374.41 L76.4,378.1 L76.65,382.11 L76.9,386.09 L77.15,389.75 L77.4,392.9 L77.65,395.45 L77.9,397.41 L78.15,398.83 L78.4,399.81 L78.65,400.46 L78.9,400.87 L79.15,401.11 L79.4,401.25 L79.65,401.32 L79.9,401.36 L80.15,401.38 L80.4,401.39 L80.65,401.4 L80.9,401.4 L81.15,401.4 L81.4,401.4 L81.65,401.4 L81.9,401.4 L82.15,401.4 L82.4,401.4 L82.65,401.4 L82.9,401.4 L83.15,401.4 L83.4,401.4 L83.65,401.4 L83.9,401.4 L84.15,401.4 L84.4,401.4 L84.65,401.4 L84.9,401.4 L85.15,401.4 L85.4,401.4 L85.65,401.4 L85.9,401.4 L86.15,401.4 L86.4,401.4 L86.65,401.4 L86.9,401.4 L87.15,401.4 L87.4,401.4 L87.65,401.4 L87.9,401.4 L88.15,401.4 L88.4,401.4 L88.65,401.4 L88.9,401.4 L89.15,401.4 L89.4,401.4 L89.65,401.4 L89.9,401.4 L90.15,401.4 L90.4,401.4 L90.65,401.4 L90.9,401.4 L91.15,401.4 L91.4,401.4 L91.65,401.4 L91.9,401.4 L92.15,401.4 L92.4,401.4 L92.65,401.4 L92.9,401.4 L93.15,401.4 L93.4,401.4 L93.65,401.4 L93.9,401.4 L94.15,401.4 L94.4,401.4 L94.65,401.4 L94.9,401.4 L95.15,401.4 L95.4,401.4 L95.65,401.4 L95.9,401.4 L96.15,401.4 L96.4,401.4 L96.65,401.4 L96.9,401.4 L97.15,401.4 L97.4,401.4 L97.65,401.4 L97.9,401.4 L98.15,401.4 L98.4,401.4 L98.65,401.4 L98.9,401.4 L99.15,401.4 L99.4,401.4 L99.65,401.4 L99.9,401.4 L100.15,401.4 L100.4,401.4 L100.65,401.4 L100.9,401.4 L101.15,401.4 L101.4,401.4 L101.65,401.4 L101.9,401.4 L102.15,401.4 L102.4,401.4 L102.65,401.4 L102.9,401.4 L103.15,401.4 L103.4,401.4 L103.65,401.4 L103.9,401.4 L104.15,401.4 L104.4,401.4 L104.65,401.4 L104.9,401.4 L105.15,401.4 L105.4,401.4 L105.65,401.4 L105.9,401.4 L106.15,401.4 L106.4,401.4 L106.65,401.4 L106.9,401.4 L107.15,401.4 L107.4,401.4 L107.65,401.4 L107.9,401.4 L108.15,401.4 L108.4,401.4 L108.65,401.4 L108.9,401.4 L109.15,401.4 L109.4,401.4 L109.65,401.4 L109.9,401.4 L110.15,401.4 L110.4,401.4 L110.65,401.4 L110.9,401.4 L111.15,401.4 L111.4,401.4 L111.65,401.4 L111.9,401.4 L112.15,401.4 L112.4,401.4 L112.65,401.4 L112.9,401.4 L113.15,401.4 L113.4,401.4 L113.65,401.4 L113.9,401.4 L114.15,401.4 L114.4,401.4 L114.65,401.4 L114.9,401.4 L115.15,401.4 L115.4,401.4 L115.65,401.4 L115.9,401.4 L116.15,401.4 L116.4,401.4 L116.65,401.4 L116.9,401.4 L117.15,401.4 L117.4,401.4 L117.65,401.4 L117.9,401.4 L118.15,401.4 L118.4,401.4 L118.65,401.4 L118.9,401.4 L119.15,401.4 L119.4,401.4 L119.65,401.4 L119.9,401.4 L120.15,401.39 L120.4,401.38 L120.65,401.36 L120.9,401.32 L121.15,401.24 L121.4,401.09 L121.65,400.81 L121.9,400.34 L122.15,399.57 L122.4,398.35 L122.65,396.54 L122.9,393.98 L123.15,390.52 L123.4,386.11 L123.65,380.8 L123.9,374.79 L124.15,368.44 L124.4,362.24 L124.65,356.8 L124.9,352.69 L125.15,350.39 L125.4,350.17 L125.65,352.07 L125.9,355.85 L126.15,361.08 L126.4,367.17 L126.65,373.53 L126.9,379.65 L127.15,385.12 L127.4,389.72 L127.65,393.36 L127.9,396.09 L128.15,398.04 L128.4,399.36 L128.65,400.22 L128.9,400.74 L129.15,401.05 L129.4,401.22 L129.65,401.31 L129.9,401.36 L130.15,401.38 L130.4,401.39 L130.65,401.4 L130.9,401.4 L131.15,401.4 L131.4,401.4 L131.65,401.4 L131.9,401.4 L132.15,401.4 L132.4,401.4 L132.65,401.4 L132.9,401.4 L133.15,401.4 L133.4,401.4 L133.65,401.4 L133.9,401.4 L134.15,401.4 L134.4,401.4 L134.65,401.4 L134.9,401.4 L135.15,401.4 L135.4,401.4 L135.65,401.4 L135.9,401.4 L136.15,401.4 L136.4,401.4 L136.65,401.4 L136.9,401.4 L137.15,401.4 L137.4,401.4 L137.65,401.4 L137.9,401.4 L138.15,401.4 L138.4,401.4 L138.65,401.4 L138.9,401.4 L139.15,401.4 L139.4,401.4 L139.65,401.4 L139.9,401.4 L140.15,401.4 L140.4,401.4 L140.65,401.4 L140.9,401.4 L141.15,401.4 L141.4,401.4 L141.65,401.4 L141.9,401.4 L142.15,401.4 L142.4,401.4 L142.65,401.4 L142.9,401.4 L143.15,401.4 L143.4,401.4 L143.65,401.4 L143.9,401.4 L144.15,401.4 L144.4,401.4 L144.65,401.4 L144.9,401.4 L145.15,401.4 L145.4,401.4 L145.65,401.4 L145.9,401.4 L146.15,401.4 L146.4,401.4 L146.65,401.4 L146.9,401.4 L147.15,401.4 L147.4,401.4 L147.65,401.4 L147.9,401.4 L148.15,401.4 L148.4,401.4 L148.65,401.4 L148.9,401.4 L149.15,401.4 L149.4,401.4 L149.65,401.4 L149.9,401.4 L150.15,401.4 L150.4,401.4 L150.65,401.4 L150.9,401.4 L151.15,401.4 L151.4,401.4 L151.65,401.4 L151.9,401.4 L152.15,401.4 L152.4,401.4 L152.65,401.4 L152.9,401.4 L153.15,401.4 L153.4,401.4 L153.65,401.4 L153.9,401.4 L154.15,401.4 L154.4,401.4 L154.65,401.4 L154.9,401.4 L155.15,401.4 L155.4,401.4 L155.65,401.4 L155.9,401.4 L156.15,401.4 L156.4,401.4 L156.65,401.4 L156.9,401.4 L157.15,401.4 L157.4,401.4 L157.65,401.4 L157.9,401.4 L158.15,401.4 L158.4,401.4 L158.65,401.4 L158.9,401.4 L159.15,401.4 L159.4,401.4 L159.65,401.4 L159.9,401.4 L160.15,401.4 L160.4,401.4 L160.65,401.4 L160.9,401.4 L161.15,401.4 L161.4,401.4" stroke="#333333" stroke-width="1.1" fill="none" stroke-linejoin="round"/>
<path d="M23.9,401.4 L24.15,401.4 L24.4,401.4 L24.65,401.4 L24.9,401.4 L25.15,401.4 L25.4,401.4 L25.65,401.4 L25.9,401.4 L26.15,401.4 L26.4,401.4 L26.65,401.4 L26.9,401.4 L27.15,401.4 L27.4,401.4 L27.65,401.4 L27.9,401.4 L28.15,401.4 L28.4,401.4 L28.65,401.4 L28.9,401.4 L29.15,401.4 L29.4,401.4 L29.65,401.4 L29.9,401.4 L30.15,401.4 L30.4,401.4 L30.65,401.4 L30.9,401.39 L31.15,401.38 L31.4,401.35 L31.65,401.3 L31.9,401.2 L32.15,401.02 L32.4,400.71 L32.65,400.21 L32.9,399.42 L33.15,398.24 L33.4,396.58 L33.65,394.33 L33.9,391.47 L34.15,388.02 L34.4,384.11 L34.65,379.98 L34.9,375.96 L35.15,372.42 L35.4,369.75 L35.65,368.25 L35.9,368.11 L36.15,369.35 L36.4,371.8 L36.65,375.2 L36.9,379.16 L37.15,383.29 L37.4,387.27 L37.65,390.82 L37.9,393.81 L38.15,396.18 L38.4,397.95 L38.65,399.22 L38.9,400.08 L39.15,400.63 L39.4,400.97 L39.65,401.17 L39.9,401.28 L40.15,401.34 L40.4,401.37 L40.65,401.39 L40.9,401.39 L41.15,401.4 L41.4,401.4 L41.65,401.4 L41.9,401.4 L42.15,401.4 L42.4,401.4 L42.65,401.4 L42.9,401.4 L43.15,401.4 L43.4,401.4 L43.65,401.4 L43.9,401.4 L44.15,401.4 L44.4,401.4 L44.65,401.4 L44.9,401.4 L45.15,401.4 L45.4,401.4 L45.65,401.4 L45.9,401.4 L46.15,401.4 L46.4,401.4 L46.65,401.4 L46.9,401.4 L47.15,401.4 L47.4,401.4 L47.65,401.4 L47.9,401.4 L48.15,401.4 L48.4,401.4 L48.65,401.4 L48.9,401.4 L49.15,401.4 L49.4,401.4 L49.65,401.4 L49.9,401.39 L50.15,401.38 L50.4,401.35 L50.65,401.31 L50.9,401.21 L51.15,401.04 L51.4,400.74 L51.65,400.23 L51.9,399.43 L52.15,398.2 L52.4,396.43 L52.65,393.99 L52.9,390.81 L53.15,386.89 L53.4,382.33 L53.65,377.38 L53.9,372.38 L54.15,367.79 L54.4,364.07 L54.65,361.64 L54.9,360.8 L55.15,361.64 L55.4,364.07 L55.65,367.79 L55.9,372.38 L56.15,377.37 L56.4,382.31 L56.65,386.85 L56.9,390.72 L57.15,393.81 L57.4,396.09 L57.65,397.57 L57.9,398.31 L58.15,398.32 L58.4,397.62 L58.65,396.16 L58.9,393.87 L59.15,390.73 L59.4,386.74 L59.65,382.02 L59.9,376.79 L60.15,371.43 L60.4,366.39 L60.65,362.19 L60.9,359.29 L61.15,358.04 L61.4,358.58 L61.65,360.85 L61.9,364.59 L62.15,369.35 L62.4,374.65 L62.65,379.98 L62.9,384.96 L63.15,389.3 L63.4,392.86 L63.65,395.62 L63.9,397.65 L64.15,399.07 L64.4,400.01 L64.65,400.6 L64.9,400.96 L65.15,401.17 L65.4,401.28 L65.65,401.34 L65.9,401.37 L66.15,401.39 L66.4,401.4 L66.65,401.4 L66.9,401.4 L67.15,401.4 L67.4,401.4 L67.65,401.4 L67.9,401.4 L68.15,401.4 L68.4,401.4 L68.65,401.4 L68.9,401.4 L69.15,401.4 L69.4,401.4 L69.65,401.4 L69.9,401.4 L70.15,401.4 L70.4,401.4 L70.65,401.4 L70.9,401.4 L71.15,401.4 L71.4,401.4 L71.65,401.4 L71.9,401.4 L72.15,401.4 L72.4,401.4 L72.65,401.4 L72.9,401.4 L73.15,401.4 L73.4,401.4 L73.65,401.4 L73.9,401.4 L74.15,401.4 L74.4,401.4 L74.65,401.4 L74.9,401.4 L75.15,401.4 L75.4,401.4 L75.65,401.4 L75.9,401.4 L76.15,401.4 L76.4,401.4 L76.65,401.4 L76.9,401.4 L77.15,401.4 L77.4,401.4 L77.65,401.4 L77.9,401.4 L78.15,401.4 L78.4,401.4 L78.65,401.4 L78.9,401.4 L79.15,401.4 L79.4,401.4 L79.65,401.4 L79.9,401.4 L80.15,401.4 L80.4,401.4 L80.65,401.4 L80.9,401.4 L81.15,401.4 L81.4,401.4 L81.65,401.4 L81.9,401.4 L82.15,401.4 L82.4,401.4 L82.65,401.4 L82.9,401.4 L83.15,401.4 L83.4,401.4 L83.65,401.4 L83.9,401.4 L84.15,401.4 L84.4,401.4 L84.65,401.4 L84.9,401.4 L85.15,401.4 L85.4,401.4 L85.65,401.4 L85.9,401.4 L86.15,401.4 L86.4,401.4 L86.65,401.4 L86.9,401.4 L87.15,401.4 L87.4,401.4 L87.65,401.4 L87.9,401.4 L88.15,401.4 L88.4,401.4 L88.65,401.4 L88.9,401.4 L89.15,401.4 L89.4,401.4 L89.65,401.4 L89.9,401.4 L90.15,401.4 L90.4,401.4 L90.65,401.4 L90.9,401.4 L91.15,401.4 L91.4,401.4 L91.65,401.4 L91.9,401.4 L92.15,401.4 L92.4,401.4 L92.65,401.4 L92.9,401.4 L93.15,401.4 L93.4,401.4 L93.65,401.4 L93.9,401.4 L94.15,401.4 L94.4,401.4 L94.65,401.4 L94.9,401.4 L95.15,401.4 L95.4,401.4 L95.65,401.4 L95.9,401.4 L96.15,401.4 L96.4,401.4 L96.65,401.4 L96.9,401.4 L97.15,401.4 L97.4,401.4 L97.65,401.4 L97.9,401.4 L98.15,401.4 L98.4,401.4 L98.65,401.4 L98.9,401.4 L99.15,401.4 L99.4,401.4 L99.65,401.4 L99.9,401.4 L100.15,401.4 L100.4,401.4 L100.65,401.4 L100.9,401.4 L101.15,401.4 L101.4,401.4 L101.65,401.4 L101.9,401.4 L102.15,401.4 L102.4,401.4 L102.65,401.4 L102.9,401.4 L103.15,401.4 L103.4,401.4 L103.65,401.4 L103.9,401.4 L104.15,401.4 L104.4,401.4 L104.65,401.4 L104.9,401.4 L105.15,401.4 L105.4,401.4 L105.65,401.4 L105.9,401.4 L106.15,401.4 L106.4,401.4 L106.65,401.4 L106.9,401.4 L107.15,401.4 L107.4,401.4 L107.65,401.4 L107.9,401.4 L108.15,401.4 L108.4,401.4 L108.65,401.4 L108.9,401.4 L109.15,401.4 L109.4,401.4 L109.65,401.4 L109.9,401.4 L110.15,401.4 L110.4,401.4 L110.65,401.4 L110.9,401.4 L111.15,401.4 L111.4,401.4 L111.65,401.4 L111.9,401.4 L112.15,401.4 L112.4,401.4 L112.65,401.4 L112.9,401.4 L113.15,401.4 L113.4,401.4 L113.65,401.4 L113.9,401.4 L114.15,401.39 L114.4,401.38 L114.65,401.36 L114.9,401.32 L115.15,401.24 L115.4,401.09 L115.65,400.83 L115.9,400.39 L116.15,399.69 L116.4,398.6 L116.65,397.01 L116.9,394.8 L117.15,391.9 L117.4,388.27 L117.65,384 L117.9,379.29 L118.15,374.47 L118.4,369.94 L118.65,366.17 L118.9,363.56 L119.15,362.43 L119.4,362.92 L119.65,364.96 L119.9,368.32 L120.15,372.6 L120.4,377.36 L120.65,382.15 L120.9,386.63 L121.15,390.53 L121.4,393.73 L121.65,396.21 L121.9,398.03 L122.15,399.3 L122.4,400.15 L122.65,400.68 L122.9,401.01 L123.15,401.19 L123.4,401.3 L123.65,401.35 L123.9,401.38 L124.15,401.39 L124.4,401.4 L124.65,401.4 L124.9,401.4 L125.15,401.4 L125.4,401.4 L125.65,401.4 L125.9,401.4 L126.15,401.4 L126.4,401.4 L126.65,401.4 L126.9,401.4 L127.15,401.4 L127.4,401.4 L127.65,401.4 L127.9,401.4 L128.15,401.4 L128.4,401.4 L128.65,401.4 L128.9,401.4 L129.15,401.4 L129.4,401.4 L129.65,401.4 L129.9,401.4 L130.15,401.4 L130.4,401.4 L130.65,401.4 L130.9,401.4 L131.15,401.4 L131.4,401.4 L131.65,401.4 L131.9,401.4 L132.15,401.4 L132.4,401.4 L132.65,401.4 L132.9,401.4 L133.15,401.4 L133.4,401.4 L133.65,401.4 L133.9,401.4 L134.15,401.4 L134.4,401.4 L134.65,401.4 L134.9,401.4 L135.15,401.4 L135.4,401.4 L135.65,401.4 L135.9,401.4 L136.15,401.4 L136.4,401.4 L136.65,401.4 L136.9,401.4 L137.15,401.4 L137.4,401.4 L137.65,401.4 L137.9,401.4 L138.15,401.4 L138.4,401.4 L138.65,401.4 L138.9,401.4 L139.15,401.4 L139.4,401.4 L139.65,401.4 L139.9,401.39 L140.15,401.39 L140.4,401.37 L140.65,401.34 L140.9,401.29 L141.15,401.18 L141.4,400.99 L141.65,400.66 L141.9,400.12 L142.15,399.3 L142.4,398.08 L142.65,396.36 L142.9,394.08 L143.15,391.2 L143.4,387.77 L143.65,383.94 L143.9,379.96 L144.15,376.14 L144.4,372.87 L144.65,370.5 L144.9,369.31 L145.15,369.44 L145.4,370.89 L145.65,373.46 L145.9,376.87 L146.15,380.75 L146.4,384.73 L146.65,388.5 L146.9,391.82 L147.15,394.59 L147.4,396.75 L147.65,398.36 L147.9,399.49 L148.15,400.25 L148.4,400.74 L148.65,401.03 L148.9,401.21 L149.15,401.3 L149.4,401.35 L149.65,401.38 L149.9,401.39 L150.15,401.4 L150.4,401.4 L150.65,401.4 L150.9,401.4 L151.15,401.4 L151.4,401.4 L151.65,401.4 L151.9,401.39 L152.15,401.39 L152.4,401.37 L152.65,401.34 L152.9,401.27 L153.15,401.15 L153.4,400.93 L153.65,400.56 L153.9,399.96 L154.15,399.02 L154.4,397.64 L154.65,395.71 L154.9,393.13 L155.15,389.87 L155.4,386 L155.65,381.67 L155.9,377.16 L156.15,372.84 L156.4,369.15 L156.65,366.47 L156.9,365.12 L157.15,365.27 L157.4,366.9 L157.65,369.82 L157.9,373.67 L158.15,378.06 L158.4,382.56 L158.65,386.81 L158.9,390.58 L159.15,393.7 L159.4,396.14 L159.65,397.96 L159.9,399.24 L160.15,400.1 L160.4,400.65 L160.65,400.99 L160.9,401.18 L161.15,401.29 L161.4,401.35" stroke="#de6e76" stroke-width="1.1" fill="none" stroke-linejoin="round"/>
<rect x="23.4" y="343.5" width="138.6" height="59.7" fill="none" stroke="#555" stroke-width="1"/>
<text x="159.7" y="352.2" font-size="6.6" text-anchor="end" fill="#333" stroke="#333">Forward</text>
<rect x="23.4" y="405.9" width="138.1" height="52.4" fill="#fff"/>
<rect x="91.2" y="406.4" width="6.6" height="51.4" fill="#dae2f1"/>
<path d="M23.9,456.7 L24.15,456.7 L24.4,456.7 L24.65,456.7 L24.9,456.7 L25.15,456.7 L25.4,456.7 L25.65,456.7 L25.9,456.7 L26.15,456.7 L26.4,456.7 L26.65,456.7 L26.9,456.7 L27.15,456.7 L27.4,456.7 L27.65,456.7 L27.9,456.7 L28.15,456.7 L28.4,456.7 L28.65,456.7 L28.9,456.7 L29.15,456.7 L29.4,456.7 L29.65,456.7 L29.9,456.7 L30.15,456.7 L30.4,456.7 L30.65,456.7 L30.9,456.7 L31.15,456.7 L31.4,456.7 L31.65,456.7 L31.9,456.7 L32.15,456.7 L32.4,456.7 L32.65,456.7 L32.9,456.7 L33.15,456.7 L33.4,456.7 L33.65,456.7 L33.9,456.7 L34.15,456.7 L34.4,456.7 L34.65,456.7 L34.9,456.7 L35.15,456.7 L35.4,456.7 L35.65,456.7 L35.9,456.7 L36.15,456.7 L36.4,456.7 L36.65,456.7 L36.9,456.7 L37.15,456.7 L37.4,456.7 L37.65,456.7 L37.9,456.7 L38.15,456.7 L38.4,456.7 L38.65,456.7 L38.9,456.7 L39.15,456.7 L39.4,456.7 L39.65,456.7 L39.9,456.7 L40.15,456.7 L40.4,456.7 L40.65,456.7 L40.9,456.7 L41.15,456.7 L41.4,456.7 L41.65,456.7 L41.9,456.7 L42.15,456.7 L42.4,456.7 L42.65,456.7 L42.9,456.7 L43.15,456.7 L43.4,456.7 L43.65,456.7 L43.9,456.7 L44.15,456.7 L44.4,456.7 L44.65,456.7 L44.9,456.7 L45.15,456.7 L45.4,456.7 L45.65,456.7 L45.9,456.7 L46.15,456.7 L46.4,456.7 L46.65,456.7 L46.9,456.7 L47.15,456.7 L47.4,456.7 L47.65,456.7 L47.9,456.7 L48.15,456.7 L48.4,456.7 L48.65,456.7 L48.9,456.7 L49.15,456.7 L49.4,456.7 L49.65,456.7 L49.9,456.7 L50.15,456.7 L50.4,456.7 L50.65,456.7 L50.9,456.7 L51.15,456.7 L51.4,456.7 L51.65,456.7 L51.9,456.7 L52.15,456.7 L52.4,456.7 L52.65,456.7 L52.9,456.7 L53.15,456.7 L53.4,456.7 L53.65,456.7 L53.9,456.7 L54.15,456.7 L54.4,456.7 L54.65,456.7 L54.9,456.7 L55.15,456.7 L55.4,456.7 L55.65,456.7 L55.9,456.7 L56.15,456.7 L56.4,456.7 L56.65,456.7 L56.9,456.7 L57.15,456.7 L57.4,456.7 L57.65,456.7 L57.9,456.7 L58.15,456.7 L58.4,456.7 L58.65,456.7 L58.9,456.7 L59.15,456.7 L59.4,456.7 L59.65,456.7 L59.9,456.7 L60.15,456.7 L60.4,456.7 L60.65,456.7 L60.9,456.7 L61.15,456.7 L61.4,456.7 L61.65,456.7 L61.9,456.7 L62.15,456.7 L62.4,456.7 L62.65,456.7 L62.9,456.7 L63.15,456.7 L63.4,456.7 L63.65,456.7 L63.9,456.7 L64.15,456.7 L64.4,456.7 L64.65,456.7 L64.9,456.7 L65.15,456.7 L65.4,456.7 L65.65,456.7 L65.9,456.7 L66.15,456.7 L66.4,456.7 L66.65,456.7 L66.9,456.7 L67.15,456.7 L67.4,456.7 L67.65,456.7 L67.9,456.7 L68.15,456.7 L68.4,456.7 L68.65,456.7 L68.9,456.7 L69.15,456.7 L69.4,456.7 L69.65,456.7 L69.9,456.7 L70.15,456.7 L70.4,456.7 L70.65,456.7 L70.9,456.7 L71.15,456.7 L71.4,456.7 L71.65,456.7 L71.9,456.7 L72.15,456.7 L72.4,456.7 L72.65,456.7 L72.9,456.7 L73.15,456.7 L73.4,456.7 L73.65,456.7 L73.9,456.7 L74.15,456.7 L74.4,456.7 L74.65,456.7 L74.9,456.7 L75.15,456.7 L75.4,456.7 L75.65,456.7 L75.9,456.7 L76.15,456.7 L76.4,456.7 L76.65,456.7 L76.9,456.7 L77.15,456.7 L77.4,456.7 L77.65,456.7 L77.9,456.7 L78.15,456.7 L78.4,456.7 L78.65,456.7 L78.9,456.7 L79.15,456.7 L79.4,456.7 L79.65,456.7 L79.9,456.7 L80.15,456.7 L80.4,456.7 L80.65,456.7 L80.9,456.7 L81.15,456.7 L81.4,456.7 L81.65,456.7 L81.9,456.7 L82.15,456.7 L82.4,456.7 L82.65,456.7 L82.9,456.7 L83.15,456.7 L83.4,456.7 L83.65,456.7 L83.9,456.7 L84.15,456.7 L84.4,456.7 L84.65,456.7 L84.9,456.7 L85.15,456.7 L85.4,456.7 L85.65,456.7 L85.9,456.7 L86.15,456.7 L86.4,456.7 L86.65,456.7 L86.9,456.7 L87.15,456.7 L87.4,456.7 L87.65,456.7 L87.9,456.7 L88.15,456.7 L88.4,456.7 L88.65,456.7 L88.9,456.7 L89.15,456.7 L89.4,456.7 L89.65,456.7 L89.9,456.7 L90.15,456.7 L90.4,456.7 L90.65,456.7 L90.9,456.7 L91.15,456.7 L91.4,456.7 L91.65,456.7 L91.9,456.7 L92.15,456.7 L92.4,456.7 L92.65,456.7 L92.9,456.7 L93.15,456.7 L93.4,456.7 L93.65,456.7 L93.9,456.7 L94.15,456.7 L94.4,456.7 L94.65,456.7 L94.9,456.7 L95.15,456.7 L95.4,456.7 L95.65,456.7 L95.9,456.7 L96.15,456.7 L96.4,456.7 L96.65,456.7 L96.9,456.7 L97.15,456.7 L97.4,456.7 L97.65,456.7 L97.9,456.7 L98.15,456.7 L98.4,456.7 L98.65,456.7 L98.9,456.7 L99.15,456.7 L99.4,456.7 L99.65,456.7 L99.9,456.7 L100.15,456.7 L100.4,456.7 L100.65,456.7 L100.9,456.7 L101.15,456.7 L101.4,456.7 L101.65,456.7 L101.9,456.7 L102.15,456.7 L102.4,456.7 L102.65,456.7 L102.9,456.7 L103.15,456.7 L103.4,456.7 L103.65,456.7 L103.9,456.7 L104.15,456.7 L104.4,456.7 L104.65,456.7 L104.9,456.7 L105.15,456.7 L105.4,456.7 L105.65,456.7 L105.9,456.7 L106.15,456.7 L106.4,456.7 L106.65,456.7 L106.9,456.7 L107.15,456.7 L107.4,456.7 L107.65,456.7 L107.9,456.7 L108.15,456.7 L108.4,456.7 L108.65,456.7 L108.9,456.7 L109.15,456.7 L109.4,456.7 L109.65,456.7 L109.9,456.7 L110.15,456.7 L110.4,456.7 L110.65,456.7 L110.9,456.7 L111.15,456.7 L111.4,456.7 L111.65,456.7 L111.9,456.7 L112.15,456.7 L112.4,456.7 L112.65,456.7 L112.9,456.7 L113.15,456.7 L113.4,456.7 L113.65,456.7 L113.9,456.7 L114.15,456.7 L114.4,456.7 L114.65,456.7 L114.9,456.7 L115.15,456.7 L115.4,456.7 L115.65,456.7 L115.9,456.7 L116.15,456.7 L116.4,456.7 L116.65,456.7 L116.9,456.7 L117.15,456.7 L117.4,456.7 L117.65,456.7 L117.9,456.7 L118.15,456.7 L118.4,456.7 L118.65,456.7 L118.9,456.7 L119.15,456.7 L119.4,456.7 L119.65,456.7 L119.9,456.7 L120.15,456.7 L120.4,456.7 L120.65,456.7 L120.9,456.7 L121.15,456.7 L121.4,456.7 L121.65,456.7 L121.9,456.7 L122.15,456.7 L122.4,456.7 L122.65,456.7 L122.9,456.7 L123.15,456.7 L123.4,456.7 L123.65,456.7 L123.9,456.7 L124.15,456.7 L124.4,456.7 L124.65,456.7 L124.9,456.7 L125.15,456.7 L125.4,456.7 L125.65,456.7 L125.9,456.7 L126.15,456.7 L126.4,456.7 L126.65,456.7 L126.9,456.7 L127.15,456.7 L127.4,456.7 L127.65,456.7 L127.9,456.7 L128.15,456.7 L128.4,456.7 L128.65,456.7 L128.9,456.7 L129.15,456.7 L129.4,456.7 L129.65,456.7 L129.9,456.7 L130.15,456.7 L130.4,456.7 L130.65,456.7 L130.9,456.7 L131.15,456.7 L131.4,456.7 L131.65,456.7 L131.9,456.7 L132.15,456.7 L132.4,456.7 L132.65,456.7 L132.9,456.7 L133.15,456.7 L133.4,456.7 L133.65,456.7 L133.9,456.7 L134.15,456.7 L134.4,456.7 L134.65,456.7 L134.9,456.7 L135.15,456.7 L135.4,456.7 L135.65,456.7 L135.9,456.7 L136.15,456.7 L136.4,456.7 L136.65,456.7 L136.9,456.7 L137.15,456.7 L137.4,456.7 L137.65,456.7 L137.9,456.7 L138.15,456.7 L138.4,456.7 L138.65,456.7 L138.9,456.7 L139.15,456.7 L139.4,456.7 L139.65,456.7 L139.9,456.7 L140.15,456.7 L140.4,456.7 L140.65,456.7 L140.9,456.7 L141.15,456.7 L141.4,456.7 L141.65,456.7 L141.9,456.7 L142.15,456.7 L142.4,456.7 L142.65,456.7 L142.9,456.7 L143.15,456.7 L143.4,456.7 L143.65,456.7 L143.9,456.7 L144.15,456.7 L144.4,456.7 L144.65,456.7 L144.9,456.7 L145.15,456.7 L145.4,456.7 L145.65,456.7 L145.9,456.7 L146.15,456.7 L146.4,456.7 L146.65,456.7 L146.9,456.7 L147.15,456.7 L147.4,456.7 L147.65,456.7 L147.9,456.7 L148.15,456.7 L148.4,456.7 L148.65,456.7 L148.9,456.7 L149.15,456.7 L149.4,456.7 L149.65,456.7 L149.9,456.7 L150.15,456.7 L150.4,456.7 L150.65,456.7 L150.9,456.7 L151.15,456.7 L151.4,456.7 L151.65,456.7 L151.9,456.7 L152.15,456.7 L152.4,456.7 L152.65,456.7 L152.9,456.7 L153.15,456.7 L153.4,456.7 L153.65,456.7 L153.9,456.7 L154.15,456.7 L154.4,456.7 L154.65,456.7 L154.9,456.7 L155.15,456.7 L155.4,456.7 L155.65,456.7 L155.9,456.7 L156.15,456.7 L156.4,456.7 L156.65,456.7 L156.9,456.7 L157.15,456.7 L157.4,456.7 L157.65,456.7 L157.9,456.7 L158.15,456.7 L158.4,456.7 L158.65,456.7 L158.9,456.7 L159.15,456.7 L159.4,456.7 L159.65,456.7 L159.9,456.7 L160.15,456.7 L160.4,456.7 L160.65,456.7 L160.9,456.7" stroke="#b0b0b0" stroke-width="1.1" fill="none" stroke-linejoin="round"/>
<path d="M23.9,456.7 L24.15,456.7 L24.4,456.69 L24.65,456.68 L24.9,456.65 L25.15,456.6 L25.4,456.5 L25.65,456.33 L25.9,456.04 L26.15,455.58 L26.4,454.87 L26.65,453.83 L26.9,452.39 L27.15,450.49 L27.4,448.11 L27.65,445.32 L27.9,442.25 L28.15,439.09 L28.4,436.13 L28.65,433.66 L28.9,431.96 L29.15,431.22 L29.4,431.54 L29.65,432.88 L29.9,435.07 L30.15,437.87 L30.4,440.98 L30.65,444.12 L30.9,447.04 L31.15,449.59 L31.4,451.68 L31.65,453.31 L31.9,454.5 L32.15,455.33 L32.4,455.88 L32.65,456.23 L32.9,456.44 L33.15,456.57 L33.4,456.63 L33.65,456.67 L33.9,456.68 L34.15,456.69 L34.4,456.7 L34.65,456.7 L34.9,456.7 L35.15,456.7 L35.4,456.7 L35.65,456.7 L35.9,456.7 L36.15,456.7 L36.4,456.7 L36.65,456.7 L36.9,456.7 L37.15,456.69 L37.4,456.68 L37.65,456.65 L37.9,456.59 L38.15,456.49 L38.4,456.31 L38.65,456 L38.9,455.49 L39.15,454.71 L39.4,453.55 L39.65,451.93 L39.9,449.77 L40.15,447.04 L40.4,443.79 L40.65,440.16 L40.9,436.39 L41.15,432.77 L41.4,429.67 L41.65,427.43 L41.9,426.3 L42.15,426.43 L42.4,427.8 L42.65,430.24 L42.9,433.47 L43.15,437.14 L43.4,440.91 L43.65,444.48 L43.9,447.63 L44.15,450.24 L44.4,452.29 L44.65,453.82 L44.9,454.89 L45.15,455.61 L45.4,456.07 L45.65,456.35 L45.9,456.52 L46.15,456.61 L46.4,456.65 L46.65,456.68 L46.9,456.69 L47.15,456.7 L47.4,456.7 L47.65,456.7 L47.9,456.7 L48.15,456.7 L48.4,456.7 L48.65,456.7 L48.9,456.7 L49.15,456.7 L49.4,456.7 L49.65,456.7 L49.9,456.7 L50.15,456.7 L50.4,456.7 L50.65,456.7 L50.9,456.7 L51.15,456.7 L51.4,456.7 L51.65,456.7 L51.9,456.7 L52.15,456.7 L52.4,456.7 L52.65,456.7 L52.9,456.7 L53.15,456.7 L53.4,456.7 L53.65,456.7 L53.9,456.7 L54.15,456.7 L54.4,456.7 L54.65,456.7 L54.9,456.7 L55.15,456.7 L55.4,456.7 L55.65,456.7 L55.9,456.7 L56.15,456.7 L56.4,456.7 L56.65,456.7 L56.9,456.7 L57.15,456.7 L57.4,456.7 L57.65,456.7 L57.9,456.7 L58.15,456.7 L58.4,456.7 L58.65,456.7 L58.9,456.7 L59.15,456.7 L59.4,456.7 L59.65,456.7 L59.9,456.7 L60.15,456.7 L60.4,456.7 L60.65,456.7 L60.9,456.7 L61.15,456.7 L61.4,456.7 L61.65,456.7 L61.9,456.7 L62.15,456.7 L62.4,456.7 L62.65,456.7 L62.9,456.7 L63.15,456.69 L63.4,456.68 L63.65,456.67 L63.9,456.63 L64.15,456.57 L64.4,456.46 L64.65,456.26 L64.9,455.95 L65.15,455.47 L65.4,454.75 L65.65,453.74 L65.9,452.4 L66.15,450.71 L66.4,448.7 L66.65,446.45 L66.9,444.11 L67.15,441.87 L67.4,439.95 L67.65,438.56 L67.9,437.86 L68.15,437.94 L68.4,438.79 L68.65,440.3 L68.9,442.3 L69.15,444.58 L69.4,446.92 L69.65,449.13 L69.9,451.08 L70.15,452.7 L70.4,453.97 L70.65,454.91 L70.9,455.58 L71.15,456.03 L71.4,456.31 L71.65,456.48 L71.9,456.59 L72.15,456.64 L72.4,456.67 L72.65,456.69 L72.9,456.69 L73.15,456.7 L73.4,456.7 L73.65,456.7 L73.9,456.7 L74.15,456.7 L74.4,456.7 L74.65,456.7 L74.9,456.7 L75.15,456.7 L75.4,456.7 L75.65,456.7 L75.9,456.7 L76.15,456.7 L76.4,456.7 L76.65,456.7 L76.9,456.7 L77.15,456.7 L77.4,456.7 L77.65,456.7 L77.9,456.7 L78.15,456.7 L78.4,456.7 L78.65,456.7 L78.9,456.7 L79.15,456.7 L79.4,456.7 L79.65,456.7 L79.9,456.7 L80.15,456.7 L80.4,456.7 L80.65,456.7 L80.9,456.7 L81.15,456.7 L81.4,456.7 L81.65,456.7 L81.9,456.7 L82.15,456.7 L82.4,456.7 L82.65,456.7 L82.9,456.7 L83.15,456.7 L83.4,456.7 L83.65,456.7 L83.9,456.7 L84.15,456.7 L84.4,456.7 L84.65,456.7 L84.9,456.7 L85.15,456.7 L85.4,456.7 L85.65,456.7 L85.9,456.7 L86.15,456.7 L86.4,456.7 L86.65,456.7 L86.9,456.7 L87.15,456.7 L87.4,456.7 L87.65,456.7 L87.9,456.7 L88.15,456.7 L88.4,456.7 L88.65,456.7 L88.9,456.7 L89.15,456.7 L89.4,456.7 L89.65,456.7 L89.9,456.7 L90.15,456.7 L90.4,456.7 L90.65,456.7 L90.9,456.7 L91.15,456.7 L91.4,456.7 L91.65,456.7 L91.9,456.7 L92.15,456.7 L92.4,456.7 L92.65,456.7 L92.9,456.7 L93.15,456.7 L93.4,456.7 L93.65,456.7 L93.9,456.7 L94.15,456.7 L94.4,456.7 L94.65,456.7 L94.9,456.7 L95.15,456.7 L95.4,456.7 L95.65,456.7 L95.9,456.7 L96.15,456.7 L96.4,456.7 L96.65,456.7 L96.9,456.7 L97.15,456.7 L97.4,456.7 L97.65,456.7 L97.9,456.7 L98.15,456.7 L98.4,456.7 L98.65,456.7 L98.9,456.7 L99.15,456.7 L99.4,456.7 L99.65,456.7 L99.9,456.7 L100.15,456.7 L100.4,456.7 L100.65,456.7 L100.9,456.7 L101.15,456.7 L101.4,456.7 L101.65,456.7 L101.9,456.7 L102.15,456.7 L102.4,456.7 L102.65,456.7 L102.9,456.7 L103.15,456.7 L103.4,456.7 L103.65,456.7 L103.9,456.7 L104.15,456.7 L104.4,456.7 L104.65,456.7 L104.9,456.7 L105.15,456.7 L105.4,456.7 L105.65,456.7 L105.9,456.7 L106.15,456.7 L106.4,456.7 L106.65,456.7 L106.9,456.7 L107.15,456.7 L107.4,456.7 L107.65,456.7 L107.9,456.7 L108.15,456.7 L108.4,456.7 L108.65,456.7 L108.9,456.7 L109.15,456.7 L109.4,456.7 L109.65,456.7 L109.9,456.7 L110.15,456.7 L110.4,456.7 L110.65,456.7 L110.9,456.7 L111.15,456.7 L111.4,456.7 L111.65,456.7 L111.9,456.7 L112.15,456.7 L112.4,456.7 L112.65,456.7 L112.9,456.7 L113.15,456.7 L113.4,456.7 L113.65,456.7 L113.9,456.7 L114.15,456.7 L114.4,456.7 L114.65,456.7 L114.9,456.7 L115.15,456.7 L115.4,456.7 L115.65,456.7 L115.9,456.7 L116.15,456.7 L116.4,456.7 L116.65,456.7 L116.9,456.7 L117.15,456.7 L117.4,456.7 L117.65,456.7 L117.9,456.7 L118.15,456.7 L118.4,456.7 L118.65,456.7 L118.9,456.7 L119.15,456.7 L119.4,456.7 L119.65,456.7 L119.9,456.7 L120.15,456.7 L120.4,456.7 L120.65,456.7 L120.9,456.7 L121.15,456.7 L121.4,456.7 L121.65,456.7 L121.9,456.69 L122.15,456.68 L122.4,456.66 L122.65,456.62 L122.9,456.55 L123.15,456.41 L123.4,456.18 L123.65,455.8 L123.9,455.21 L124.15,454.33 L124.4,453.07 L124.65,451.39 L124.9,449.24 L125.15,446.64 L125.4,443.71 L125.65,440.6 L125.9,437.58 L126.15,434.92 L126.4,432.91 L126.65,431.79 L126.9,431.68 L127.15,432.61 L127.4,434.46 L127.65,437.01 L127.9,439.98 L128.15,443.09 L128.4,446.07 L128.65,448.73 L128.9,450.94 L129.15,452.67 L129.4,453.92 L129.65,454.7 L129.9,455.07 L130.15,455.03 L130.4,454.6 L130.65,453.74 L130.9,452.42 L131.15,450.61 L131.4,448.33 L131.65,445.63 L131.9,442.64 L132.15,439.57 L132.4,436.7 L132.65,434.3 L132.9,432.64 L133.15,431.92 L133.4,432.23 L133.65,433.53 L133.9,435.66 L134.15,438.39 L134.4,441.41 L134.65,444.46 L134.9,447.31 L135.15,449.79 L135.4,451.82 L135.65,453.4 L135.9,454.56 L136.15,455.37 L136.4,455.9 L136.65,456.25 L136.9,456.45 L137.15,456.57 L137.4,456.63 L137.65,456.67 L137.9,456.69 L138.15,456.69 L138.4,456.7 L138.65,456.7 L138.9,456.7 L139.15,456.7 L139.4,456.7 L139.65,456.7 L139.9,456.7 L140.15,456.7 L140.4,456.7 L140.65,456.7 L140.9,456.7 L141.15,456.7 L141.4,456.7 L141.65,456.7 L141.9,456.7 L142.15,456.7 L142.4,456.7 L142.65,456.7 L142.9,456.7 L143.15,456.7 L143.4,456.7 L143.65,456.7 L143.9,456.7 L144.15,456.7 L144.4,456.7 L144.65,456.7 L144.9,456.7 L145.15,456.7 L145.4,456.7 L145.65,456.7 L145.9,456.7 L146.15,456.7 L146.4,456.7 L146.65,456.7 L146.9,456.7 L147.15,456.7 L147.4,456.7 L147.65,456.69 L147.9,456.69 L148.15,456.67 L148.4,456.64 L148.65,456.58 L148.9,456.46 L149.15,456.26 L149.4,455.92 L149.65,455.37 L149.9,454.53 L150.15,453.3 L150.4,451.59 L150.65,449.34 L150.9,446.53 L151.15,443.23 L151.4,439.58 L151.65,435.85 L151.9,432.34 L152.15,429.42 L152.4,427.4 L152.65,426.53 L152.9,426.9 L153.15,428.49 L153.4,431.08 L153.65,434.4 L153.9,438.08 L154.15,441.8 L154.4,445.26 L154.65,448.28 L154.9,450.76 L155.15,452.68 L155.4,454.09 L155.65,455.08 L155.9,455.73 L156.15,456.15 L156.4,456.4 L156.65,456.54 L156.9,456.62 L157.15,456.66 L157.4,456.68 L157.65,456.69 L157.9,456.7 L158.15,456.7 L158.4,456.7 L158.65,456.7 L158.9,456.7 L159.15,456.7 L159.4,456.7 L159.65,456.7 L159.9,456.7 L160.15,456.7 L160.4,456.7 L160.65,456.7 L160.9,456.7" stroke="#72bc72" stroke-width="1.1" fill="none" stroke-linejoin="round"/>
<path d="M23.9,456.7 L24.15,456.7 L24.4,456.7 L24.65,456.7 L24.9,456.7 L25.15,456.7 L25.4,456.7 L25.65,456.7 L25.9,456.7 L26.15,456.7 L26.4,456.7 L26.65,456.7 L26.9,456.7 L27.15,456.7 L27.4,456.7 L27.65,456.7 L27.9,456.7 L28.15,456.7 L28.4,456.7 L28.65,456.7 L28.9,456.7 L29.15,456.7 L29.4,456.7 L29.65,456.7 L29.9,456.7 L30.15,456.7 L30.4,456.7 L30.65,456.7 L30.9,456.7 L31.15,456.7 L31.4,456.7 L31.65,456.7 L31.9,456.7 L32.15,456.7 L32.4,456.7 L32.65,456.7 L32.9,456.7 L33.15,456.7 L33.4,456.7 L33.65,456.7 L33.9,456.7 L34.15,456.7 L34.4,456.7 L34.65,456.7 L34.9,456.7 L35.15,456.7 L35.4,456.7 L35.65,456.7 L35.9,456.7 L36.15,456.7 L36.4,456.7 L36.65,456.7 L36.9,456.7 L37.15,456.7 L37.4,456.7 L37.65,456.7 L37.9,456.7 L38.15,456.7 L38.4,456.7 L38.65,456.7 L38.9,456.7 L39.15,456.7 L39.4,456.7 L39.65,456.7 L39.9,456.7 L40.15,456.7 L40.4,456.7 L40.65,456.7 L40.9,456.7 L41.15,456.7 L41.4,456.7 L41.65,456.7 L41.9,456.7 L42.15,456.7 L42.4,456.7 L42.65,456.7 L42.9,456.7 L43.15,456.7 L43.4,456.7 L43.65,456.7 L43.9,456.7 L44.15,456.7 L44.4,456.7 L44.65,456.7 L44.9,456.7 L45.15,456.7 L45.4,456.7 L45.65,456.7 L45.9,456.7 L46.15,456.7 L46.4,456.7 L46.65,456.7 L46.9,456.7 L47.15,456.7 L47.4,456.7 L47.65,456.7 L47.9,456.7 L48.15,456.7 L48.4,456.7 L48.65,456.7 L48.9,456.7 L49.15,456.7 L49.4,456.7 L49.65,456.7 L49.9,456.7 L50.15,456.7 L50.4,456.7 L50.65,456.7 L50.9,456.7 L51.15,456.7 L51.4,456.7 L51.65,456.7 L51.9,456.7 L52.15,456.7 L52.4,456.7 L52.65,456.7 L52.9,456.7 L53.15,456.7 L53.4,456.7 L53.65,456.7 L53.9,456.7 L54.15,456.7 L54.4,456.7 L54.65,456.7 L54.9,456.7 L55.15,456.7 L55.4,456.7 L55.65,456.7 L55.9,456.7 L56.15,456.7 L56.4,456.7 L56.65,456.7 L56.9,456.69 L57.15,456.68 L57.4,456.67 L57.65,456.63 L57.9,456.56 L58.15,456.44 L58.4,456.24 L58.65,455.9 L58.9,455.37 L59.15,454.57 L59.4,453.45 L59.65,451.94 L59.9,450.01 L60.15,447.68 L60.4,445.05 L60.65,442.27 L60.9,439.56 L61.15,437.18 L61.4,435.38 L61.65,434.37 L61.9,434.28 L62.15,435.11 L62.4,436.76 L62.65,439.05 L62.9,441.72 L63.15,444.5 L63.4,447.18 L63.65,449.57 L63.9,451.59 L64.15,453.18 L64.4,454.38 L64.65,455.23 L64.9,455.81 L65.15,456.18 L65.4,456.41 L65.65,456.55 L65.9,456.62 L66.15,456.66 L66.4,456.68 L66.65,456.69 L66.9,456.7 L67.15,456.7 L67.4,456.7 L67.65,456.7 L67.9,456.7 L68.15,456.7 L68.4,456.7 L68.65,456.7 L68.9,456.7 L69.15,456.7 L69.4,456.7 L69.65,456.7 L69.9,456.7 L70.15,456.7 L70.4,456.7 L70.65,456.7 L70.9,456.7 L71.15,456.7 L71.4,456.7 L71.65,456.7 L71.9,456.7 L72.15,456.7 L72.4,456.7 L72.65,456.7 L72.9,456.7 L73.15,456.7 L73.4,456.7 L73.65,456.7 L73.9,456.7 L74.15,456.7 L74.4,456.7 L74.65,456.7 L74.9,456.7 L75.15,456.7 L75.4,456.7 L75.65,456.7 L75.9,456.7 L76.15,456.7 L76.4,456.7 L76.65,456.7 L76.9,456.7 L77.15,456.7 L77.4,456.7 L77.65,456.7 L77.9,456.7 L78.15,456.7 L78.4,456.7 L78.65,456.7 L78.9,456.7 L79.15,456.7 L79.4,456.7 L79.65,456.7 L79.9,456.7 L80.15,456.7 L80.4,456.7 L80.65,456.7 L80.9,456.7 L81.15,456.7 L81.4,456.7 L81.65,456.7 L81.9,456.7 L82.15,456.7 L82.4,456.7 L82.65,456.7 L82.9,456.7 L83.15,456.7 L83.4,456.7 L83.65,456.7 L83.9,456.7 L84.15,456.7 L84.4,456.7 L84.65,456.7 L84.9,456.7 L85.15,456.7 L85.4,456.7 L85.65,456.7 L85.9,456.7 L86.15,456.7 L86.4,456.7 L86.65,456.7 L86.9,456.7 L87.15,456.7 L87.4,456.7 L87.65,456.7 L87.9,456.7 L88.15,456.7 L88.4,456.7 L88.65,456.7 L88.9,456.7 L89.15,456.7 L89.4,456.69 L89.65,456.68 L89.9,456.67 L90.15,456.63 L90.4,456.57 L90.65,456.46 L90.9,456.28 L91.15,455.98 L91.4,455.53 L91.65,454.87 L91.9,453.94 L92.15,452.73 L92.4,451.21 L92.65,449.43 L92.9,447.46 L93.15,445.45 L93.4,443.55 L93.65,441.98 L93.9,440.89 L94.15,440.41 L94.4,440.62 L94.65,441.47 L94.9,442.87 L95.15,444.66 L95.4,446.65 L95.65,448.66 L95.9,450.53 L96.15,452.16 L96.4,453.49 L96.65,454.53 L96.9,455.29 L97.15,455.82 L97.4,456.18 L97.65,456.4 L97.9,456.54 L98.15,456.61 L98.4,456.66 L98.65,456.68 L98.9,456.69 L99.15,456.7 L99.4,456.7 L99.65,456.7 L99.9,456.7 L100.15,456.7 L100.4,456.7 L100.65,456.7 L100.9,456.7 L101.15,456.7 L101.4,456.7 L101.65,456.7 L101.9,456.7 L102.15,456.7 L102.4,456.7 L102.65,456.7 L102.9,456.7 L103.15,456.7 L103.4,456.7 L103.65,456.7 L103.9,456.7 L104.15,456.7 L104.4,456.7 L104.65,456.7 L104.9,456.7 L105.15,456.7 L105.4,456.7 L105.65,456.7 L105.9,456.7 L106.15,456.7 L106.4,456.7 L106.65,456.7 L106.9,456.7 L107.15,456.7 L107.4,456.7 L107.65,456.7 L107.9,456.7 L108.15,456.7 L108.4,456.7 L108.65,456.7 L108.9,456.7 L109.15,456.7 L109.4,456.69 L109.65,456.68 L109.9,456.66 L110.15,456.61 L110.4,456.53 L110.65,456.39 L110.9,456.15 L111.15,455.77 L111.4,455.18 L111.65,454.31 L111.9,453.11 L112.15,451.53 L112.4,449.56 L112.65,447.24 L112.9,444.68 L113.15,442.06 L113.4,439.6 L113.65,437.55 L113.9,436.13 L114.15,435.52 L114.4,435.78 L114.65,436.89 L114.9,438.72 L115.15,441.04 L115.4,443.63 L115.65,446.24 L115.9,448.66 L116.15,450.77 L116.4,452.49 L116.65,453.8 L116.9,454.72 L117.15,455.27 L117.4,455.5 L117.65,455.42 L117.9,455 L118.15,454.22 L118.4,453.02 L118.65,451.36 L118.9,449.22 L119.15,446.64 L119.4,443.7 L119.65,440.6 L119.9,437.58 L120.15,434.92 L120.4,432.91 L120.65,431.79 L120.9,431.68 L121.15,432.61 L121.4,434.46 L121.65,437.01 L121.9,439.98 L122.15,443.09 L122.4,446.08 L122.65,448.75 L122.9,450.99 L123.15,452.77 L123.4,454.11 L123.65,455.06 L123.9,455.71 L124.15,456.12 L124.4,456.38 L124.65,456.53 L124.9,456.61 L125.15,456.66 L125.4,456.68 L125.65,456.69 L125.9,456.7 L126.15,456.7 L126.4,456.7 L126.65,456.7 L126.9,456.7 L127.15,456.7 L127.4,456.7 L127.65,456.7 L127.9,456.7 L128.15,456.7 L128.4,456.7 L128.65,456.7 L128.9,456.7 L129.15,456.7 L129.4,456.7 L129.65,456.7 L129.9,456.7 L130.15,456.7 L130.4,456.7 L130.65,456.7 L130.9,456.7 L131.15,456.7 L131.4,456.7 L131.65,456.7 L131.9,456.7 L132.15,456.7 L132.4,456.7 L132.65,456.7 L132.9,456.7 L133.15,456.7 L133.4,456.7 L133.65,456.7 L133.9,456.7 L134.15,456.7 L134.4,456.7 L134.65,456.7 L134.9,456.7 L135.15,456.7 L135.4,456.7 L135.65,456.7 L135.9,456.7 L136.15,456.7 L136.4,456.7 L136.65,456.7 L136.9,456.7 L137.15,456.7 L137.4,456.7 L137.65,456.7 L137.9,456.7 L138.15,456.7 L138.4,456.7 L138.65,456.7 L138.9,456.7 L139.15,456.7 L139.4,456.7 L139.65,456.7 L139.9,456.7 L140.15,456.7 L140.4,456.7 L140.65,456.7 L140.9,456.7 L141.15,456.7 L141.4,456.7 L141.65,456.7 L141.9,456.7 L142.15,456.7 L142.4,456.7 L142.65,456.7 L142.9,456.7 L143.15,456.7 L143.4,456.7 L143.65,456.7 L143.9,456.7 L144.15,456.7 L144.4,456.7 L144.65,456.7 L144.9,456.7 L145.15,456.7 L145.4,456.7 L145.65,456.7 L145.9,456.7 L146.15,456.7 L146.4,456.7 L146.65,456.7 L146.9,456.7 L147.15,456.7 L147.4,456.7 L147.65,456.7 L147.9,456.7 L148.15,456.7 L148.4,456.7 L148.65,456.7 L148.9,456.7 L149.15,456.7 L149.4,456.7 L149.65,456.7 L149.9,456.7 L150.15,456.7 L150.4,456.7 L150.65,456.7 L150.9,456.7 L151.15,456.7 L151.4,456.7 L151.65,456.7 L151.9,456.7 L152.15,456.7 L152.4,456.7 L152.65,456.7 L152.9,456.7 L153.15,456.7 L153.4,456.7 L153.65,456.7 L153.9,456.7 L154.15,456.7 L154.4,456.7 L154.65,456.7 L154.9,456.7 L155.15,456.7 L155.4,456.7 L155.65,456.7 L155.9,456.7 L156.15,456.7 L156.4,456.7 L156.65,456.7 L156.9,456.7 L157.15,456.7 L157.4,456.7 L157.65,456.7 L157.9,456.7 L158.15,456.7 L158.4,456.7 L158.65,456.7 L158.9,456.7 L159.15,456.7 L159.4,456.7 L159.65,456.7 L159.9,456.7 L160.15,456.7 L160.4,456.7 L160.65,456.7 L160.9,456.7" stroke="#6468b0" stroke-width="1.1" fill="none" stroke-linejoin="round"/>
<path d="M23.9,456.7 L24.15,456.7 L24.4,456.7 L24.65,456.7 L24.9,456.7 L25.15,456.7 L25.4,456.7 L25.65,456.7 L25.9,456.7 L26.15,456.7 L26.4,456.7 L26.65,456.7 L26.9,456.7 L27.15,456.7 L27.4,456.7 L27.65,456.7 L27.9,456.7 L28.15,456.7 L28.4,456.7 L28.65,456.7 L28.9,456.7 L29.15,456.7 L29.4,456.7 L29.65,456.7 L29.9,456.7 L30.15,456.7 L30.4,456.7 L30.65,456.7 L30.9,456.7 L31.15,456.7 L31.4,456.7 L31.65,456.7 L31.9,456.7 L32.15,456.7 L32.4,456.7 L32.65,456.7 L32.9,456.7 L33.15,456.7 L33.4,456.7 L33.65,456.7 L33.9,456.7 L34.15,456.7 L34.4,456.7 L34.65,456.7 L34.9,456.7 L35.15,456.7 L35.4,456.7 L35.65,456.7 L35.9,456.7 L36.15,456.7 L36.4,456.7 L36.65,456.7 L36.9,456.7 L37.15,456.7 L37.4,456.7 L37.65,456.7 L37.9,456.7 L38.15,456.7 L38.4,456.7 L38.65,456.7 L38.9,456.7 L39.15,456.7 L39.4,456.7 L39.65,456.7 L39.9,456.7 L40.15,456.7 L40.4,456.7 L40.65,456.7 L40.9,456.7 L41.15,456.7 L41.4,456.7 L41.65,456.7 L41.9,456.7 L42.15,456.7 L42.4,456.7 L42.65,456.7 L42.9,456.7 L43.15,456.7 L43.4,456.7 L43.65,456.7 L43.9,456.7 L44.15,456.7 L44.4,456.7 L44.65,456.7 L44.9,456.7 L45.15,456.7 L45.4,456.7 L45.65,456.7 L45.9,456.7 L46.15,456.7 L46.4,456.7 L46.65,456.7 L46.9,456.7 L47.15,456.7 L47.4,456.7 L47.65,456.7 L47.9,456.7 L48.15,456.7 L48.4,456.7 L48.65,456.7 L48.9,456.7 L49.15,456.7 L49.4,456.7 L49.65,456.7 L49.9,456.7 L50.15,456.7 L50.4,456.69 L50.65,456.68 L50.9,456.67 L51.15,456.63 L51.4,456.56 L51.65,456.43 L51.9,456.2 L52.15,455.81 L52.4,455.2 L52.65,454.26 L52.9,452.91 L53.15,451.06 L53.4,448.64 L53.65,445.66 L53.9,442.19 L54.15,438.42 L54.4,434.62 L54.65,431.12 L54.9,428.29 L55.15,426.44 L55.4,425.8 L55.65,426.44 L55.9,428.29 L56.15,431.12 L56.4,434.62 L56.65,438.42 L56.9,442.19 L57.15,445.66 L57.4,448.64 L57.65,451.06 L57.9,452.91 L58.15,454.26 L58.4,455.2 L58.65,455.81 L58.9,456.2 L59.15,456.43 L59.4,456.56 L59.65,456.63 L59.9,456.67 L60.15,456.68 L60.4,456.69 L60.65,456.7 L60.9,456.7 L61.15,456.7 L61.4,456.7 L61.65,456.7 L61.9,456.7 L62.15,456.7 L62.4,456.7 L62.65,456.7 L62.9,456.7 L63.15,456.7 L63.4,456.7 L63.65,456.7 L63.9,456.7 L64.15,456.7 L64.4,456.7 L64.65,456.7 L64.9,456.7 L65.15,456.7 L65.4,456.7 L65.65,456.7 L65.9,456.7 L66.15,456.7 L66.4,456.7 L66.65,456.7 L66.9,456.7 L67.15,456.7 L67.4,456.7 L67.65,456.7 L67.9,456.7 L68.15,456.7 L68.4,456.7 L68.65,456.7 L68.9,456.7 L69.15,456.7 L69.4,456.7 L69.65,456.7 L69.9,456.7 L70.15,456.7 L70.4,456.7 L70.65,456.7 L70.9,456.7 L71.15,456.7 L71.4,456.7 L71.65,456.7 L71.9,456.7 L72.15,456.7 L72.4,456.7 L72.65,456.7 L72.9,456.7 L73.15,456.7 L73.4,456.7 L73.65,456.7 L73.9,456.7 L74.15,456.7 L74.4,456.7 L74.65,456.7 L74.9,456.7 L75.15,456.7 L75.4,456.7 L75.65,456.69 L75.9,456.69 L76.15,456.67 L76.4,456.63 L76.65,456.56 L76.9,456.42 L77.15,456.17 L77.4,455.75 L77.65,455.05 L77.9,453.95 L78.15,452.32 L78.4,450.01 L78.65,446.9 L78.9,442.93 L79.15,438.15 L79.4,432.73 L79.65,427.01 L79.9,421.43 L80.15,416.53 L80.4,412.82 L80.65,410.75 L80.9,410.56 L81.15,412.27 L81.4,415.67 L81.65,420.38 L81.9,425.86 L82.15,431.6 L82.4,437.11 L82.65,442.04 L82.9,446.18 L83.15,449.46 L83.4,451.92 L83.65,453.68 L83.9,454.87 L84.15,455.63 L84.4,456.1 L84.65,456.38 L84.9,456.54 L85.15,456.62 L85.4,456.66 L85.65,456.68 L85.9,456.69 L86.15,456.7 L86.4,456.7 L86.65,456.7 L86.9,456.7 L87.15,456.7 L87.4,456.7 L87.65,456.7 L87.9,456.7 L88.15,456.7 L88.4,456.7 L88.65,456.7 L88.9,456.7 L89.15,456.7 L89.4,456.7 L89.65,456.7 L89.9,456.7 L90.15,456.7 L90.4,456.7 L90.65,456.7 L90.9,456.7 L91.15,456.7 L91.4,456.7 L91.65,456.7 L91.9,456.7 L92.15,456.7 L92.4,456.7 L92.65,456.7 L92.9,456.7 L93.15,456.7 L93.4,456.7 L93.65,456.7 L93.9,456.7 L94.15,456.7 L94.4,456.7 L94.65,456.7 L94.9,456.7 L95.15,456.7 L95.4,456.7 L95.65,456.7 L95.9,456.69 L96.15,456.68 L96.4,456.67 L96.65,456.63 L96.9,456.56 L97.15,456.44 L97.4,456.23 L97.65,455.89 L97.9,455.35 L98.15,454.55 L98.4,453.41 L98.65,451.87 L98.9,449.92 L99.15,447.56 L99.4,444.9 L99.65,442.08 L99.9,439.33 L100.15,436.92 L100.4,435.09 L100.65,434.07 L100.9,433.98 L101.15,434.82 L101.4,436.5 L101.65,438.81 L101.9,441.52 L102.15,444.34 L102.4,447.05 L102.65,449.48 L102.9,451.51 L103.15,453.12 L103.4,454.31 L103.65,455.14 L103.9,455.65 L104.15,455.9 L104.4,455.91 L104.65,455.69 L104.9,455.2 L105.15,454.39 L105.4,453.22 L105.65,451.61 L105.9,449.56 L106.15,447.08 L106.4,444.28 L106.65,441.31 L106.9,438.42 L107.15,435.88 L107.4,433.96 L107.65,432.88 L107.9,432.78 L108.15,433.67 L108.4,435.43 L108.65,437.87 L108.9,440.72 L109.15,443.69 L109.4,446.54 L109.65,449.1 L109.9,451.24 L110.15,452.95 L110.4,454.22 L110.65,455.13 L110.9,455.75 L111.15,456.15 L111.4,456.39 L111.65,456.53 L111.9,456.62 L112.15,456.66 L112.4,456.68 L112.65,456.69 L112.9,456.7 L113.15,456.7 L113.4,456.7 L113.65,456.7 L113.9,456.7 L114.15,456.7 L114.4,456.7 L114.65,456.7 L114.9,456.7 L115.15,456.7 L115.4,456.7 L115.65,456.7 L115.9,456.7 L116.15,456.7 L116.4,456.7 L116.65,456.7 L116.9,456.7 L117.15,456.7 L117.4,456.7 L117.65,456.7 L117.9,456.7 L118.15,456.7 L118.4,456.7 L118.65,456.7 L118.9,456.7 L119.15,456.7 L119.4,456.7 L119.65,456.7 L119.9,456.7 L120.15,456.7 L120.4,456.7 L120.65,456.7 L120.9,456.7 L121.15,456.7 L121.4,456.7 L121.65,456.7 L121.9,456.7 L122.15,456.7 L122.4,456.7 L122.65,456.7 L122.9,456.7 L123.15,456.7 L123.4,456.7 L123.65,456.7 L123.9,456.7 L124.15,456.7 L124.4,456.7 L124.65,456.7 L124.9,456.7 L125.15,456.7 L125.4,456.7 L125.65,456.7 L125.9,456.7 L126.15,456.7 L126.4,456.7 L126.65,456.7 L126.9,456.7 L127.15,456.7 L127.4,456.7 L127.65,456.7 L127.9,456.7 L128.15,456.7 L128.4,456.7 L128.65,456.7 L128.9,456.7 L129.15,456.7 L129.4,456.7 L129.65,456.7 L129.9,456.7 L130.15,456.7 L130.4,456.7 L130.65,456.7 L130.9,456.7 L131.15,456.7 L131.4,456.7 L131.65,456.7 L131.9,456.7 L132.15,456.7 L132.4,456.7 L132.65,456.7 L132.9,456.7 L133.15,456.7 L133.4,456.7 L133.65,456.7 L133.9,456.7 L134.15,456.7 L134.4,456.7 L134.65,456.7 L134.9,456.7 L135.15,456.7 L135.4,456.7 L135.65,456.7 L135.9,456.7 L136.15,456.7 L136.4,456.7 L136.65,456.7 L136.9,456.7 L137.15,456.7 L137.4,456.7 L137.65,456.7 L137.9,456.7 L138.15,456.7 L138.4,456.7 L138.65,456.7 L138.9,456.7 L139.15,456.7 L139.4,456.7 L139.65,456.7 L139.9,456.7 L140.15,456.7 L140.4,456.7 L140.65,456.7 L140.9,456.7 L141.15,456.69 L141.4,456.68 L141.65,456.66 L141.9,456.62 L142.15,456.53 L142.4,456.38 L142.65,456.11 L142.9,455.65 L143.15,454.9 L143.4,453.76 L143.65,452.1 L143.9,449.78 L144.15,446.73 L144.4,442.93 L144.65,438.45 L144.9,433.52 L145.15,428.46 L145.4,423.71 L145.65,419.75 L145.9,417.02 L146.15,415.83 L146.4,416.35 L146.65,418.49 L146.9,422.01 L147.15,426.5 L147.4,431.49 L147.65,436.52 L147.9,441.21 L148.15,445.3 L148.4,448.65 L148.65,451.25 L148.9,453.17 L149.15,454.5 L149.4,455.39 L149.65,455.95 L149.9,456.29 L150.15,456.48 L150.4,456.59 L150.65,456.65 L150.9,456.68 L151.15,456.69 L151.4,456.7 L151.65,456.7 L151.9,456.7 L152.15,456.7 L152.4,456.7 L152.65,456.7 L152.9,456.7 L153.15,456.7 L153.4,456.7 L153.65,456.7 L153.9,456.7 L154.15,456.7 L154.4,456.7 L154.65,456.7 L154.9,456.7 L155.15,456.7 L155.4,456.7 L155.65,456.7 L155.9,456.7 L156.15,456.7 L156.4,456.7 L156.65,456.7 L156.9,456.7 L157.15,456.7 L157.4,456.7 L157.65,456.7 L157.9,456.7 L158.15,456.7 L158.4,456.7 L158.65,456.7 L158.9,456.7 L159.15,456.7 L159.4,456.7 L159.65,456.7 L159.9,456.7 L160.15,456.7 L160.4,456.7 L160.65,456.7 L160.9,456.7" stroke="#333333" stroke-width="1.1" fill="none" stroke-linejoin="round"/>
<path d="M23.9,456.7 L24.15,456.7 L24.4,456.7 L24.65,456.7 L24.9,456.7 L25.15,456.7 L25.4,456.7 L25.65,456.7 L25.9,456.7 L26.15,456.7 L26.4,456.7 L26.65,456.7 L26.9,456.7 L27.15,456.7 L27.4,456.7 L27.65,456.7 L27.9,456.7 L28.15,456.7 L28.4,456.7 L28.65,456.7 L28.9,456.7 L29.15,456.7 L29.4,456.7 L29.65,456.7 L29.9,456.7 L30.15,456.7 L30.4,456.7 L30.65,456.7 L30.9,456.7 L31.15,456.69 L31.4,456.69 L31.65,456.67 L31.9,456.64 L32.15,456.58 L32.4,456.47 L32.65,456.27 L32.9,455.94 L33.15,455.41 L33.4,454.59 L33.65,453.39 L33.9,451.73 L34.15,449.53 L34.4,446.8 L34.65,443.58 L34.9,440.04 L35.15,436.4 L35.4,432.99 L35.65,430.14 L35.9,428.18 L36.15,427.32 L36.4,427.69 L36.65,429.23 L36.9,431.76 L37.15,434.99 L37.4,438.58 L37.65,442.19 L37.9,445.56 L38.15,448.5 L38.4,450.92 L38.65,452.79 L38.9,454.16 L39.15,455.12 L39.4,455.76 L39.65,456.16 L39.9,456.4 L40.15,456.54 L40.4,456.62 L40.65,456.66 L40.9,456.68 L41.15,456.69 L41.4,456.7 L41.65,456.7 L41.9,456.7 L42.15,456.7 L42.4,456.7 L42.65,456.7 L42.9,456.7 L43.15,456.7 L43.4,456.7 L43.65,456.69 L43.9,456.68 L44.15,456.65 L44.4,456.6 L44.65,456.5 L44.9,456.33 L45.15,456.04 L45.4,455.56 L45.65,454.83 L45.9,453.74 L46.15,452.21 L46.4,450.18 L46.65,447.61 L46.9,444.56 L47.15,441.14 L47.4,437.59 L47.65,434.18 L47.9,431.27 L48.15,429.16 L48.4,428.1 L48.65,428.22 L48.9,429.5 L49.15,431.8 L49.4,434.84 L49.65,438.29 L49.9,441.84 L50.15,445.2 L50.4,448.16 L50.65,450.63 L50.9,452.55 L51.15,453.99 L51.4,455 L51.65,455.68 L51.9,456.11 L52.15,456.37 L52.4,456.53 L52.65,456.61 L52.9,456.66 L53.15,456.68 L53.4,456.69 L53.65,456.7 L53.9,456.7 L54.15,456.7 L54.4,456.7 L54.65,456.7 L54.9,456.7 L55.15,456.7 L55.4,456.7 L55.65,456.7 L55.9,456.7 L56.15,456.7 L56.4,456.7 L56.65,456.7 L56.9,456.7 L57.15,456.7 L57.4,456.7 L57.65,456.7 L57.9,456.7 L58.15,456.7 L58.4,456.7 L58.65,456.7 L58.9,456.7 L59.15,456.7 L59.4,456.7 L59.65,456.7 L59.9,456.7 L60.15,456.7 L60.4,456.7 L60.65,456.7 L60.9,456.7 L61.15,456.7 L61.4,456.7 L61.65,456.7 L61.9,456.7 L62.15,456.7 L62.4,456.7 L62.65,456.7 L62.9,456.7 L63.15,456.7 L63.4,456.7 L63.65,456.7 L63.9,456.7 L64.15,456.7 L64.4,456.7 L64.65,456.7 L64.9,456.7 L65.15,456.7 L65.4,456.7 L65.65,456.7 L65.9,456.7 L66.15,456.7 L66.4,456.7 L66.65,456.7 L66.9,456.7 L67.15,456.7 L67.4,456.7 L67.65,456.7 L67.9,456.7 L68.15,456.7 L68.4,456.7 L68.65,456.7 L68.9,456.7 L69.15,456.69 L69.4,456.69 L69.65,456.67 L69.9,456.64 L70.15,456.58 L70.4,456.46 L70.65,456.26 L70.9,455.92 L71.15,455.37 L71.4,454.53 L71.65,453.3 L71.9,451.59 L72.15,449.34 L72.4,446.53 L72.65,443.23 L72.9,439.58 L73.15,435.85 L73.4,432.34 L73.65,429.42 L73.9,427.4 L74.15,426.53 L74.4,426.9 L74.65,428.49 L74.9,431.08 L75.15,434.4 L75.4,438.08 L75.65,441.8 L75.9,445.26 L76.15,448.28 L76.4,450.76 L76.65,452.68 L76.9,454.09 L77.15,455.08 L77.4,455.73 L77.65,456.15 L77.9,456.4 L78.15,456.54 L78.4,456.62 L78.65,456.66 L78.9,456.68 L79.15,456.69 L79.4,456.7 L79.65,456.7 L79.9,456.7 L80.15,456.7 L80.4,456.7 L80.65,456.7 L80.9,456.7 L81.15,456.7 L81.4,456.7 L81.65,456.7 L81.9,456.7 L82.15,456.7 L82.4,456.7 L82.65,456.69 L82.9,456.68 L83.15,456.66 L83.4,456.61 L83.65,456.53 L83.9,456.38 L84.15,456.13 L84.4,455.72 L84.65,455.08 L84.9,454.14 L85.15,452.82 L85.4,451.06 L85.65,448.85 L85.9,446.21 L86.15,443.25 L86.4,440.18 L86.65,437.24 L86.9,434.72 L87.15,432.9 L87.4,431.98 L87.65,432.09 L87.9,433.2 L88.15,435.18 L88.4,437.81 L88.65,440.8 L88.9,443.86 L89.15,446.76 L89.4,449.32 L89.65,451.45 L89.9,453.11 L90.15,454.33 L90.4,455.19 L90.65,455.73 L90.9,456.04 L91.15,456.15 L91.4,456.1 L91.65,455.9 L91.9,455.54 L92.15,455 L92.4,454.29 L92.65,453.41 L92.9,452.38 L93.15,451.26 L93.4,450.12 L93.65,449.08 L93.9,448.24 L94.15,447.69 L94.4,447.5 L94.65,447.69 L94.9,448.24 L95.15,449.08 L95.4,450.13 L95.65,451.26 L95.9,452.38 L96.15,453.41 L96.4,454.3 L96.65,455.02 L96.9,455.57 L97.15,455.97 L97.4,456.25 L97.65,456.44 L97.9,456.55 L98.15,456.62 L98.4,456.66 L98.65,456.68 L98.9,456.69 L99.15,456.7 L99.4,456.7 L99.65,456.7 L99.9,456.7 L100.15,456.7 L100.4,456.7 L100.65,456.7 L100.9,456.7 L101.15,456.7 L101.4,456.7 L101.65,456.7 L101.9,456.7 L102.15,456.7 L102.4,456.7 L102.65,456.7 L102.9,456.7 L103.15,456.7 L103.4,456.7 L103.65,456.7 L103.9,456.7 L104.15,456.7 L104.4,456.7 L104.65,456.7 L104.9,456.7 L105.15,456.7 L105.4,456.7 L105.65,456.7 L105.9,456.7 L106.15,456.7 L106.4,456.7 L106.65,456.7 L106.9,456.7 L107.15,456.7 L107.4,456.7 L107.65,456.7 L107.9,456.7 L108.15,456.7 L108.4,456.7 L108.65,456.7 L108.9,456.7 L109.15,456.7 L109.4,456.7 L109.65,456.7 L109.9,456.7 L110.15,456.7 L110.4,456.7 L110.65,456.7 L110.9,456.7 L111.15,456.7 L111.4,456.7 L111.65,456.7 L111.9,456.7 L112.15,456.7 L112.4,456.7 L112.65,456.7 L112.9,456.7 L113.15,456.7 L113.4,456.7 L113.65,456.7 L113.9,456.7 L114.15,456.7 L114.4,456.7 L114.65,456.7 L114.9,456.7 L115.15,456.7 L115.4,456.7 L115.65,456.7 L115.9,456.7 L116.15,456.7 L116.4,456.7 L116.65,456.7 L116.9,456.7 L117.15,456.7 L117.4,456.7 L117.65,456.7 L117.9,456.7 L118.15,456.7 L118.4,456.7 L118.65,456.7 L118.9,456.7 L119.15,456.7 L119.4,456.7 L119.65,456.7 L119.9,456.7 L120.15,456.7 L120.4,456.7 L120.65,456.7 L120.9,456.7 L121.15,456.7 L121.4,456.7 L121.65,456.7 L121.9,456.7 L122.15,456.7 L122.4,456.7 L122.65,456.7 L122.9,456.7 L123.15,456.7 L123.4,456.7 L123.65,456.7 L123.9,456.7 L124.15,456.7 L124.4,456.7 L124.65,456.7 L124.9,456.7 L125.15,456.7 L125.4,456.7 L125.65,456.7 L125.9,456.7 L126.15,456.7 L126.4,456.7 L126.65,456.7 L126.9,456.7 L127.15,456.7 L127.4,456.7 L127.65,456.7 L127.9,456.7 L128.15,456.7 L128.4,456.7 L128.65,456.7 L128.9,456.7 L129.15,456.7 L129.4,456.7 L129.65,456.7 L129.9,456.7 L130.15,456.7 L130.4,456.7 L130.65,456.7 L130.9,456.7 L131.15,456.7 L131.4,456.7 L131.65,456.7 L131.9,456.7 L132.15,456.7 L132.4,456.7 L132.65,456.7 L132.9,456.7 L133.15,456.7 L133.4,456.7 L133.65,456.7 L133.9,456.7 L134.15,456.7 L134.4,456.69 L134.65,456.68 L134.9,456.66 L135.15,456.63 L135.4,456.55 L135.65,456.42 L135.9,456.2 L136.15,455.83 L136.4,455.26 L136.65,454.4 L136.9,453.19 L137.15,451.56 L137.4,449.47 L137.65,446.96 L137.9,444.12 L138.15,441.12 L138.4,438.19 L138.65,435.62 L138.9,433.67 L139.15,432.58 L139.4,432.48 L139.65,433.38 L139.9,435.17 L140.15,437.64 L140.4,440.52 L140.65,443.53 L140.9,446.42 L141.15,449 L141.4,451.18 L141.65,452.9 L141.9,454.19 L142.15,455.11 L142.4,455.74 L142.65,456.14 L142.9,456.39 L143.15,456.53 L143.4,456.61 L143.65,456.66 L143.9,456.68 L144.15,456.69 L144.4,456.7 L144.65,456.7 L144.9,456.7 L145.15,456.7 L145.4,456.7 L145.65,456.7 L145.9,456.7 L146.15,456.7 L146.4,456.7 L146.65,456.7 L146.9,456.7 L147.15,456.7 L147.4,456.7 L147.65,456.7 L147.9,456.7 L148.15,456.7 L148.4,456.7 L148.65,456.7 L148.9,456.7 L149.15,456.7 L149.4,456.7 L149.65,456.7 L149.9,456.7 L150.15,456.7 L150.4,456.7 L150.65,456.7 L150.9,456.7 L151.15,456.7 L151.4,456.7 L151.65,456.7 L151.9,456.7 L152.15,456.7 L152.4,456.7 L152.65,456.7 L152.9,456.7 L153.15,456.7 L153.4,456.7 L153.65,456.7 L153.9,456.7 L154.15,456.7 L154.4,456.69 L154.65,456.68 L154.9,456.66 L155.15,456.62 L155.4,456.55 L155.65,456.42 L155.9,456.19 L156.15,455.82 L156.4,455.23 L156.65,454.36 L156.9,453.12 L157.15,451.45 L157.4,449.32 L157.65,446.76 L157.9,443.86 L158.15,440.8 L158.4,437.81 L158.65,435.18 L158.9,433.2 L159.15,432.09 L159.4,431.98 L159.65,432.9 L159.9,434.72 L160.15,437.24 L160.4,440.18 L160.65,443.25 L160.9,446.21" stroke="#de6e76" stroke-width="1.1" fill="none" stroke-linejoin="round"/>
<rect x="23.4" y="405.9" width="138.1" height="52.4" fill="none" stroke="#555" stroke-width="1"/>
<text x="159.2" y="412.7" font-size="6.6" text-anchor="end" fill="#333" stroke="#333">Reverse</text>
<text x="0.6" y="494.3" font-size="10.4" font-weight="bold" fill="#111" stroke="#111">D</text>
<line x1="35.2" y1="501.5" x2="35.2" y2="562.2" stroke="#333" stroke-width="1.1"/>
<line x1="35.2" y1="562.2" x2="92.88" y2="562.2" stroke="#333" stroke-width="1.1"/>
<line x1="33.2" y1="562.2" x2="35.2" y2="562.2" stroke="#333" stroke-width="1"/>
<text x="31.8" y="565.15" font-size="8.2" text-anchor="end" fill="#1c1c1c" stroke="#1c1c1c">0</text>
<line x1="33.2" y1="547.15" x2="35.2" y2="547.15" stroke="#333" stroke-width="1"/>
<text x="31.8" y="550.1" font-size="8.2" text-anchor="end" fill="#1c1c1c" stroke="#1c1c1c">1</text>
<line x1="33.2" y1="532.1" x2="35.2" y2="532.1" stroke="#333" stroke-width="1"/>
<text x="31.8" y="535.05" font-size="8.2" text-anchor="end" fill="#1c1c1c" stroke="#1c1c1c">2</text>
<line x1="33.2" y1="517.05" x2="35.2" y2="517.05" stroke="#333" stroke-width="1"/>
<text x="31.8" y="520" font-size="8.2" text-anchor="end" fill="#1c1c1c" stroke="#1c1c1c">3</text>
<line x1="33.2" y1="502" x2="35.2" y2="502" stroke="#333" stroke-width="1"/>
<text x="31.8" y="504.95" font-size="8.2" text-anchor="end" fill="#1c1c1c" stroke="#1c1c1c">4</text>
<line x1="35.2" y1="562.2" x2="35.2" y2="564.2" stroke="#333" stroke-width="1"/>
<text x="35.2" y="573.1" font-size="8.2" text-anchor="middle" fill="#1c1c1c" stroke="#1c1c1c">0</text>
<line x1="54.26" y1="562.2" x2="54.26" y2="564.2" stroke="#333" stroke-width="1"/>
<text x="54.26" y="573.1" font-size="8.2" text-anchor="middle" fill="#1c1c1c" stroke="#1c1c1c">2</text>
<line x1="73.32" y1="562.2" x2="73.32" y2="564.2" stroke="#333" stroke-width="1"/>
<text x="73.32" y="573.1" font-size="8.2" text-anchor="middle" fill="#1c1c1c" stroke="#1c1c1c">4</text>
<line x1="92.38" y1="562.2" x2="92.38" y2="564.2" stroke="#333" stroke-width="1"/>
<text x="92.38" y="573.1" font-size="8.2" text-anchor="middle" fill="#1c1c1c" stroke="#1c1c1c">6</text>
<path d="M35.2,547.15 L39.97,535.11 L44.73,541.13 L54.26,542.63 L73.32,549.41 L92.38,551.67" stroke="#111" stroke-width="1.2" fill="none"/>
<circle cx="35.2" cy="547.15" r="1.75" fill="#111"/>
<line x1="39.97" y1="531.35" x2="39.97" y2="538.87" stroke="#111" stroke-width="0.9"/>
<line x1="38.67" y1="531.35" x2="41.27" y2="531.35" stroke="#111" stroke-width="0.9"/>
<line x1="38.67" y1="538.87" x2="41.27" y2="538.87" stroke="#111" stroke-width="0.9"/>
<circle cx="39.97" cy="535.11" r="1.75" fill="#111"/>
<line x1="44.73" y1="537.37" x2="44.73" y2="544.89" stroke="#111" stroke-width="0.9"/>
<line x1="43.43" y1="537.37" x2="46.03" y2="537.37" stroke="#111" stroke-width="0.9"/>
<line x1="43.43" y1="544.89" x2="46.03" y2="544.89" stroke="#111" stroke-width="0.9"/>
<circle cx="44.73" cy="541.13" r="1.75" fill="#111"/>
<line x1="54.26" y1="541.13" x2="54.26" y2="544.14" stroke="#111" stroke-width="0.9"/>
<line x1="52.96" y1="541.13" x2="55.56" y2="541.13" stroke="#111" stroke-width="0.9"/>
<line x1="52.96" y1="544.14" x2="55.56" y2="544.14" stroke="#111" stroke-width="0.9"/>
<circle cx="54.26" cy="542.63" r="1.75" fill="#111"/>
<line x1="73.32" y1="547.6" x2="73.32" y2="551.21" stroke="#111" stroke-width="0.9"/>
<line x1="72.02" y1="547.6" x2="74.62" y2="547.6" stroke="#111" stroke-width="0.9"/>
<line x1="72.02" y1="551.21" x2="74.62" y2="551.21" stroke="#111" stroke-width="0.9"/>
<circle cx="73.32" cy="549.41" r="1.75" fill="#111"/>
<line x1="92.38" y1="549.41" x2="92.38" y2="553.92" stroke="#111" stroke-width="0.9"/>
<line x1="91.08" y1="549.41" x2="93.68" y2="549.41" stroke="#111" stroke-width="0.9"/>
<line x1="91.08" y1="553.92" x2="93.68" y2="553.92" stroke="#111" stroke-width="0.9"/>
<circle cx="92.38" cy="551.67" r="1.75" fill="#111"/>
<path d="M35.2,547.15 L39.97,523.07 L44.73,511.03 L54.26,505.31 L73.32,526.08 L92.38,531.65" stroke="#d03a48" stroke-width="1.3" fill="none"/>
<circle cx="35.2" cy="547.15" r="1.4" fill="#b81c2c"/>
<circle cx="39.97" cy="523.07" r="1.4" fill="#b81c2c"/>
<circle cx="44.73" cy="511.03" r="1.4" fill="#b81c2c"/>
<circle cx="54.26" cy="505.31" r="1.4" fill="#b81c2c"/>
<circle cx="73.32" cy="526.08" r="1.4" fill="#b81c2c"/>
<circle cx="92.38" cy="531.65" r="1.4" fill="#b81c2c"/>
<line x1="57.3" y1="490.8" x2="64.3" y2="490.8" stroke="#d03a48" stroke-width="1.1"/>
<circle cx="60.8" cy="490.8" r="1.1" fill="#b81c2c"/>
<text x="67.6" y="494.4" font-size="7.8" fill="#1c1c1c" stroke="#1c1c1c">2nd-4525</text>
<line x1="57.3" y1="501.1" x2="64.3" y2="501.1" stroke="#111" stroke-width="1.1"/>
<circle cx="60.8" cy="501.1" r="1.5" fill="#111"/>
<text x="67.6" y="504.7" font-size="7.8" fill="#1c1c1c" stroke="#1c1c1c">WT</text>
<line x1="114" y1="501.5" x2="114" y2="562.2" stroke="#333" stroke-width="1.1"/>
<line x1="114" y1="562.2" x2="171.68" y2="562.2" stroke="#333" stroke-width="1.1"/>
<line x1="112" y1="562.2" x2="114" y2="562.2" stroke="#333" stroke-width="1"/>
<text x="110.6" y="565.15" font-size="8.2" text-anchor="end" fill="#1c1c1c" stroke="#1c1c1c">0</text>
<line x1="112" y1="547.15" x2="114" y2="547.15" stroke="#333" stroke-width="1"/>
<text x="110.6" y="550.1" font-size="8.2" text-anchor="end" fill="#1c1c1c" stroke="#1c1c1c">1</text>
<line x1="112" y1="532.1" x2="114" y2="532.1" stroke="#333" stroke-width="1"/>
<text x="110.6" y="535.05" font-size="8.2" text-anchor="end" fill="#1c1c1c" stroke="#1c1c1c">2</text>
<line x1="112" y1="517.05" x2="114" y2="517.05" stroke="#333" stroke-width="1"/>
<text x="110.6" y="520" font-size="8.2" text-anchor="end" fill="#1c1c1c" stroke="#1c1c1c">3</text>
<line x1="112" y1="502" x2="114" y2="502" stroke="#333" stroke-width="1"/>
<text x="110.6" y="504.95" font-size="8.2" text-anchor="end" fill="#1c1c1c" stroke="#1c1c1c">4</text>
<line x1="114" y1="562.2" x2="114" y2="564.2" stroke="#333" stroke-width="1"/>
<text x="114" y="573.1" font-size="8.2" text-anchor="middle" fill="#1c1c1c" stroke="#1c1c1c">0</text>
<line x1="133.06" y1="562.2" x2="133.06" y2="564.2" stroke="#333" stroke-width="1"/>
<text x="133.06" y="573.1" font-size="8.2" text-anchor="middle" fill="#1c1c1c" stroke="#1c1c1c">2</text>
<line x1="152.12" y1="562.2" x2="152.12" y2="564.2" stroke="#333" stroke-width="1"/>
<text x="152.12" y="573.1" font-size="8.2" text-anchor="middle" fill="#1c1c1c" stroke="#1c1c1c">4</text>
<line x1="171.18" y1="562.2" x2="171.18" y2="564.2" stroke="#333" stroke-width="1"/>
<text x="171.18" y="573.1" font-size="8.2" text-anchor="middle" fill="#1c1c1c" stroke="#1c1c1c">6</text>
<path d="M114,547.15 L118.77,535.11 L123.53,541.13 L133.06,542.63 L152.12,549.41 L171.18,551.67" stroke="#111" stroke-width="1.2" fill="none"/>
<circle cx="114" cy="547.15" r="1.75" fill="#111"/>
<line x1="118.77" y1="531.35" x2="118.77" y2="538.87" stroke="#111" stroke-width="0.9"/>
<line x1="117.47" y1="531.35" x2="120.06" y2="531.35" stroke="#111" stroke-width="0.9"/>
<line x1="117.47" y1="538.87" x2="120.06" y2="538.87" stroke="#111" stroke-width="0.9"/>
<circle cx="118.77" cy="535.11" r="1.75" fill="#111"/>
<line x1="123.53" y1="537.37" x2="123.53" y2="544.89" stroke="#111" stroke-width="0.9"/>
<line x1="122.23" y1="537.37" x2="124.83" y2="537.37" stroke="#111" stroke-width="0.9"/>
<line x1="122.23" y1="544.89" x2="124.83" y2="544.89" stroke="#111" stroke-width="0.9"/>
<circle cx="123.53" cy="541.13" r="1.75" fill="#111"/>
<line x1="133.06" y1="541.13" x2="133.06" y2="544.14" stroke="#111" stroke-width="0.9"/>
<line x1="131.76" y1="541.13" x2="134.36" y2="541.13" stroke="#111" stroke-width="0.9"/>
<line x1="131.76" y1="544.14" x2="134.36" y2="544.14" stroke="#111" stroke-width="0.9"/>
<circle cx="133.06" cy="542.63" r="1.75" fill="#111"/>
<line x1="152.12" y1="547.6" x2="152.12" y2="551.21" stroke="#111" stroke-width="0.9"/>
<line x1="150.82" y1="547.6" x2="153.42" y2="547.6" stroke="#111" stroke-width="0.9"/>
<line x1="150.82" y1="551.21" x2="153.42" y2="551.21" stroke="#111" stroke-width="0.9"/>
<circle cx="152.12" cy="549.41" r="1.75" fill="#111"/>
<line x1="171.18" y1="549.41" x2="171.18" y2="553.92" stroke="#111" stroke-width="0.9"/>
<line x1="169.88" y1="549.41" x2="172.48" y2="549.41" stroke="#111" stroke-width="0.9"/>
<line x1="169.88" y1="553.92" x2="172.48" y2="553.92" stroke="#111" stroke-width="0.9"/>
<circle cx="171.18" cy="551.67" r="1.75" fill="#111"/>
<path d="M114,547.15 L118.77,502 L123.53,532.85 L133.06,541.13 L152.12,538.87 L171.18,539.62" stroke="#d03a48" stroke-width="1.3" fill="none"/>
<circle cx="114" cy="547.15" r="1.4" fill="#b81c2c"/>
<circle cx="118.77" cy="502" r="1.4" fill="#b81c2c"/>
<circle cx="123.53" cy="532.85" r="1.4" fill="#b81c2c"/>
<circle cx="133.06" cy="541.13" r="1.4" fill="#b81c2c"/>
<circle cx="152.12" cy="538.87" r="1.4" fill="#b81c2c"/>
<circle cx="171.18" cy="539.62" r="1.4" fill="#b81c2c"/>
<line x1="137.1" y1="490.8" x2="144.1" y2="490.8" stroke="#d03a48" stroke-width="1.1"/>
<circle cx="140.6" cy="490.8" r="1.1" fill="#b81c2c"/>
<text x="147.4" y="494.4" font-size="7.8" fill="#1c1c1c" stroke="#1c1c1c">7914</text>
<line x1="137.1" y1="501.1" x2="144.1" y2="501.1" stroke="#111" stroke-width="1.1"/>
<circle cx="140.6" cy="501.1" r="1.5" fill="#111"/>
<text x="147.4" y="504.7" font-size="7.8" fill="#1c1c1c" stroke="#1c1c1c">WT</text>
<line x1="193.1" y1="501.5" x2="193.1" y2="562.2" stroke="#333" stroke-width="1.1"/>
<line x1="193.1" y1="562.2" x2="250.78" y2="562.2" stroke="#333" stroke-width="1.1"/>
<line x1="191.1" y1="562.2" x2="193.1" y2="562.2" stroke="#333" stroke-width="1"/>
<text x="189.7" y="565.15" font-size="8.2" text-anchor="end" fill="#1c1c1c" stroke="#1c1c1c">0</text>
<line x1="191.1" y1="547.15" x2="193.1" y2="547.15" stroke="#333" stroke-width="1"/>
<text x="189.7" y="550.1" font-size="8.2" text-anchor="end" fill="#1c1c1c" stroke="#1c1c1c">1</text>
<line x1="191.1" y1="532.1" x2="193.1" y2="532.1" stroke="#333" stroke-width="1"/>
<text x="189.7" y="535.05" font-size="8.2" text-anchor="end" fill="#1c1c1c" stroke="#1c1c1c">2</text>
<line x1="191.1" y1="517.05" x2="193.1" y2="517.05" stroke="#333" stroke-width="1"/>
<text x="189.7" y="520" font-size="8.2" text-anchor="end" fill="#1c1c1c" stroke="#1c1c1c">3</text>
<line x1="191.1" y1="502" x2="193.1" y2="502" stroke="#333" stroke-width="1"/>
<text x="189.7" y="504.95" font-size="8.2" text-anchor="end" fill="#1c1c1c" stroke="#1c1c1c">4</text>
<line x1="193.1" y1="562.2" x2="193.1" y2="564.2" stroke="#333" stroke-width="1"/>
<text x="193.1" y="573.1" font-size="8.2" text-anchor="middle" fill="#1c1c1c" stroke="#1c1c1c">0</text>
<line x1="212.16" y1="562.2" x2="212.16" y2="564.2" stroke="#333" stroke-width="1"/>
<text x="212.16" y="573.1" font-size="8.2" text-anchor="middle" fill="#1c1c1c" stroke="#1c1c1c">2</text>
<line x1="231.22" y1="562.2" x2="231.22" y2="564.2" stroke="#333" stroke-width="1"/>
<text x="231.22" y="573.1" font-size="8.2" text-anchor="middle" fill="#1c1c1c" stroke="#1c1c1c">4</text>
<line x1="250.28" y1="562.2" x2="250.28" y2="564.2" stroke="#333" stroke-width="1"/>
<text x="250.28" y="573.1" font-size="8.2" text-anchor="middle" fill="#1c1c1c" stroke="#1c1c1c">6</text>
<path d="M193.1,547.15 L197.86,535.11 L202.63,541.13 L212.16,542.63 L231.22,549.41 L250.28,551.67" stroke="#111" stroke-width="1.2" fill="none"/>
<circle cx="193.1" cy="547.15" r="1.75" fill="#111"/>
<line x1="197.86" y1="531.35" x2="197.86" y2="538.87" stroke="#111" stroke-width="0.9"/>
<line x1="196.56" y1="531.35" x2="199.16" y2="531.35" stroke="#111" stroke-width="0.9"/>
<line x1="196.56" y1="538.87" x2="199.16" y2="538.87" stroke="#111" stroke-width="0.9"/>
<circle cx="197.86" cy="535.11" r="1.75" fill="#111"/>
<line x1="202.63" y1="537.37" x2="202.63" y2="544.89" stroke="#111" stroke-width="0.9"/>
<line x1="201.33" y1="537.37" x2="203.93" y2="537.37" stroke="#111" stroke-width="0.9"/>
<line x1="201.33" y1="544.89" x2="203.93" y2="544.89" stroke="#111" stroke-width="0.9"/>
<circle cx="202.63" cy="541.13" r="1.75" fill="#111"/>
<line x1="212.16" y1="541.13" x2="212.16" y2="544.14" stroke="#111" stroke-width="0.9"/>
<line x1="210.86" y1="541.13" x2="213.46" y2="541.13" stroke="#111" stroke-width="0.9"/>
<line x1="210.86" y1="544.14" x2="213.46" y2="544.14" stroke="#111" stroke-width="0.9"/>
<circle cx="212.16" cy="542.63" r="1.75" fill="#111"/>
<line x1="231.22" y1="547.6" x2="231.22" y2="551.21" stroke="#111" stroke-width="0.9"/>
<line x1="229.92" y1="547.6" x2="232.52" y2="547.6" stroke="#111" stroke-width="0.9"/>
<line x1="229.92" y1="551.21" x2="232.52" y2="551.21" stroke="#111" stroke-width="0.9"/>
<circle cx="231.22" cy="549.41" r="1.75" fill="#111"/>
<line x1="250.28" y1="549.41" x2="250.28" y2="553.92" stroke="#111" stroke-width="0.9"/>
<line x1="248.98" y1="549.41" x2="251.58" y2="549.41" stroke="#111" stroke-width="0.9"/>
<line x1="248.98" y1="553.92" x2="251.58" y2="553.92" stroke="#111" stroke-width="0.9"/>
<circle cx="250.28" cy="551.67" r="1.75" fill="#111"/>
<path d="M193.1,547.15 L197.86,539.62 L202.63,540.38 L212.16,539.62 L231.22,544.89 L250.28,550.16" stroke="#d03a48" stroke-width="1.3" fill="none"/>
<circle cx="193.1" cy="547.15" r="1.4" fill="#b81c2c"/>
<circle cx="197.86" cy="539.62" r="1.4" fill="#b81c2c"/>
<circle cx="202.63" cy="540.38" r="1.4" fill="#b81c2c"/>
<circle cx="212.16" cy="539.62" r="1.4" fill="#b81c2c"/>
<circle cx="231.22" cy="544.89" r="1.4" fill="#b81c2c"/>
<circle cx="250.28" cy="550.16" r="1.4" fill="#b81c2c"/>
<line x1="216" y1="490.8" x2="223" y2="490.8" stroke="#d03a48" stroke-width="1.1"/>
<circle cx="219.5" cy="490.8" r="1.1" fill="#b81c2c"/>
<text x="226.3" y="494.4" font-size="7.8" fill="#1c1c1c" stroke="#1c1c1c">7103</text>
<line x1="216" y1="501.1" x2="223" y2="501.1" stroke="#111" stroke-width="1.1"/>
<circle cx="219.5" cy="501.1" r="1.5" fill="#111"/>
<text x="226.3" y="504.7" font-size="7.8" fill="#1c1c1c" stroke="#1c1c1c">WT</text>
<line x1="36.5" y1="592" x2="36.5" y2="652.7" stroke="#333" stroke-width="1.1"/>
<line x1="36.5" y1="652.7" x2="94.18" y2="652.7" stroke="#333" stroke-width="1.1"/>
<line x1="34.5" y1="652.7" x2="36.5" y2="652.7" stroke="#333" stroke-width="1"/>
<text x="33.1" y="655.65" font-size="8.2" text-anchor="end" fill="#1c1c1c" stroke="#1c1c1c">0</text>
<line x1="34.5" y1="637.65" x2="36.5" y2="637.65" stroke="#333" stroke-width="1"/>
<text x="33.1" y="640.6" font-size="8.2" text-anchor="end" fill="#1c1c1c" stroke="#1c1c1c">1</text>
<line x1="34.5" y1="622.6" x2="36.5" y2="622.6" stroke="#333" stroke-width="1"/>
<text x="33.1" y="625.55" font-size="8.2" text-anchor="end" fill="#1c1c1c" stroke="#1c1c1c">2</text>
<line x1="34.5" y1="607.55" x2="36.5" y2="607.55" stroke="#333" stroke-width="1"/>
<text x="33.1" y="610.5" font-size="8.2" text-anchor="end" fill="#1c1c1c" stroke="#1c1c1c">3</text>
<line x1="34.5" y1="592.5" x2="36.5" y2="592.5" stroke="#333" stroke-width="1"/>
<text x="33.1" y="595.45" font-size="8.2" text-anchor="end" fill="#1c1c1c" stroke="#1c1c1c">4</text>
<line x1="36.5" y1="652.7" x2="36.5" y2="654.7" stroke="#333" stroke-width="1"/>
<text x="36.5" y="663.6" font-size="8.2" text-anchor="middle" fill="#1c1c1c" stroke="#1c1c1c">0</text>
<line x1="55.56" y1="652.7" x2="55.56" y2="654.7" stroke="#333" stroke-width="1"/>
<text x="55.56" y="663.6" font-size="8.2" text-anchor="middle" fill="#1c1c1c" stroke="#1c1c1c">2</text>
<line x1="74.62" y1="652.7" x2="74.62" y2="654.7" stroke="#333" stroke-width="1"/>
<text x="74.62" y="663.6" font-size="8.2" text-anchor="middle" fill="#1c1c1c" stroke="#1c1c1c">4</text>
<line x1="93.68" y1="652.7" x2="93.68" y2="654.7" stroke="#333" stroke-width="1"/>
<text x="93.68" y="663.6" font-size="8.2" text-anchor="middle" fill="#1c1c1c" stroke="#1c1c1c">6</text>
<path d="M36.5,637.65 L41.27,626.36 L55.56,631.63 L74.62,633.89 L93.68,639.91" stroke="#111" stroke-width="1.2" fill="none"/>
<circle cx="36.5" cy="637.65" r="1.75" fill="#111"/>
<line x1="41.27" y1="622.6" x2="41.27" y2="630.12" stroke="#111" stroke-width="0.9"/>
<line x1="39.97" y1="622.6" x2="42.56" y2="622.6" stroke="#111" stroke-width="0.9"/>
<line x1="39.97" y1="630.12" x2="42.56" y2="630.12" stroke="#111" stroke-width="0.9"/>
<circle cx="41.27" cy="626.36" r="1.75" fill="#111"/>
<line x1="55.56" y1="627.12" x2="55.56" y2="636.15" stroke="#111" stroke-width="0.9"/>
<line x1="54.26" y1="627.12" x2="56.86" y2="627.12" stroke="#111" stroke-width="0.9"/>
<line x1="54.26" y1="636.15" x2="56.86" y2="636.15" stroke="#111" stroke-width="0.9"/>
<circle cx="55.56" cy="631.63" r="1.75" fill="#111"/>
<line x1="74.62" y1="632.68" x2="74.62" y2="635.09" stroke="#111" stroke-width="0.9"/>
<line x1="73.32" y1="632.68" x2="75.92" y2="632.68" stroke="#111" stroke-width="0.9"/>
<line x1="73.32" y1="635.09" x2="75.92" y2="635.09" stroke="#111" stroke-width="0.9"/>
<circle cx="74.62" cy="633.89" r="1.75" fill="#111"/>
<line x1="93.68" y1="638.1" x2="93.68" y2="641.71" stroke="#111" stroke-width="0.9"/>
<line x1="92.38" y1="638.1" x2="94.98" y2="638.1" stroke="#111" stroke-width="0.9"/>
<line x1="92.38" y1="641.71" x2="94.98" y2="641.71" stroke="#111" stroke-width="0.9"/>
<circle cx="93.68" cy="639.91" r="1.75" fill="#111"/>
<path d="M36.5,637.65 L41.27,611.31 L55.56,617.03 L74.62,628.62 L93.68,623.05" stroke="#d03a48" stroke-width="1.3" fill="none"/>
<circle cx="36.5" cy="637.65" r="1.4" fill="#b81c2c"/>
<circle cx="41.27" cy="611.31" r="1.4" fill="#b81c2c"/>
<circle cx="55.56" cy="617.03" r="1.4" fill="#b81c2c"/>
<circle cx="74.62" cy="628.62" r="1.4" fill="#b81c2c"/>
<circle cx="93.68" cy="623.05" r="1.4" fill="#b81c2c"/>
<line x1="59.5" y1="581" x2="66.5" y2="581" stroke="#d03a48" stroke-width="1.1"/>
<circle cx="63" cy="581" r="1.1" fill="#b81c2c"/>
<text x="69.8" y="584.6" font-size="7.8" fill="#1c1c1c" stroke="#1c1c1c">7074</text>
<line x1="59.5" y1="591.3" x2="66.5" y2="591.3" stroke="#111" stroke-width="1.1"/>
<circle cx="63" cy="591.3" r="1.5" fill="#111"/>
<text x="69.8" y="594.9" font-size="7.8" fill="#1c1c1c" stroke="#1c1c1c">WT</text>
<line x1="110.8" y1="592" x2="110.8" y2="652.7" stroke="#333" stroke-width="1.1"/>
<line x1="110.8" y1="652.7" x2="168.48" y2="652.7" stroke="#333" stroke-width="1.1"/>
<line x1="108.8" y1="652.7" x2="110.8" y2="652.7" stroke="#333" stroke-width="1"/>
<text x="107.4" y="655.65" font-size="8.2" text-anchor="end" fill="#1c1c1c" stroke="#1c1c1c">0</text>
<line x1="108.8" y1="637.65" x2="110.8" y2="637.65" stroke="#333" stroke-width="1"/>
<text x="107.4" y="640.6" font-size="8.2" text-anchor="end" fill="#1c1c1c" stroke="#1c1c1c">1</text>
<line x1="108.8" y1="622.6" x2="110.8" y2="622.6" stroke="#333" stroke-width="1"/>
<text x="107.4" y="625.55" font-size="8.2" text-anchor="end" fill="#1c1c1c" stroke="#1c1c1c">2</text>
<line x1="108.8" y1="607.55" x2="110.8" y2="607.55" stroke="#333" stroke-width="1"/>
<text x="107.4" y="610.5" font-size="8.2" text-anchor="end" fill="#1c1c1c" stroke="#1c1c1c">3</text>
<line x1="108.8" y1="592.5" x2="110.8" y2="592.5" stroke="#333" stroke-width="1"/>
<text x="107.4" y="595.45" font-size="8.2" text-anchor="end" fill="#1c1c1c" stroke="#1c1c1c">4</text>
<line x1="110.8" y1="652.7" x2="110.8" y2="654.7" stroke="#333" stroke-width="1"/>
<text x="110.8" y="663.6" font-size="8.2" text-anchor="middle" fill="#1c1c1c" stroke="#1c1c1c">0</text>
<line x1="129.86" y1="652.7" x2="129.86" y2="654.7" stroke="#333" stroke-width="1"/>
<text x="129.86" y="663.6" font-size="8.2" text-anchor="middle" fill="#1c1c1c" stroke="#1c1c1c">2</text>
<line x1="148.92" y1="652.7" x2="148.92" y2="654.7" stroke="#333" stroke-width="1"/>
<text x="148.92" y="663.6" font-size="8.2" text-anchor="middle" fill="#1c1c1c" stroke="#1c1c1c">4</text>
<line x1="167.98" y1="652.7" x2="167.98" y2="654.7" stroke="#333" stroke-width="1"/>
<text x="167.98" y="663.6" font-size="8.2" text-anchor="middle" fill="#1c1c1c" stroke="#1c1c1c">6</text>
<path d="M110.8,637.65 L115.56,625.61 L120.33,631.63 L129.86,633.13 L148.92,639.91 L167.98,642.17" stroke="#111" stroke-width="1.2" fill="none"/>
<circle cx="110.8" cy="637.65" r="1.75" fill="#111"/>
<line x1="115.56" y1="621.85" x2="115.56" y2="629.37" stroke="#111" stroke-width="0.9"/>
<line x1="114.27" y1="621.85" x2="116.86" y2="621.85" stroke="#111" stroke-width="0.9"/>
<line x1="114.27" y1="629.37" x2="116.86" y2="629.37" stroke="#111" stroke-width="0.9"/>
<circle cx="115.56" cy="625.61" r="1.75" fill="#111"/>
<line x1="120.33" y1="627.87" x2="120.33" y2="635.39" stroke="#111" stroke-width="0.9"/>
<line x1="119.03" y1="627.87" x2="121.63" y2="627.87" stroke="#111" stroke-width="0.9"/>
<line x1="119.03" y1="635.39" x2="121.63" y2="635.39" stroke="#111" stroke-width="0.9"/>
<circle cx="120.33" cy="631.63" r="1.75" fill="#111"/>
<line x1="129.86" y1="631.63" x2="129.86" y2="634.64" stroke="#111" stroke-width="0.9"/>
<line x1="128.56" y1="631.63" x2="131.16" y2="631.63" stroke="#111" stroke-width="0.9"/>
<line x1="128.56" y1="634.64" x2="131.16" y2="634.64" stroke="#111" stroke-width="0.9"/>
<circle cx="129.86" cy="633.13" r="1.75" fill="#111"/>
<line x1="148.92" y1="638.1" x2="148.92" y2="641.71" stroke="#111" stroke-width="0.9"/>
<line x1="147.62" y1="638.1" x2="150.22" y2="638.1" stroke="#111" stroke-width="0.9"/>
<line x1="147.62" y1="641.71" x2="150.22" y2="641.71" stroke="#111" stroke-width="0.9"/>
<circle cx="148.92" cy="639.91" r="1.75" fill="#111"/>
<line x1="167.98" y1="639.91" x2="167.98" y2="644.42" stroke="#111" stroke-width="0.9"/>
<line x1="166.68" y1="639.91" x2="169.28" y2="639.91" stroke="#111" stroke-width="0.9"/>
<line x1="166.68" y1="644.42" x2="169.28" y2="644.42" stroke="#111" stroke-width="0.9"/>
<circle cx="167.98" cy="642.17" r="1.75" fill="#111"/>
<path d="M110.8,637.65 L115.56,626.36 L120.33,602.58 L129.86,606.5 L148.92,597.92 L167.98,624.86" stroke="#d03a48" stroke-width="1.3" fill="none"/>
<circle cx="110.8" cy="637.65" r="1.4" fill="#b81c2c"/>
<circle cx="115.56" cy="626.36" r="1.4" fill="#b81c2c"/>
<circle cx="120.33" cy="602.58" r="1.4" fill="#b81c2c"/>
<circle cx="129.86" cy="606.5" r="1.4" fill="#b81c2c"/>
<circle cx="148.92" cy="597.92" r="1.4" fill="#b81c2c"/>
<circle cx="167.98" cy="624.86" r="1.4" fill="#b81c2c"/>
<line x1="134.6" y1="581" x2="141.6" y2="581" stroke="#d03a48" stroke-width="1.1"/>
<circle cx="138.1" cy="581" r="1.1" fill="#b81c2c"/>
<text x="144.9" y="584.6" font-size="7.8" fill="#1c1c1c" stroke="#1c1c1c">6327</text>
<line x1="134.6" y1="591.3" x2="141.6" y2="591.3" stroke="#111" stroke-width="1.1"/>
<circle cx="138.1" cy="591.3" r="1.5" fill="#111"/>
<text x="144.9" y="594.9" font-size="7.8" fill="#1c1c1c" stroke="#1c1c1c">WT</text>
<text x="17.3" y="648" font-size="8.65" fill="#1c1c1c" stroke="#1c1c1c" transform="rotate(-90 17.3 648)">Relative γ-H2AX MFI</text>
<line x1="14.6" y1="567.5" x2="14.6" y2="512" stroke="#333" stroke-width="1"/>
<path d="M12.4,513.2L14.6,508.0L16.8,513.2Z" stroke="none" stroke-width="0" fill="#222"/>
<text x="36.5" y="674.6" font-size="8.8" fill="#1c1c1c" stroke="#1c1c1c">Hours after 2 Gy irradiation</text>
<line x1="145.9" y1="672.3" x2="202" y2="672.3" stroke="#333" stroke-width="1"/>
<path d="M201,670.1L206.2,672.3L201,674.5Z" stroke="none" stroke-width="0" fill="#222"/>
<text x="299.6" y="494.2" font-size="9.8" font-weight="bold" fill="#111" stroke="#111">E</text>
<line x1="326.2" y1="515.8" x2="326.2" y2="625.3" stroke="#222" stroke-width="1.1"/>
<line x1="326.2" y1="625.3" x2="447" y2="625.3" stroke="#222" stroke-width="1.1"/>
<line x1="324.2" y1="625.3" x2="326.2" y2="625.3" stroke="#222" stroke-width="1"/>
<text x="322.1" y="628.25" font-size="8.2" text-anchor="end" fill="#1c1c1c" stroke="#1c1c1c">0</text>
<line x1="324.2" y1="598.05" x2="326.2" y2="598.05" stroke="#222" stroke-width="1"/>
<text x="322.1" y="601" font-size="8.2" text-anchor="end" fill="#1c1c1c" stroke="#1c1c1c">1</text>
<line x1="324.2" y1="570.8" x2="326.2" y2="570.8" stroke="#222" stroke-width="1"/>
<text x="322.1" y="573.75" font-size="8.2" text-anchor="end" fill="#1c1c1c" stroke="#1c1c1c">2</text>
<line x1="324.2" y1="543.55" x2="326.2" y2="543.55" stroke="#222" stroke-width="1"/>
<text x="322.1" y="546.5" font-size="8.2" text-anchor="end" fill="#1c1c1c" stroke="#1c1c1c">3</text>
<line x1="324.2" y1="516.3" x2="326.2" y2="516.3" stroke="#222" stroke-width="1"/>
<text x="322.1" y="519.25" font-size="8.2" text-anchor="end" fill="#1c1c1c" stroke="#1c1c1c">4</text>
<rect x="329.2" y="598.5" width="5.85" height="26.8" fill="#111" stroke="#1a0a0a" stroke-width="0.9"/>
<rect x="337.2" y="598.5" width="5.6" height="26.8" fill="#e63c33" stroke="#1a0a0a" stroke-width="0.9"/>
<text x="336.25" y="638" font-size="8.2" text-anchor="middle" fill="#1c1c1c" stroke="#1c1c1c">0</text>
<line x1="352.88" y1="569.44" x2="352.88" y2="577.07" stroke="#222" stroke-width="0.9"/>
<line x1="351.57" y1="569.44" x2="354.18" y2="569.44" stroke="#222" stroke-width="0.9"/>
<rect x="349.95" y="577.52" width="5.85" height="47.78" fill="#111" stroke="#1a0a0a" stroke-width="0.9"/>
<line x1="360.75" y1="545.18" x2="360.75" y2="557.72" stroke="#222" stroke-width="0.9"/>
<line x1="359.45" y1="545.18" x2="362.05" y2="545.18" stroke="#222" stroke-width="0.9"/>
<rect x="357.95" y="558.17" width="5.6" height="67.13" fill="#e63c33" stroke="#1a0a0a" stroke-width="0.9"/>
<text x="357" y="638" font-size="8.2" text-anchor="middle" fill="#1c1c1c" stroke="#1c1c1c">0.5</text>
<line x1="373.62" y1="578.43" x2="373.62" y2="587.15" stroke="#222" stroke-width="0.9"/>
<line x1="372.32" y1="578.43" x2="374.93" y2="578.43" stroke="#222" stroke-width="0.9"/>
<rect x="370.7" y="587.6" width="5.85" height="37.7" fill="#111" stroke="#1a0a0a" stroke-width="0.9"/>
<line x1="381.5" y1="543.55" x2="381.5" y2="557.17" stroke="#222" stroke-width="0.9"/>
<line x1="380.2" y1="543.55" x2="382.8" y2="543.55" stroke="#222" stroke-width="0.9"/>
<rect x="378.7" y="557.62" width="5.6" height="67.67" fill="#e63c33" stroke="#1a0a0a" stroke-width="0.9"/>
<text x="377.75" y="638" font-size="8.2" text-anchor="middle" fill="#1c1c1c" stroke="#1c1c1c">1</text>
<line x1="394.38" y1="586.88" x2="394.38" y2="590.96" stroke="#222" stroke-width="0.9"/>
<line x1="393.07" y1="586.88" x2="395.68" y2="586.88" stroke="#222" stroke-width="0.9"/>
<rect x="391.45" y="591.41" width="5.85" height="33.88" fill="#111" stroke="#1a0a0a" stroke-width="0.9"/>
<line x1="402.25" y1="547.37" x2="402.25" y2="559.9" stroke="#222" stroke-width="0.9"/>
<line x1="400.95" y1="547.37" x2="403.55" y2="547.37" stroke="#222" stroke-width="0.9"/>
<rect x="399.45" y="560.35" width="5.6" height="64.95" fill="#e63c33" stroke="#1a0a0a" stroke-width="0.9"/>
<text x="398.5" y="638" font-size="8.2" text-anchor="middle" fill="#1c1c1c" stroke="#1c1c1c">2</text>
<line x1="415.12" y1="597.78" x2="415.12" y2="602.41" stroke="#222" stroke-width="0.9"/>
<line x1="413.82" y1="597.78" x2="416.43" y2="597.78" stroke="#222" stroke-width="0.9"/>
<rect x="412.2" y="602.86" width="5.85" height="22.44" fill="#111" stroke="#1a0a0a" stroke-width="0.9"/>
<line x1="423" y1="557.17" x2="423" y2="569.44" stroke="#222" stroke-width="0.9"/>
<line x1="421.7" y1="557.17" x2="424.3" y2="557.17" stroke="#222" stroke-width="0.9"/>
<rect x="420.2" y="569.89" width="5.6" height="55.41" fill="#e63c33" stroke="#1a0a0a" stroke-width="0.9"/>
<text x="419.25" y="638" font-size="8.2" text-anchor="middle" fill="#1c1c1c" stroke="#1c1c1c">4</text>
<line x1="435.88" y1="602.41" x2="435.88" y2="607.31" stroke="#222" stroke-width="0.9"/>
<line x1="434.57" y1="602.41" x2="437.18" y2="602.41" stroke="#222" stroke-width="0.9"/>
<rect x="432.95" y="607.76" width="5.85" height="17.54" fill="#111" stroke="#1a0a0a" stroke-width="0.9"/>
<line x1="443.75" y1="575.43" x2="443.75" y2="581.43" stroke="#222" stroke-width="0.9"/>
<line x1="442.45" y1="575.43" x2="445.05" y2="575.43" stroke="#222" stroke-width="0.9"/>
<rect x="440.95" y="581.88" width="5.6" height="43.42" fill="#e63c33" stroke="#1a0a0a" stroke-width="0.9"/>
<text x="440" y="638" font-size="8.2" text-anchor="middle" fill="#1c1c1c" stroke="#1c1c1c">6</text>
<text x="309.9" y="610.8" font-size="8.6" fill="#1c1c1c" stroke="#1c1c1c" transform="rotate(-90 309.9 610.8)">Relative γ-H2AX MFI</text>
<text x="330.8" y="652" font-size="8.8" fill="#1c1c1c" stroke="#1c1c1c">Hours after 2 Gy irradiation</text>
<rect x="445.4" y="494.3" width="8.6" height="8.6" fill="#111" stroke="#111" stroke-width="0.8"/>
<text x="458.9" y="501.3" font-size="8.8" fill="#1c1c1c" stroke="#1c1c1c">WT</text>
<rect x="445.4" y="507.7" width="8.6" height="8.6" fill="#e63c33" stroke="#222" stroke-width="0.8"/>
<text x="458.9" y="515" font-size="8.8" font-style="italic" fill="#1c1c1c" stroke="#1c1c1c">EA-Trp53 AML</text>
<text x="431.9" y="552.4" font-size="8.8" fill="#262626" stroke="#262626"><tspan font-style="italic">P</tspan> = 0.029</text>
<path d="M434.8,598.5V559.2H443.8V569" stroke="#111" stroke-width="1" fill="none"/>
</svg>
</body></html>
